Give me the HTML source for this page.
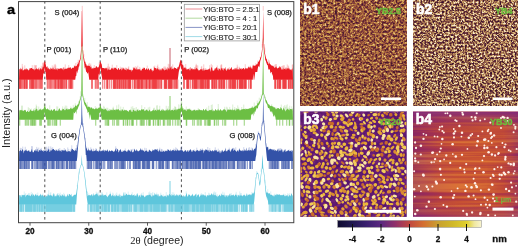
<!DOCTYPE html>
<html><head><meta charset="utf-8"><style>
html,body{margin:0;padding:0;background:#fff;overflow:hidden;}
svg{display:block;}
text{font-family:"Liberation Sans",sans-serif;}
.tk{font-size:8.2px;font-weight:bold;fill:#111;stroke:#111;stroke-width:0.3px;}
.nm{font-size:9.7px;}
.lg{font-size:7.6px;fill:#222;stroke:#222;stroke-width:0.15px;}
.pk{font-size:7.6px;fill:#222;stroke:#222;stroke-width:0.25px;}
.pl{font-size:12.6px;font-weight:bold;fill:#000;stroke:#000;stroke-width:0.4px;}
.xl{font-size:10.6px;fill:#222;}
.yl{font-size:11px;fill:#222;}
.bl{font-size:13.8px;font-weight:bold;fill:#fff;stroke:#fff;stroke-width:0.6px;}
.gl{font-size:9px;font-weight:bold;fill:#6cbc3c;stroke:#6cbc3c;stroke-width:0.35px;}
.gl2{font-size:7px;font-weight:bold;fill:#70c040;}
</style></head><body>
<svg width="520" height="248" viewBox="0 0 520 248">
<defs><filter id="t1" x="0" y="0" width="1" height="1" color-interpolation-filters="sRGB">
<feTurbulence type="fractalNoise" baseFrequency="0.45" numOctaves="3" seed="11"/>
<feColorMatrix type="matrix" values="1 0 0 0 0 1 0 0 0 0 1 0 0 0 0 0 0 0 0 1"/>
<feComponentTransfer><feFuncR type="table" tableValues="0.267 0.267 0.267 0.267 0.267 0.267 0.267 0.267 0.267 0.311 0.355 0.399 0.442 0.485 0.526 0.566 0.607 0.647 0.683 0.717 0.751 0.785 0.818 0.845 0.872 0.899 0.926 0.941 0.941 0.941 0.941 0.941 0.941"/><feFuncG type="table" tableValues="0.094 0.094 0.094 0.094 0.094 0.094 0.094 0.094 0.094 0.118 0.141 0.165 0.189 0.219 0.259 0.300 0.340 0.381 0.429 0.479 0.530 0.581 0.631 0.675 0.719 0.763 0.807 0.831 0.831 0.831 0.831 0.831 0.831"/><feFuncB type="table" tableValues="0.180 0.180 0.180 0.180 0.180 0.180 0.180 0.180 0.180 0.191 0.201 0.211 0.221 0.228 0.230 0.231 0.233 0.235 0.247 0.264 0.281 0.298 0.319 0.379 0.440 0.501 0.562 0.596 0.596 0.596 0.596 0.596 0.596"/></feComponentTransfer>
<feGaussianBlur stdDeviation="0.5"/>
</filter><filter id="t2" x="0" y="0" width="1" height="1" color-interpolation-filters="sRGB">
<feTurbulence type="fractalNoise" baseFrequency="0.52" numOctaves="3" seed="23"/>
<feColorMatrix type="matrix" values="1 0 0 0 0 1 0 0 0 0 1 0 0 0 0 0 0 0 0 1"/>
<feComponentTransfer><feFuncR type="table" tableValues="0.204 0.204 0.204 0.204 0.204 0.204 0.204 0.204 0.236 0.269 0.302 0.335 0.368 0.430 0.494 0.557 0.622 0.686 0.750 0.814 0.849 0.882 0.916 0.950 0.973 0.973 0.973 0.973 0.973 0.973 0.973 0.973 0.973"/><feFuncG type="table" tableValues="0.063 0.063 0.063 0.063 0.063 0.063 0.063 0.063 0.082 0.103 0.123 0.144 0.164 0.226 0.290 0.354 0.426 0.503 0.580 0.657 0.715 0.772 0.829 0.887 0.925 0.925 0.925 0.925 0.925 0.925 0.925 0.925 0.925"/><feFuncB type="table" tableValues="0.165 0.165 0.165 0.165 0.165 0.165 0.165 0.165 0.177 0.189 0.202 0.214 0.227 0.243 0.260 0.276 0.304 0.339 0.373 0.407 0.494 0.581 0.669 0.756 0.816 0.816 0.816 0.816 0.816 0.816 0.816 0.816 0.816"/></feComponentTransfer>
<feGaussianBlur stdDeviation="0.45"/>
</filter><filter id="t3" x="0" y="0" width="1" height="1" color-interpolation-filters="sRGB">
<feTurbulence type="fractalNoise" baseFrequency="0.28" numOctaves="2" seed="5"/>
<feColorMatrix type="matrix" values="1 0 0 0 0 1 0 0 0 0 1 0 0 0 0 0 0 0 0 1"/>
<feComponentTransfer><feFuncR type="table" tableValues="0.251 0.251 0.251 0.251 0.251 0.251 0.251 0.251 0.251 0.251 0.257 0.272 0.287 0.303 0.318 0.333 0.348 0.366 0.384 0.403 0.422 0.440 0.459 0.478 0.478 0.478 0.478 0.478 0.478 0.478 0.478 0.478 0.478"/><feFuncG type="table" tableValues="0.063 0.063 0.063 0.063 0.063 0.063 0.063 0.063 0.063 0.063 0.065 0.071 0.077 0.083 0.088 0.094 0.100 0.108 0.118 0.127 0.136 0.146 0.155 0.164 0.165 0.165 0.165 0.165 0.165 0.165 0.165 0.165 0.165"/><feFuncB type="table" tableValues="0.416 0.416 0.416 0.416 0.416 0.416 0.416 0.416 0.416 0.416 0.419 0.427 0.435 0.443 0.452 0.460 0.468 0.477 0.486 0.496 0.505 0.514 0.524 0.533 0.533 0.533 0.533 0.533 0.533 0.533 0.533 0.533 0.533"/></feComponentTransfer>
<feGaussianBlur stdDeviation="0.45"/>
</filter><filter id="t4" x="0" y="0" width="1" height="1" color-interpolation-filters="sRGB">
<feTurbulence type="fractalNoise" baseFrequency="0.006 0.3" numOctaves="2" seed="9"/>
<feColorMatrix type="matrix" values="1 0 0 0 0 1 0 0 0 0 1 0 0 0 0 0 0 0 0 1"/>
<feComponentTransfer><feFuncR type="table" tableValues="0.627 0.627 0.627 0.627 0.627 0.627 0.627 0.627 0.627 0.627 0.637 0.662 0.686 0.711 0.735 0.760 0.784 0.804 0.824 0.843 0.863 0.882 0.902 0.910 0.910 0.910 0.910 0.910 0.910 0.910 0.910 0.910 0.910"/><feFuncG type="table" tableValues="0.173 0.173 0.173 0.173 0.173 0.173 0.173 0.173 0.173 0.173 0.181 0.203 0.225 0.248 0.270 0.292 0.314 0.348 0.382 0.417 0.451 0.485 0.520 0.533 0.533 0.533 0.533 0.533 0.533 0.533 0.533 0.533 0.533"/><feFuncB type="table" tableValues="0.314 0.314 0.314 0.314 0.314 0.314 0.314 0.314 0.314 0.314 0.307 0.290 0.273 0.255 0.238 0.221 0.204 0.208 0.211 0.215 0.219 0.222 0.226 0.227 0.227 0.227 0.227 0.227 0.227 0.227 0.227 0.227 0.227"/></feComponentTransfer>
<feGaussianBlur stdDeviation="0.4"/>
</filter><filter id="sb" x="-5%" y="-5%" width="110%" height="110%"><feGaussianBlur stdDeviation="0.45"/></filter><linearGradient id="g4h" x1="0" x2="1" y1="0" y2="0"><stop offset="0" stop-color="#6a1e7a"/><stop offset="0.1" stop-color="#8a2a6c"/><stop offset="0.25" stop-color="#b03e48"/><stop offset="0.42" stop-color="#c65234"/><stop offset="0.7" stop-color="#cc5c30"/><stop offset="0.86" stop-color="#b8443c"/><stop offset="0.95" stop-color="#963060"/><stop offset="1" stop-color="#762478"/></linearGradient><linearGradient id="g4v" x1="0" x2="0" y1="0" y2="1"><stop offset="0" stop-color="#7a2480" stop-opacity="0.85"/><stop offset="0.07" stop-color="#7a2480" stop-opacity="0.4"/><stop offset="0.16" stop-color="#7a2480" stop-opacity="0"/><stop offset="0.88" stop-color="#7a2480" stop-opacity="0"/><stop offset="1" stop-color="#7a2480" stop-opacity="0.35"/></linearGradient><linearGradient id="cb"><stop offset="0" stop-color="#0e0a30"/><stop offset="0.1" stop-color="#201850"/><stop offset="0.2" stop-color="#3a2070"/><stop offset="0.3" stop-color="#5a2880"/><stop offset="0.4" stop-color="#90306a"/><stop offset="0.5" stop-color="#c04840"/><stop offset="0.6" stop-color="#d47030"/><stop offset="0.7" stop-color="#c8a030"/><stop offset="0.8" stop-color="#d0b828"/><stop offset="0.9" stop-color="#e0d030"/><stop offset="0.95" stop-color="#f0e8a0"/><stop offset="1" stop-color="#f8f4d0"/></linearGradient></defs>
<rect width="520" height="248" fill="#fff"/>

<line x1="44.8" y1="1.6" x2="44.8" y2="222.5" stroke="#3a3a3a" stroke-width="0.9" stroke-dasharray="2.6 2.8" stroke-dashoffset="0.6"/><line x1="100.2" y1="1.6" x2="100.2" y2="222.5" stroke="#3a3a3a" stroke-width="0.9" stroke-dasharray="2.6 2.8" stroke-dashoffset="0.6"/><line x1="181.4" y1="1.6" x2="181.4" y2="222.5" stroke="#3a3a3a" stroke-width="0.9" stroke-dasharray="2.6 2.8" stroke-dashoffset="0.6"/>
<path d="M170.0 48.0V71.8" stroke="#b83848" stroke-width="0.8" fill="none"/><path d="M19.00 79.80L19.25 69.68L19.75 68.81L20.25 69.68L20.75 67.39L21.25 69.68L21.75 68.81L22.25 67.39L22.75 70.71L23.25 69.68L23.75 70.71L24.25 68.81L24.75 69.68L25.25 69.68L25.75 68.81L26.25 68.06L26.75 69.68L27.25 68.81L27.75 69.68L28.25 69.68L28.75 70.71L29.25 69.68L29.75 68.06L30.25 68.81L30.75 68.06L31.25 68.06L31.75 68.06L32.25 68.81L32.75 68.81L33.25 69.68L33.75 68.81L34.25 68.81L34.75 70.71L35.25 68.81L35.75 69.68L36.25 68.06L36.75 68.81L37.25 68.81L37.75 69.68L38.25 67.39L38.75 69.68L39.25 68.81L39.75 70.71L40.25 68.81L40.75 68.06L41.25 68.81L41.75 69.68L42.25 68.81L42.75 66.26L43.25 67.39L43.75 64.90L44.25 62.61L44.75 61.19L45.25 62.35L45.75 64.51L46.25 66.80L46.75 67.39L47.25 65.77L47.75 68.81L48.25 68.81L48.75 67.39L49.25 69.68L49.75 68.81L50.25 69.68L50.75 67.39L51.25 68.81L51.75 68.81L52.25 67.39L52.75 69.68L53.25 67.39L53.75 69.68L54.25 68.81L54.75 69.68L55.25 67.39L55.75 69.68L56.25 69.68L56.75 68.06L57.25 70.71L57.75 68.06L58.25 68.81L58.75 68.81L59.25 68.81L59.75 68.81L60.25 68.81L60.75 68.06L61.25 68.06L61.75 68.81L62.25 69.68L62.75 68.06L63.25 70.71L63.75 66.80L64.25 69.68L64.75 68.81L65.25 68.81L65.75 68.81L66.25 68.81L66.75 68.81L67.25 67.39L67.75 68.81L68.25 68.06L68.75 67.39L69.25 67.39L69.75 68.06L70.25 66.80L70.75 68.06L71.25 68.81L71.75 68.81L72.25 67.39L72.75 68.06L73.25 67.39L73.75 68.06L74.25 66.26L74.75 65.77L75.25 66.80L75.75 65.77L76.25 66.26L76.75 65.77L77.25 64.15L77.75 64.15L78.25 63.48L78.75 62.10L79.25 60.41L79.75 60.06L80.25 57.38L80.75 53.16L81.25 46.60L81.75 11.20L82.25 10.21L82.75 47.06L83.25 53.69L83.75 56.78L84.25 58.83L84.75 61.86L85.25 61.41L85.75 63.80L86.25 64.15L86.75 65.77L87.25 66.26L87.75 65.32L88.25 65.77L88.75 65.77L89.25 66.26L89.75 65.77L90.25 66.80L90.75 67.39L91.25 66.80L91.75 68.81L92.25 68.81L92.75 68.06L93.25 67.39L93.75 68.81L94.25 68.06L94.75 68.06L95.25 67.39L95.75 68.06L96.25 66.26L96.75 66.26L97.25 67.39L97.75 67.39L98.25 67.39L98.75 66.80L99.25 65.32L99.75 62.89L100.25 61.41L100.75 62.61L101.25 63.48L101.75 64.51L102.25 68.06L102.75 68.06L103.25 68.06L103.75 68.06L104.25 68.81L104.75 68.06L105.25 68.06L105.75 68.81L106.25 67.39L106.75 68.81L107.25 68.06L107.75 70.71L108.25 68.06L108.75 69.68L109.25 69.68L109.75 69.68L110.25 69.68L110.75 69.68L111.25 67.39L111.75 68.81L112.25 68.81L112.75 68.06L113.25 67.39L113.75 69.68L114.25 68.06L114.75 67.39L115.25 68.06L115.75 67.39L116.25 68.81L116.75 68.81L117.25 69.68L117.75 69.68L118.25 68.06L118.75 68.06L119.25 69.68L119.75 69.68L120.25 68.81L120.75 68.81L121.25 70.71L121.75 67.39L122.25 67.39L122.75 69.68L123.25 68.81L123.75 67.39L124.25 68.81L124.75 69.68L125.25 69.68L125.75 69.68L126.25 70.71L126.75 67.39L127.25 69.68L127.75 68.81L128.25 68.81L128.75 69.68L129.25 69.68L129.75 69.68L130.25 69.68L130.75 69.68L131.25 71.97L131.75 69.68L132.25 69.68L132.75 70.71L133.25 68.81L133.75 67.39L134.25 68.81L134.75 67.39L135.25 68.81L135.75 69.68L136.25 66.80L136.75 69.68L137.25 69.68L137.75 68.81L138.25 69.68L138.75 68.81L139.25 69.68L139.75 68.81L140.25 69.68L140.75 70.71L141.25 70.71L141.75 69.68L142.25 68.81L142.75 68.81L143.25 68.81L143.75 68.06L144.25 68.06L144.75 67.39L145.25 69.68L145.75 69.68L146.25 68.81L146.75 68.06L147.25 69.68L147.75 69.68L148.25 68.81L148.75 68.06L149.25 70.71L149.75 69.68L150.25 68.81L150.75 68.81L151.25 70.71L151.75 68.06L152.25 71.97L152.75 69.68L153.25 70.71L153.75 70.71L154.25 66.80L154.75 68.06L155.25 68.06L155.75 68.06L156.25 69.68L156.75 68.06L157.25 68.06L157.75 68.81L158.25 69.68L158.75 68.81L159.25 70.71L159.75 68.81L160.25 68.81L160.75 70.71L161.25 68.06L161.75 70.71L162.25 68.81L162.75 68.06L163.25 68.81L163.75 69.68L164.25 69.68L164.75 70.71L165.25 69.68L165.75 69.68L166.25 69.68L166.75 68.81L167.25 66.80L167.75 70.71L168.25 67.39L168.75 68.81L169.25 67.39L169.75 69.68L170.25 68.06L170.75 67.39L171.25 66.26L171.75 69.68L172.25 68.81L172.75 68.81L173.25 68.06L173.75 69.68L174.25 66.80L174.75 68.06L175.25 68.06L175.75 68.06L176.25 68.81L176.75 68.81L177.25 68.81L177.75 66.80L178.25 67.39L178.75 66.26L179.25 64.51L179.75 62.35L180.25 60.79L180.75 59.57L181.25 61.41L181.75 63.48L182.25 64.51L182.75 64.90L183.25 65.77L183.75 68.81L184.25 67.39L184.75 67.39L185.25 68.81L185.75 66.80L186.25 68.81L186.75 69.68L187.25 68.81L187.75 69.68L188.25 68.81L188.75 68.81L189.25 70.71L189.75 68.06L190.25 66.80L190.75 70.71L191.25 68.06L191.75 68.81L192.25 69.68L192.75 68.06L193.25 69.68L193.75 68.81L194.25 69.68L194.75 68.81L195.25 68.81L195.75 69.68L196.25 68.06L196.75 68.06L197.25 69.68L197.75 68.06L198.25 69.68L198.75 70.71L199.25 69.68L199.75 70.71L200.25 68.81L200.75 69.68L201.25 68.81L201.75 69.68L202.25 68.81L202.75 70.71L203.25 70.71L203.75 68.06L204.25 69.68L204.75 70.71L205.25 69.68L205.75 69.68L206.25 69.68L206.75 69.68L207.25 69.68L207.75 69.68L208.25 68.81L208.75 69.68L209.25 68.81L209.75 68.06L210.25 71.97L210.75 68.81L211.25 68.06L211.75 66.80L212.25 68.81L212.75 70.71L213.25 70.71L213.75 70.71L214.25 68.06L214.75 70.71L215.25 68.81L215.75 68.06L216.25 68.06L216.75 66.80L217.25 68.06L217.75 69.68L218.25 70.71L218.75 68.06L219.25 68.81L219.75 68.81L220.25 70.71L220.75 68.81L221.25 67.39L221.75 68.81L222.25 68.06L222.75 69.68L223.25 70.71L223.75 68.06L224.25 68.81L224.75 68.81L225.25 66.80L225.75 69.68L226.25 70.71L226.75 70.71L227.25 68.06L227.75 69.68L228.25 69.68L228.75 68.06L229.25 69.68L229.75 69.68L230.25 68.81L230.75 68.81L231.25 66.80L231.75 68.06L232.25 69.68L232.75 69.68L233.25 68.81L233.75 69.68L234.25 69.68L234.75 68.06L235.25 69.68L235.75 68.06L236.25 68.06L236.75 69.68L237.25 68.81L237.75 69.68L238.25 68.81L238.75 69.68L239.25 69.68L239.75 67.39L240.25 68.81L240.75 68.81L241.25 68.06L241.75 69.68L242.25 68.81L242.75 68.81L243.25 68.06L243.75 68.06L244.25 69.68L244.75 68.81L245.25 67.39L245.75 68.81L246.25 68.06L246.75 68.81L247.25 68.81L247.75 68.06L248.25 66.80L248.75 67.39L249.25 68.06L249.75 66.80L250.25 68.06L250.75 66.26L251.25 67.39L251.75 68.81L252.25 68.81L252.75 65.32L253.25 66.26L253.75 64.90L254.25 65.77L254.75 65.77L255.25 65.32L255.75 65.77L256.25 64.15L256.75 64.51L257.25 64.15L257.75 63.18L258.25 61.41L258.75 61.63L259.25 60.60L259.75 59.73L260.25 57.83L260.75 57.07L261.25 54.72L261.75 51.47L262.25 47.23L262.75 37.82L263.25 10.24L263.75 40.13L264.25 47.87L264.75 51.90L265.25 54.59L265.75 56.78L266.25 58.70L266.75 59.12L267.25 61.41L267.75 62.10L268.25 62.89L268.75 64.51L269.25 62.10L269.75 63.80L270.25 64.90L270.75 63.80L271.25 65.77L271.75 65.32L272.25 66.26L272.75 65.77L273.25 65.77L273.75 66.80L274.25 67.39L274.75 68.06L275.25 67.39L275.75 66.80L276.25 66.26L276.75 67.39L277.25 68.81L277.75 68.06L278.25 68.06L278.75 67.39L279.25 67.39L279.75 65.77L280.25 68.06L280.75 66.26L281.25 68.81L281.75 69.68L282.25 69.68L282.75 68.81L283.25 67.39L283.75 69.68L284.25 68.81L284.75 68.81L285.25 69.68L285.75 67.39L286.25 67.39L286.75 69.68L287.25 68.81L287.75 68.06L288.25 68.06L288.75 68.81L289.25 69.68L289.75 68.06L290.25 69.68L290.75 69.68L291.25 68.81L291.75 70.71L292.25 68.81L292.75 67.39L293.00 79.80L292.75 79.80L292.25 79.80L291.75 79.80L291.25 79.80L290.75 79.80L290.25 79.80L289.75 79.80L289.25 79.80L288.75 79.80L288.25 79.80L287.75 79.80L287.25 79.80L286.75 79.80L286.25 79.80L285.75 79.80L285.25 79.80L284.75 79.80L284.25 79.80L283.75 79.80L283.25 79.80L282.75 79.80L282.25 79.80L281.75 79.80L281.25 79.80L280.75 79.80L280.25 79.80L279.75 79.80L279.25 79.80L278.75 79.80L278.25 79.80L277.75 79.80L277.25 79.80L276.75 79.80L276.25 79.80L275.75 79.80L275.25 79.80L274.75 79.80L274.25 79.80L273.75 79.80L273.25 79.80L272.75 73.60L272.25 75.89L271.75 71.97L271.25 71.97L270.75 73.60L270.25 71.97L269.75 68.81L269.25 69.68L268.75 69.68L268.25 68.81L267.75 64.90L267.25 65.32L266.75 63.80L266.25 62.61L265.75 60.41L265.25 60.23L264.75 55.50L264.25 53.21L263.75 48.19L263.25 39.52L262.75 46.40L262.25 51.47L261.75 55.13L261.25 57.94L260.75 59.73L260.25 60.99L259.75 65.32L259.25 67.39L258.75 66.26L258.25 66.26L257.75 68.81L257.25 71.97L256.75 71.97L256.25 71.97L255.75 71.97L255.25 71.97L254.75 75.89L254.25 79.80L253.75 79.80L253.25 73.60L252.75 79.80L252.25 79.80L251.75 79.80L251.25 79.80L250.75 79.80L250.25 79.80L249.75 79.80L249.25 79.80L248.75 79.80L248.25 79.80L247.75 79.80L247.25 79.80L246.75 79.80L246.25 79.80L245.75 79.80L245.25 79.80L244.75 79.80L244.25 79.80L243.75 79.80L243.25 79.80L242.75 79.80L242.25 79.80L241.75 79.80L241.25 79.80L240.75 79.80L240.25 79.80L239.75 79.80L239.25 79.80L238.75 79.80L238.25 79.80L237.75 79.80L237.25 79.80L236.75 79.80L236.25 79.80L235.75 79.80L235.25 79.80L234.75 79.80L234.25 79.80L233.75 79.80L233.25 79.80L232.75 79.80L232.25 79.80L231.75 79.80L231.25 79.80L230.75 79.80L230.25 79.80L229.75 79.80L229.25 79.80L228.75 79.80L228.25 79.80L227.75 79.80L227.25 79.80L226.75 79.80L226.25 79.80L225.75 79.80L225.25 79.80L224.75 79.80L224.25 79.80L223.75 79.80L223.25 79.80L222.75 79.80L222.25 79.80L221.75 79.80L221.25 79.80L220.75 79.80L220.25 79.80L219.75 79.80L219.25 79.80L218.75 79.80L218.25 79.80L217.75 79.80L217.25 79.80L216.75 79.80L216.25 79.80L215.75 79.80L215.25 79.80L214.75 79.80L214.25 79.80L213.75 79.80L213.25 79.80L212.75 79.80L212.25 79.80L211.75 79.80L211.25 79.80L210.75 79.80L210.25 79.80L209.75 79.80L209.25 79.80L208.75 79.80L208.25 79.80L207.75 79.80L207.25 79.80L206.75 79.80L206.25 79.80L205.75 79.80L205.25 79.80L204.75 79.80L204.25 79.80L203.75 79.80L203.25 79.80L202.75 79.80L202.25 79.80L201.75 79.80L201.25 79.80L200.75 79.80L200.25 79.80L199.75 79.80L199.25 79.80L198.75 79.80L198.25 79.80L197.75 79.80L197.25 79.80L196.75 79.80L196.25 79.80L195.75 79.80L195.25 79.80L194.75 79.80L194.25 79.80L193.75 79.80L193.25 79.80L192.75 79.80L192.25 79.80L191.75 79.80L191.25 79.80L190.75 79.80L190.25 79.80L189.75 79.80L189.25 79.80L188.75 79.80L188.25 79.80L187.75 79.80L187.25 79.80L186.75 79.80L186.25 79.80L185.75 79.80L185.25 79.80L184.75 79.80L184.25 79.80L183.75 79.80L183.25 79.80L182.75 75.89L182.25 75.89L181.75 69.68L181.25 68.81L180.75 66.80L180.25 64.90L179.75 68.81L179.25 69.68L178.75 71.97L178.25 75.89L177.75 79.80L177.25 79.80L176.75 79.80L176.25 79.80L175.75 79.80L175.25 79.80L174.75 79.80L174.25 79.80L173.75 79.80L173.25 79.80L172.75 79.80L172.25 79.80L171.75 79.80L171.25 79.80L170.75 79.80L170.25 79.80L169.75 79.80L169.25 79.80L168.75 79.80L168.25 79.80L167.75 79.80L167.25 79.80L166.75 79.80L166.25 79.80L165.75 79.80L165.25 79.80L164.75 79.80L164.25 79.80L163.75 79.80L163.25 79.80L162.75 79.80L162.25 79.80L161.75 79.80L161.25 79.80L160.75 79.80L160.25 79.80L159.75 79.80L159.25 79.80L158.75 79.80L158.25 79.80L157.75 79.80L157.25 79.80L156.75 79.80L156.25 79.80L155.75 79.80L155.25 79.80L154.75 79.80L154.25 79.80L153.75 79.80L153.25 79.80L152.75 79.80L152.25 79.80L151.75 79.80L151.25 79.80L150.75 79.80L150.25 79.80L149.75 79.80L149.25 79.80L148.75 79.80L148.25 79.80L147.75 79.80L147.25 79.80L146.75 79.80L146.25 79.80L145.75 79.80L145.25 79.80L144.75 79.80L144.25 79.80L143.75 79.80L143.25 79.80L142.75 79.80L142.25 79.80L141.75 79.80L141.25 79.80L140.75 79.80L140.25 79.80L139.75 79.80L139.25 79.80L138.75 79.80L138.25 79.80L137.75 79.80L137.25 79.80L136.75 79.80L136.25 79.80L135.75 79.80L135.25 79.80L134.75 79.80L134.25 79.80L133.75 79.80L133.25 79.80L132.75 79.80L132.25 79.80L131.75 79.80L131.25 79.80L130.75 79.80L130.25 79.80L129.75 79.80L129.25 79.80L128.75 79.80L128.25 79.80L127.75 79.80L127.25 79.80L126.75 79.80L126.25 79.80L125.75 79.80L125.25 79.80L124.75 79.80L124.25 79.80L123.75 79.80L123.25 79.80L122.75 79.80L122.25 79.80L121.75 79.80L121.25 79.80L120.75 79.80L120.25 79.80L119.75 79.80L119.25 79.80L118.75 79.80L118.25 79.80L117.75 79.80L117.25 79.80L116.75 79.80L116.25 79.80L115.75 79.80L115.25 79.80L114.75 79.80L114.25 79.80L113.75 79.80L113.25 79.80L112.75 79.80L112.25 79.80L111.75 79.80L111.25 79.80L110.75 79.80L110.25 79.80L109.75 79.80L109.25 79.80L108.75 79.80L108.25 79.80L107.75 79.80L107.25 79.80L106.75 79.80L106.25 79.80L105.75 79.80L105.25 79.80L104.75 79.80L104.25 79.80L103.75 79.80L103.25 79.80L102.75 79.80L102.25 79.80L101.75 75.89L101.25 73.60L100.75 69.68L100.25 66.26L99.75 73.60L99.25 75.89L98.75 73.60L98.25 79.80L97.75 79.80L97.25 79.80L96.75 79.80L96.25 79.80L95.75 79.80L95.25 79.80L94.75 79.80L94.25 79.80L93.75 79.80L93.25 79.80L92.75 79.80L92.25 79.80L91.75 79.80L91.25 79.80L90.75 79.80L90.25 79.80L89.75 79.80L89.25 79.80L88.75 75.89L88.25 71.97L87.75 73.60L87.25 73.60L86.75 71.97L86.25 71.97L85.75 69.68L85.25 66.80L84.75 68.81L84.25 63.80L83.75 60.99L83.25 57.71L82.75 52.72L82.25 46.37L81.75 46.86L81.25 53.69L80.75 58.70L80.25 60.41L79.75 62.35L79.25 66.26L78.75 66.80L78.25 69.68L77.75 70.71L77.25 73.60L76.75 70.71L76.25 75.89L75.75 75.89L75.25 79.80L74.75 79.80L74.25 79.80L73.75 79.80L73.25 79.80L72.75 79.80L72.25 79.80L71.75 79.80L71.25 79.80L70.75 79.80L70.25 79.80L69.75 79.80L69.25 79.80L68.75 79.80L68.25 79.80L67.75 79.80L67.25 79.80L66.75 79.80L66.25 79.80L65.75 79.80L65.25 79.80L64.75 79.80L64.25 79.80L63.75 79.80L63.25 79.80L62.75 79.80L62.25 79.80L61.75 79.80L61.25 79.80L60.75 79.80L60.25 79.80L59.75 79.80L59.25 79.80L58.75 79.80L58.25 79.80L57.75 79.80L57.25 79.80L56.75 79.80L56.25 79.80L55.75 79.80L55.25 79.80L54.75 79.80L54.25 79.80L53.75 79.80L53.25 79.80L52.75 79.80L52.25 79.80L51.75 79.80L51.25 79.80L50.75 79.80L50.25 79.80L49.75 79.80L49.25 79.80L48.75 79.80L48.25 79.80L47.75 79.80L47.25 79.80L46.75 79.80L46.25 79.80L45.75 71.97L45.25 71.97L44.75 66.26L44.25 73.60L43.75 73.60L43.25 73.60L42.75 79.80L42.25 79.80L41.75 79.80L41.25 79.80L40.75 79.80L40.25 79.80L39.75 79.80L39.25 79.80L38.75 79.80L38.25 79.80L37.75 79.80L37.25 79.80L36.75 79.80L36.25 79.80L35.75 79.80L35.25 79.80L34.75 79.80L34.25 79.80L33.75 79.80L33.25 79.80L32.75 79.80L32.25 79.80L31.75 79.80L31.25 79.80L30.75 79.80L30.25 79.80L29.75 79.80L29.25 79.80L28.75 79.80L28.25 79.80L27.75 79.80L27.25 79.80L26.75 79.80L26.25 79.80L25.75 79.80L25.25 79.80L24.75 79.80L24.25 79.80L23.75 79.80L23.25 79.80L22.75 79.80L22.25 79.80L21.75 79.80L21.25 79.80L20.75 79.80L20.25 79.80L19.75 79.80L19.25 79.80Z" fill="#ec1c24"/><path d="M22.25 67.9V63.9M22.75 71.2V66.5M24.75 70.2V65.3M32.25 69.3V65.2M34.25 69.3V64.9M34.75 71.2V69.4M35.25 69.3V65.4M35.75 70.2V65.4M36.25 68.6V65.0M39.25 69.3V67.4M39.75 71.2V69.2M41.25 69.3V65.8M42.25 69.3V67.6M42.75 66.8V62.6M43.25 67.9V63.0M43.75 65.4V62.2M45.25 62.8V60.7M47.75 69.3V67.2M50.25 70.2V67.6M52.25 67.9V65.4M52.75 70.2V67.7M53.75 70.2V66.5M54.25 69.3V64.6M55.25 67.9V63.9M55.75 70.2V65.3M57.25 71.2V68.6M63.25 71.2V67.4M64.25 70.2V67.3M65.25 69.3V64.4M68.75 67.9V65.0M74.25 66.8V64.9M75.75 66.3V63.0M77.25 64.6V62.1M78.25 64.0V59.8M82.25 10.7V5.9M83.25 54.2V50.3M83.75 57.3V54.0M88.75 66.3V63.8M89.25 66.8V62.9M90.25 67.3V65.2M90.75 67.9V63.6M91.25 67.3V65.8M94.25 68.6V65.0M95.75 68.6V66.1M99.25 65.8V62.4M105.75 69.3V67.5M107.75 71.2V66.4M108.25 68.6V63.7M109.25 70.2V66.6M109.75 70.2V67.3M112.25 69.3V64.7M116.75 69.3V65.1M120.25 69.3V66.7M125.25 70.2V67.5M125.75 70.2V67.9M128.25 69.3V67.4M128.75 70.2V66.3M131.25 72.5V69.7M133.25 69.3V67.0M134.25 69.3V66.8M135.75 70.2V66.2M137.75 69.3V65.7M139.75 69.3V66.9M140.75 71.2V68.5M143.25 69.3V67.0M147.25 70.2V65.6M153.75 71.2V66.4M154.75 68.6V65.6M157.25 68.6V66.0M157.75 69.3V64.6M158.75 69.3V67.2M163.75 70.2V66.7M164.75 71.2V66.4M165.25 70.2V68.0M165.75 70.2V66.7M168.25 67.9V63.8M169.25 67.9V64.4M170.25 68.6V66.9M171.75 70.2V66.3M172.75 69.3V64.4M182.25 65.0V60.6M183.75 69.3V64.8M185.75 67.3V64.0M186.25 69.3V67.6M194.75 69.3V67.0M195.25 69.3V67.6M195.75 70.2V65.4M196.25 68.6V63.8M196.75 68.6V65.2M197.75 68.6V65.4M201.25 69.3V66.8M201.75 70.2V65.9M203.25 71.2V68.1M203.75 68.6V64.3M204.75 71.2V68.3M205.75 70.2V68.0M209.75 68.6V65.2M211.25 68.6V63.9M212.25 69.3V65.2M217.25 68.6V65.5M220.75 69.3V65.3M221.25 67.9V64.3M221.75 69.3V64.6M226.25 71.2V69.1M229.25 70.2V67.1M235.25 70.2V67.8M236.75 70.2V67.4M237.25 69.3V64.7M237.75 70.2V66.7M239.25 70.2V66.7M245.25 67.9V64.2M248.75 67.9V65.9M250.25 68.6V65.6M253.25 66.8V64.6M255.75 66.3V63.1M257.75 63.7V60.6M260.25 58.3V56.8M262.25 47.7V44.0M263.25 10.7V6.0M264.25 48.4V44.1M264.75 52.4V47.7M268.25 63.4V59.6M269.25 62.6V60.4M272.25 66.8V65.2M274.75 68.6V64.7M275.75 67.3V64.2M276.25 66.8V64.1M281.75 70.2V66.0M282.75 69.3V65.8M283.25 67.9V65.3M284.25 69.3V65.2M287.25 69.3V64.4M288.25 68.6V65.5M288.75 69.3V66.6M292.25 69.3V64.8M292.75 67.9V64.2" stroke="#ec1c24" stroke-width="0.4" fill="none" opacity="0.6"/><path d="M19.25 79.5V88.8M19.75 79.5V88.8M20.25 79.5V88.8M20.75 79.5V88.8M21.75 79.5V88.8M22.25 79.5V88.8M23.75 79.5V88.8M24.25 79.5V88.8M24.75 79.5V88.8M25.25 79.5V88.8M26.25 79.5V88.8M26.75 79.5V88.8M27.25 79.5V88.8M29.75 79.5V88.8M30.25 79.5V88.8M31.25 79.5V88.8M31.75 79.5V88.8M32.25 79.5V88.8M32.75 79.5V88.8M33.25 79.5V88.8M33.75 79.5V88.8M34.75 79.5V88.8M35.75 79.5V88.8M36.25 79.5V88.8M37.25 79.5V88.8M38.75 79.5V88.8M39.75 79.5V88.8M40.75 79.5V88.8M41.25 79.5V88.8M42.25 79.5V88.8M47.25 79.5V88.8M48.25 79.5V88.8M49.75 79.5V88.8M50.25 79.5V88.8M51.25 79.5V88.8M52.25 79.5V88.8M53.75 79.5V88.8M54.75 79.5V88.8M55.25 79.5V88.8M55.75 79.5V88.8M56.75 79.5V88.8M57.75 79.5V88.8M58.25 79.5V88.8M58.75 79.5V88.8M59.25 79.5V88.8M60.25 79.5V88.8M60.75 79.5V88.8M61.25 79.5V88.8M61.75 79.5V88.8M62.25 79.5V88.8M62.75 79.5V88.8M63.75 79.5V88.8M64.25 79.5V88.8M65.25 79.5V88.8M66.25 79.5V88.8M66.75 79.5V88.8M68.75 79.5V88.8M69.75 79.5V88.8M70.25 79.5V88.8M70.75 79.5V88.8M71.25 79.5V88.8M71.75 79.5V88.8M72.75 79.5V88.8M91.75 79.5V88.8M92.25 79.5V88.8M95.25 79.5V88.8M96.25 79.5V88.8M97.75 79.5V88.8M98.25 79.5V88.8M102.75 79.5V88.8M104.75 79.5V88.8M106.75 79.5V88.8M107.25 79.5V88.8M107.75 79.5V88.8M109.25 79.5V88.8M111.25 79.5V88.8M113.25 79.5V88.8M113.75 79.5V88.8M114.25 79.5V88.8M114.75 79.5V88.8M115.25 79.5V88.8M115.75 79.5V88.8M116.75 79.5V88.8M117.25 79.5V88.8M117.75 79.5V88.8M118.75 79.5V88.8M119.25 79.5V88.8M119.75 79.5V88.8M120.25 79.5V88.8M121.25 79.5V88.8M121.75 79.5V88.8M122.75 79.5V88.8M123.25 79.5V88.8M123.75 79.5V88.8M124.75 79.5V88.8M125.25 79.5V88.8M125.75 79.5V88.8M126.75 79.5V88.8M127.25 79.5V88.8M128.25 79.5V88.8M128.75 79.5V88.8M129.25 79.5V88.8M129.75 79.5V88.8M130.25 79.5V88.8M130.75 79.5V88.8M132.75 79.5V88.8M134.25 79.5V88.8M134.75 79.5V88.8M135.25 79.5V88.8M136.25 79.5V88.8M137.25 79.5V88.8M137.75 79.5V88.8M138.25 79.5V88.8M138.75 79.5V88.8M139.25 79.5V88.8M139.75 79.5V88.8M140.75 79.5V88.8M141.25 79.5V88.8M141.75 79.5V88.8M142.25 79.5V88.8M142.75 79.5V88.8M143.75 79.5V88.8M144.75 79.5V88.8M145.75 79.5V88.8M146.25 79.5V88.8M146.75 79.5V88.8M147.25 79.5V88.8M148.75 79.5V88.8M149.25 79.5V88.8M149.75 79.5V88.8M150.25 79.5V88.8M151.25 79.5V88.8M152.25 79.5V88.8M152.75 79.5V88.8M153.25 79.5V88.8M153.75 79.5V88.8M154.25 79.5V88.8M154.75 79.5V88.8M155.25 79.5V88.8M155.75 79.5V88.8M156.25 79.5V88.8M156.75 79.5V88.8M157.75 79.5V88.8M158.25 79.5V88.8M159.25 79.5V88.8M160.25 79.5V88.8M161.25 79.5V88.8M161.75 79.5V88.8M164.25 79.5V88.8M164.75 79.5V88.8M165.25 79.5V88.8M165.75 79.5V88.8M166.25 79.5V88.8M166.75 79.5V88.8M168.25 79.5V88.8M168.75 79.5V88.8M169.25 79.5V88.8M169.75 79.5V88.8M170.25 79.5V88.8M170.75 79.5V88.8M171.25 79.5V88.8M171.75 79.5V88.8M172.25 79.5V88.8M173.75 79.5V88.8M174.75 79.5V88.8M175.25 79.5V88.8M176.25 79.5V88.8M176.75 79.5V88.8M177.75 79.5V88.8M183.75 79.5V88.8M184.25 79.5V88.8M186.75 79.5V88.8M187.25 79.5V88.8M187.75 79.5V88.8M188.25 79.5V88.8M188.75 79.5V88.8M190.25 79.5V88.8M192.25 79.5V88.8M192.75 79.5V88.8M193.75 79.5V88.8M194.25 79.5V88.8M194.75 79.5V88.8M195.25 79.5V88.8M195.75 79.5V88.8M196.25 79.5V88.8M196.75 79.5V88.8M197.25 79.5V88.8M198.25 79.5V88.8M199.25 79.5V88.8M200.25 79.5V88.8M200.75 79.5V88.8M201.25 79.5V88.8M201.75 79.5V88.8M202.25 79.5V88.8M202.75 79.5V88.8M203.25 79.5V88.8M203.75 79.5V88.8M204.75 79.5V88.8M205.25 79.5V88.8M205.75 79.5V88.8M206.75 79.5V88.8M207.25 79.5V88.8M207.75 79.5V88.8M208.25 79.5V88.8M208.75 79.5V88.8M209.25 79.5V88.8M211.75 79.5V88.8M212.25 79.5V88.8M212.75 79.5V88.8M213.25 79.5V88.8M214.25 79.5V88.8M214.75 79.5V88.8M215.25 79.5V88.8M216.25 79.5V88.8M216.75 79.5V88.8M218.25 79.5V88.8M219.25 79.5V88.8M219.75 79.5V88.8M220.75 79.5V88.8M221.25 79.5V88.8M221.75 79.5V88.8M222.25 79.5V88.8M223.25 79.5V88.8M223.75 79.5V88.8M224.25 79.5V88.8M224.75 79.5V88.8M226.75 79.5V88.8M228.75 79.5V88.8M229.75 79.5V88.8M230.25 79.5V88.8M230.75 79.5V88.8M231.75 79.5V88.8M232.25 79.5V88.8M232.75 79.5V88.8M233.25 79.5V88.8M233.75 79.5V88.8M234.25 79.5V88.8M234.75 79.5V88.8M235.25 79.5V88.8M235.75 79.5V88.8M237.25 79.5V88.8M237.75 79.5V88.8M239.25 79.5V88.8M239.75 79.5V88.8M240.25 79.5V88.8M240.75 79.5V88.8M241.25 79.5V88.8M241.75 79.5V88.8M242.25 79.5V88.8M242.75 79.5V88.8M243.25 79.5V88.8M244.25 79.5V88.8M244.75 79.5V88.8M245.25 79.5V88.8M245.75 79.5V88.8M246.25 79.5V88.8M248.75 79.5V88.8M250.25 79.5V88.8M250.75 79.5V88.8M251.25 79.5V88.8M274.75 79.5V88.8M275.25 79.5V88.8M275.75 79.5V88.8M277.25 79.5V88.8M277.75 79.5V88.8M278.75 79.5V88.8M279.25 79.5V88.8M279.75 79.5V88.8M280.25 79.5V88.8M280.75 79.5V88.8M282.75 79.5V88.8M283.25 79.5V88.8M283.75 79.5V88.8M284.25 79.5V88.8M284.75 79.5V88.8M285.25 79.5V88.8M285.75 79.5V88.8M286.25 79.5V88.8M288.25 79.5V88.8M288.75 79.5V88.8M289.25 79.5V88.8M290.25 79.5V88.8M290.75 79.5V88.8M291.75 79.5V88.8M292.25 79.5V88.8M292.75 79.5V88.8" stroke="#ec1c24" stroke-width="0.7" fill="none"/><path d="M170.0 96.0V111.8" stroke="#6cbf44" stroke-width="0.8" fill="none"/><path d="M19.00 119.80L19.25 111.24L19.75 109.87L20.25 110.50L20.75 109.87L21.25 110.50L21.75 109.87L22.25 110.50L22.75 110.50L23.25 111.24L23.75 110.50L24.25 109.87L24.75 110.50L25.25 109.87L25.75 110.50L26.25 112.11L26.75 112.11L27.25 110.50L27.75 111.24L28.25 112.11L28.75 112.11L29.25 110.50L29.75 112.11L30.25 109.87L30.75 109.30L31.25 111.24L31.75 110.50L32.25 111.24L32.75 110.50L33.25 111.24L33.75 108.80L34.25 112.11L34.75 109.87L35.25 110.50L35.75 109.30L36.25 109.30L36.75 108.80L37.25 109.30L37.75 111.24L38.25 110.50L38.75 110.50L39.25 109.30L39.75 109.87L40.25 108.80L40.75 109.87L41.25 109.30L41.75 110.50L42.25 109.30L42.75 109.30L43.25 109.30L43.75 108.34L44.25 106.55L44.75 105.49L45.25 106.27L45.75 108.34L46.25 109.30L46.75 109.30L47.25 109.30L47.75 107.93L48.25 109.30L48.75 109.87L49.25 110.50L49.75 109.87L50.25 111.24L50.75 109.87L51.25 109.87L51.75 109.30L52.25 110.50L52.75 111.24L53.25 109.30L53.75 109.87L54.25 108.80L54.75 109.30L55.25 110.50L55.75 111.24L56.25 110.50L56.75 110.50L57.25 110.50L57.75 111.24L58.25 110.50L58.75 109.30L59.25 108.34L59.75 108.80L60.25 110.50L60.75 110.50L61.25 109.87L61.75 111.24L62.25 109.87L62.75 108.80L63.25 109.30L63.75 108.80L64.25 110.50L64.75 109.87L65.25 109.30L65.75 110.50L66.25 108.34L66.75 109.30L67.25 109.30L67.75 109.87L68.25 109.30L68.75 109.30L69.25 109.30L69.75 109.30L70.25 108.34L70.75 107.93L71.25 109.30L71.75 107.55L72.25 107.93L72.75 109.30L73.25 107.93L73.75 107.55L74.25 107.55L74.75 106.86L75.25 105.73L75.75 105.26L76.25 106.55L76.75 105.49L77.25 105.26L77.75 104.24L78.25 104.24L78.75 102.82L79.25 101.41L79.75 99.50L80.25 98.81L80.75 96.23L81.25 94.91L81.75 51.79L82.25 42.84L82.75 95.10L83.25 96.33L83.75 98.69L84.25 99.93L84.75 101.94L85.25 102.42L85.75 103.10L86.25 104.05L86.75 105.49L87.25 105.49L87.75 107.55L88.25 106.86L88.75 106.55L89.25 106.86L89.75 107.19L90.25 107.55L90.75 108.80L91.25 107.55L91.75 107.19L92.25 108.80L92.75 108.80L93.25 108.34L93.75 108.80L94.25 109.30L94.75 109.30L95.25 108.34L95.75 108.80L96.25 108.34L96.75 108.80L97.25 108.80L97.75 108.80L98.25 108.34L98.75 107.55L99.25 107.93L99.75 106.55L100.25 105.49L100.75 105.49L101.25 107.93L101.75 108.80L102.25 108.80L102.75 108.80L103.25 109.30L103.75 109.87L104.25 108.80L104.75 109.87L105.25 109.30L105.75 108.34L106.25 109.87L106.75 110.50L107.25 110.50L107.75 111.24L108.25 111.24L108.75 109.87L109.25 111.24L109.75 110.50L110.25 110.50L110.75 109.30L111.25 110.50L111.75 109.30L112.25 110.50L112.75 109.87L113.25 107.93L113.75 110.50L114.25 109.87L114.75 109.87L115.25 110.50L115.75 109.30L116.25 109.30L116.75 109.87L117.25 109.87L117.75 109.30L118.25 109.30L118.75 109.30L119.25 110.50L119.75 110.50L120.25 109.87L120.75 111.24L121.25 111.24L121.75 109.30L122.25 109.87L122.75 109.30L123.25 110.50L123.75 111.24L124.25 109.30L124.75 110.50L125.25 109.87L125.75 110.50L126.25 110.50L126.75 109.87L127.25 111.24L127.75 110.50L128.25 112.11L128.75 111.24L129.25 109.87L129.75 110.50L130.25 109.30L130.75 110.50L131.25 110.50L131.75 112.11L132.25 112.11L132.75 110.50L133.25 109.87L133.75 109.87L134.25 110.50L134.75 111.24L135.25 111.24L135.75 110.50L136.25 109.87L136.75 112.11L137.25 109.87L137.75 109.30L138.25 111.24L138.75 110.50L139.25 109.87L139.75 110.50L140.25 110.50L140.75 110.50L141.25 108.80L141.75 109.87L142.25 109.87L142.75 109.30L143.25 109.30L143.75 109.30L144.25 110.50L144.75 111.24L145.25 110.50L145.75 110.50L146.25 109.87L146.75 109.30L147.25 111.24L147.75 109.30L148.25 111.24L148.75 111.24L149.25 109.87L149.75 109.87L150.25 112.11L150.75 110.50L151.25 111.24L151.75 111.24L152.25 110.50L152.75 110.50L153.25 109.30L153.75 110.50L154.25 109.87L154.75 111.24L155.25 109.87L155.75 109.87L156.25 111.24L156.75 109.87L157.25 109.30L157.75 110.50L158.25 109.30L158.75 110.50L159.25 109.30L159.75 109.87L160.25 111.24L160.75 110.50L161.25 110.50L161.75 109.30L162.25 111.24L162.75 109.30L163.25 109.30L163.75 110.50L164.25 110.50L164.75 110.50L165.25 111.24L165.75 109.87L166.25 110.50L166.75 109.87L167.25 108.34L167.75 110.50L168.25 110.50L168.75 109.87L169.25 109.30L169.75 109.87L170.25 111.24L170.75 109.87L171.25 109.87L171.75 110.50L172.25 109.87L172.75 109.87L173.25 111.24L173.75 109.87L174.25 109.87L174.75 109.87L175.25 110.50L175.75 109.30L176.25 108.80L176.75 110.50L177.25 109.87L177.75 108.80L178.25 109.30L178.75 108.34L179.25 109.30L179.75 108.34L180.25 108.80L180.75 107.55L181.25 104.82L181.75 104.82L182.25 106.55L182.75 108.80L183.25 107.93L183.75 110.50L184.25 109.30L184.75 109.87L185.25 109.30L185.75 110.50L186.25 110.50L186.75 111.24L187.25 109.87L187.75 108.80L188.25 109.87L188.75 108.80L189.25 108.80L189.75 109.87L190.25 109.87L190.75 109.87L191.25 109.87L191.75 111.24L192.25 110.50L192.75 110.50L193.25 110.50L193.75 109.87L194.25 109.87L194.75 109.87L195.25 109.87L195.75 111.24L196.25 109.87L196.75 110.50L197.25 109.87L197.75 110.50L198.25 110.50L198.75 109.30L199.25 109.87L199.75 109.30L200.25 110.50L200.75 109.87L201.25 110.50L201.75 109.87L202.25 110.50L202.75 110.50L203.25 109.30L203.75 108.80L204.25 110.50L204.75 110.50L205.25 109.87L205.75 108.80L206.25 109.87L206.75 110.50L207.25 111.24L207.75 110.50L208.25 111.24L208.75 110.50L209.25 109.87L209.75 110.50L210.25 109.87L210.75 110.50L211.25 109.30L211.75 110.50L212.25 108.34L212.75 111.24L213.25 111.24L213.75 109.87L214.25 111.24L214.75 110.50L215.25 109.30L215.75 109.30L216.25 110.50L216.75 110.50L217.25 109.30L217.75 111.24L218.25 108.34L218.75 110.50L219.25 110.50L219.75 110.50L220.25 108.80L220.75 109.87L221.25 110.50L221.75 110.50L222.25 110.50L222.75 110.50L223.25 109.30L223.75 109.87L224.25 108.80L224.75 109.87L225.25 110.50L225.75 109.30L226.25 112.11L226.75 111.24L227.25 108.80L227.75 110.50L228.25 109.87L228.75 109.30L229.25 109.87L229.75 109.87L230.25 109.87L230.75 109.30L231.25 110.50L231.75 109.30L232.25 110.50L232.75 108.34L233.25 109.87L233.75 110.50L234.25 109.30L234.75 109.87L235.25 111.24L235.75 109.30L236.25 110.50L236.75 108.34L237.25 109.87L237.75 108.80L238.25 109.30L238.75 109.30L239.25 109.30L239.75 110.50L240.25 110.50L240.75 109.87L241.25 109.30L241.75 109.87L242.25 109.30L242.75 109.30L243.25 108.80L243.75 109.30L244.25 109.30L244.75 108.80L245.25 109.87L245.75 108.34L246.25 109.30L246.75 108.80L247.25 108.80L247.75 109.30L248.25 108.80L248.75 108.80L249.25 108.80L249.75 107.93L250.25 108.34L250.75 108.34L251.25 107.93L251.75 107.55L252.25 107.93L252.75 105.99L253.25 107.55L253.75 107.93L254.25 106.55L254.75 106.86L255.25 106.27L255.75 105.49L256.25 105.49L256.75 105.49L257.25 104.24L257.75 102.68L258.25 103.40L258.75 101.94L259.25 101.61L259.75 100.92L260.25 99.86L260.75 98.52L261.25 96.89L261.75 95.47L262.25 93.66L262.75 68.94L263.25 42.93L263.75 93.50L264.25 94.35L264.75 96.58L265.25 97.48L265.75 99.64L266.25 100.08L266.75 100.74L267.25 101.94L267.75 103.55L268.25 104.05L268.75 104.42L269.25 104.42L269.75 105.49L270.25 105.73L270.75 106.27L271.25 105.49L271.75 106.27L272.25 105.99L272.75 106.86L273.25 106.55L273.75 107.55L274.25 107.19L274.75 107.55L275.25 107.55L275.75 109.30L276.25 109.30L276.75 108.80L277.25 108.34L277.75 108.34L278.25 107.93L278.75 108.34L279.25 108.80L279.75 109.30L280.25 108.80L280.75 106.86L281.25 108.34L281.75 108.34L282.25 110.50L282.75 109.87L283.25 107.55L283.75 108.80L284.25 110.50L284.75 107.93L285.25 111.24L285.75 111.24L286.25 108.80L286.75 110.50L287.25 108.34L287.75 109.30L288.25 109.30L288.75 109.87L289.25 110.50L289.75 107.93L290.25 109.30L290.75 108.80L291.25 109.30L291.75 109.30L292.25 108.80L292.75 111.24L293.00 119.80L292.75 119.80L292.25 119.80L291.75 119.80L291.25 119.80L290.75 119.80L290.25 119.80L289.75 119.80L289.25 119.80L288.75 119.80L288.25 119.80L287.75 119.80L287.25 119.80L286.75 119.80L286.25 119.80L285.75 119.80L285.25 119.80L284.75 119.80L284.25 119.80L283.75 119.80L283.25 119.80L282.75 119.80L282.25 119.80L281.75 119.80L281.25 119.80L280.75 119.80L280.25 119.80L279.75 119.80L279.25 119.80L278.75 119.80L278.25 119.80L277.75 119.80L277.25 119.80L276.75 119.80L276.25 119.80L275.75 119.80L275.25 116.49L274.75 116.49L274.25 114.55L273.75 116.49L273.25 116.49L272.75 111.24L272.25 114.55L271.75 112.11L271.25 111.24L270.75 112.11L270.25 111.24L269.75 109.87L269.25 108.34L268.75 107.93L268.25 108.34L267.75 107.19L267.25 104.82L266.75 103.88L266.25 103.24L265.75 102.42L265.25 100.57L264.75 98.58L264.25 96.44L263.75 94.97L263.25 93.84L262.75 94.68L262.25 95.74L261.75 97.75L261.25 99.71L260.75 100.66L260.25 102.30L259.75 103.40L259.25 104.62L258.75 105.03L258.25 105.99L257.75 108.80L257.25 108.34L256.75 107.55L256.25 109.30L255.75 110.50L255.25 112.11L254.75 111.24L254.25 114.55L253.75 112.11L253.25 116.49L252.75 113.18L252.25 114.55L251.75 114.55L251.25 114.55L250.75 119.80L250.25 119.80L249.75 119.80L249.25 119.80L248.75 119.80L248.25 119.80L247.75 119.80L247.25 119.80L246.75 119.80L246.25 119.80L245.75 119.80L245.25 119.80L244.75 119.80L244.25 119.80L243.75 119.80L243.25 119.80L242.75 119.80L242.25 119.80L241.75 119.80L241.25 119.80L240.75 119.80L240.25 119.80L239.75 119.80L239.25 119.80L238.75 119.80L238.25 119.80L237.75 119.80L237.25 119.80L236.75 119.80L236.25 119.80L235.75 119.80L235.25 119.80L234.75 119.80L234.25 119.80L233.75 119.80L233.25 119.80L232.75 119.80L232.25 119.80L231.75 119.80L231.25 119.80L230.75 119.80L230.25 119.80L229.75 119.80L229.25 119.80L228.75 119.80L228.25 119.80L227.75 119.80L227.25 119.80L226.75 119.80L226.25 119.80L225.75 119.80L225.25 119.80L224.75 119.80L224.25 119.80L223.75 119.80L223.25 119.80L222.75 119.80L222.25 119.80L221.75 119.80L221.25 119.80L220.75 119.80L220.25 119.80L219.75 119.80L219.25 119.80L218.75 119.80L218.25 119.80L217.75 119.80L217.25 119.80L216.75 119.80L216.25 119.80L215.75 119.80L215.25 119.80L214.75 119.80L214.25 119.80L213.75 119.80L213.25 119.80L212.75 119.80L212.25 119.80L211.75 119.80L211.25 119.80L210.75 119.80L210.25 119.80L209.75 119.80L209.25 119.80L208.75 119.80L208.25 119.80L207.75 119.80L207.25 119.80L206.75 119.80L206.25 119.80L205.75 119.80L205.25 119.80L204.75 119.80L204.25 119.80L203.75 119.80L203.25 119.80L202.75 119.80L202.25 119.80L201.75 119.80L201.25 119.80L200.75 119.80L200.25 119.80L199.75 119.80L199.25 119.80L198.75 119.80L198.25 119.80L197.75 119.80L197.25 119.80L196.75 119.80L196.25 119.80L195.75 119.80L195.25 119.80L194.75 119.80L194.25 119.80L193.75 119.80L193.25 119.80L192.75 119.80L192.25 119.80L191.75 119.80L191.25 119.80L190.75 119.80L190.25 119.80L189.75 119.80L189.25 119.80L188.75 119.80L188.25 119.80L187.75 119.80L187.25 119.80L186.75 119.80L186.25 119.80L185.75 119.80L185.25 119.80L184.75 119.80L184.25 119.80L183.75 119.80L183.25 119.80L182.75 114.55L182.25 116.49L181.75 110.50L181.25 111.24L180.75 113.18L180.25 119.80L179.75 119.80L179.25 119.80L178.75 119.80L178.25 119.80L177.75 119.80L177.25 119.80L176.75 119.80L176.25 119.80L175.75 119.80L175.25 119.80L174.75 119.80L174.25 119.80L173.75 119.80L173.25 119.80L172.75 119.80L172.25 119.80L171.75 119.80L171.25 119.80L170.75 119.80L170.25 119.80L169.75 119.80L169.25 119.80L168.75 119.80L168.25 119.80L167.75 119.80L167.25 119.80L166.75 119.80L166.25 119.80L165.75 119.80L165.25 119.80L164.75 119.80L164.25 119.80L163.75 119.80L163.25 119.80L162.75 119.80L162.25 119.80L161.75 119.80L161.25 119.80L160.75 119.80L160.25 119.80L159.75 119.80L159.25 119.80L158.75 119.80L158.25 119.80L157.75 119.80L157.25 119.80L156.75 119.80L156.25 119.80L155.75 119.80L155.25 119.80L154.75 119.80L154.25 119.80L153.75 119.80L153.25 119.80L152.75 119.80L152.25 119.80L151.75 119.80L151.25 119.80L150.75 119.80L150.25 119.80L149.75 119.80L149.25 119.80L148.75 119.80L148.25 119.80L147.75 119.80L147.25 119.80L146.75 119.80L146.25 119.80L145.75 119.80L145.25 119.80L144.75 119.80L144.25 119.80L143.75 119.80L143.25 119.80L142.75 119.80L142.25 119.80L141.75 119.80L141.25 119.80L140.75 119.80L140.25 119.80L139.75 119.80L139.25 119.80L138.75 119.80L138.25 119.80L137.75 119.80L137.25 119.80L136.75 119.80L136.25 119.80L135.75 119.80L135.25 119.80L134.75 119.80L134.25 119.80L133.75 119.80L133.25 119.80L132.75 119.80L132.25 119.80L131.75 119.80L131.25 119.80L130.75 119.80L130.25 119.80L129.75 119.80L129.25 119.80L128.75 119.80L128.25 119.80L127.75 119.80L127.25 119.80L126.75 119.80L126.25 119.80L125.75 119.80L125.25 119.80L124.75 119.80L124.25 119.80L123.75 119.80L123.25 119.80L122.75 119.80L122.25 119.80L121.75 119.80L121.25 119.80L120.75 119.80L120.25 119.80L119.75 119.80L119.25 119.80L118.75 119.80L118.25 119.80L117.75 119.80L117.25 119.80L116.75 119.80L116.25 119.80L115.75 119.80L115.25 119.80L114.75 119.80L114.25 119.80L113.75 119.80L113.25 119.80L112.75 119.80L112.25 119.80L111.75 119.80L111.25 119.80L110.75 119.80L110.25 119.80L109.75 119.80L109.25 119.80L108.75 119.80L108.25 119.80L107.75 119.80L107.25 119.80L106.75 119.80L106.25 119.80L105.75 119.80L105.25 119.80L104.75 119.80L104.25 119.80L103.75 119.80L103.25 119.80L102.75 119.80L102.25 119.80L101.75 119.80L101.25 116.49L100.75 114.55L100.25 110.50L99.75 113.18L99.25 113.18L98.75 119.80L98.25 119.80L97.75 119.80L97.25 119.80L96.75 119.80L96.25 119.80L95.75 119.80L95.25 119.80L94.75 119.80L94.25 119.80L93.75 119.80L93.25 119.80L92.75 119.80L92.25 119.80L91.75 119.80L91.25 119.80L90.75 116.49L90.25 114.55L89.75 114.55L89.25 119.80L88.75 112.11L88.25 112.11L87.75 113.18L87.25 110.50L86.75 109.30L86.25 108.34L85.75 106.86L85.25 105.99L84.75 105.03L84.25 103.88L83.75 101.72L83.25 99.24L82.75 97.22L82.25 95.27L81.75 95.38L81.25 97.05L80.75 99.30L80.25 100.83L79.75 103.10L79.25 105.26L78.75 105.99L78.25 107.19L77.75 108.80L77.25 109.87L76.75 109.87L76.25 114.55L75.75 111.24L75.25 112.11L74.75 113.18L74.25 113.18L73.75 112.11L73.25 119.80L72.75 119.80L72.25 119.80L71.75 119.80L71.25 119.80L70.75 119.80L70.25 119.80L69.75 119.80L69.25 119.80L68.75 119.80L68.25 119.80L67.75 119.80L67.25 119.80L66.75 119.80L66.25 119.80L65.75 119.80L65.25 119.80L64.75 119.80L64.25 119.80L63.75 119.80L63.25 119.80L62.75 119.80L62.25 119.80L61.75 119.80L61.25 119.80L60.75 119.80L60.25 119.80L59.75 119.80L59.25 119.80L58.75 119.80L58.25 119.80L57.75 119.80L57.25 119.80L56.75 119.80L56.25 119.80L55.75 119.80L55.25 119.80L54.75 119.80L54.25 119.80L53.75 119.80L53.25 119.80L52.75 119.80L52.25 119.80L51.75 119.80L51.25 119.80L50.75 119.80L50.25 119.80L49.75 119.80L49.25 119.80L48.75 119.80L48.25 119.80L47.75 119.80L47.25 119.80L46.75 119.80L46.25 119.80L45.75 116.49L45.25 116.49L44.75 112.11L44.25 114.55L43.75 119.80L43.25 119.80L42.75 119.80L42.25 119.80L41.75 119.80L41.25 119.80L40.75 119.80L40.25 119.80L39.75 119.80L39.25 119.80L38.75 119.80L38.25 119.80L37.75 119.80L37.25 119.80L36.75 119.80L36.25 119.80L35.75 119.80L35.25 119.80L34.75 119.80L34.25 119.80L33.75 119.80L33.25 119.80L32.75 119.80L32.25 119.80L31.75 119.80L31.25 119.80L30.75 119.80L30.25 119.80L29.75 119.80L29.25 119.80L28.75 119.80L28.25 119.80L27.75 119.80L27.25 119.80L26.75 119.80L26.25 119.80L25.75 119.80L25.25 119.80L24.75 119.80L24.25 119.80L23.75 119.80L23.25 119.80L22.75 119.80L22.25 119.80L21.75 119.80L21.25 119.80L20.75 119.80L20.25 119.80L19.75 119.80L19.25 119.80Z" fill="#6cbf44"/><path d="M21.75 110.4V105.7M22.25 111.0V105.6M28.25 112.6V107.2M29.25 111.0V108.1M31.25 111.7V108.5M34.25 112.6V108.1M35.75 109.8V107.7M36.25 109.8V104.6M36.75 109.3V106.0M38.75 111.0V106.6M40.75 110.4V108.2M44.25 107.1V103.0M49.75 110.4V105.3M56.75 111.0V106.3M57.75 111.7V106.5M62.25 110.4V108.6M62.75 109.3V106.3M64.75 110.4V107.5M65.25 109.8V105.5M66.75 109.8V105.7M67.75 110.4V108.0M70.75 108.4V106.4M73.25 108.4V104.9M75.25 106.2V103.3M78.75 103.3V101.0M80.25 99.3V96.3M80.75 96.7V91.3M81.75 52.3V50.1M83.25 96.8V94.5M84.75 102.4V97.9M87.25 106.0V102.0M90.75 109.3V107.0M92.25 109.3V107.8M95.25 108.8V106.1M96.75 109.3V107.3M103.75 110.4V105.8M104.25 109.3V106.9M106.75 111.0V107.7M107.75 111.7V107.8M109.25 111.7V108.8M109.75 111.0V109.3M112.75 110.4V107.9M113.25 108.4V106.7M116.75 110.4V105.4M118.75 109.8V104.5M120.75 111.7V106.6M123.25 111.0V106.9M131.25 111.0V106.7M132.75 111.0V106.2M133.25 110.4V108.0M134.75 111.7V107.9M136.25 110.4V107.0M138.25 111.7V108.8M141.75 110.4V105.2M144.75 111.7V107.0M148.25 111.7V107.4M149.75 110.4V106.8M153.75 111.0V107.9M154.25 110.4V107.7M156.75 110.4V105.6M157.25 109.8V105.2M159.75 110.4V105.8M162.25 111.7V108.7M166.25 111.0V105.8M168.25 111.0V106.2M173.25 111.7V108.2M174.75 110.4V106.3M175.25 111.0V106.7M175.75 109.8V107.0M178.75 108.8V104.3M180.25 109.3V105.1M181.25 105.3V100.8M181.75 105.3V101.5M186.25 111.0V106.5M186.75 111.7V109.1M189.75 110.4V108.4M198.25 111.0V108.0M206.75 111.0V107.6M208.75 111.0V105.8M211.25 109.8V105.0M212.25 108.8V104.4M217.75 111.7V108.9M218.25 108.8V104.0M224.75 110.4V106.8M226.75 111.7V106.7M227.25 109.3V107.6M229.75 110.4V106.9M232.75 108.8V104.5M234.75 110.4V107.0M236.25 111.0V108.0M237.75 109.3V105.4M238.75 109.8V107.5M241.75 110.4V107.0M243.75 109.8V104.6M251.25 108.4V106.7M254.25 107.1V102.5M257.25 104.7V100.6M259.25 102.1V97.7M261.25 97.4V94.3M263.25 43.4V39.2M265.25 98.0V96.4M271.75 106.8V104.1M276.75 109.3V107.6M281.25 108.8V104.5M283.75 109.3V106.2M284.25 111.0V109.4M284.75 108.4V105.1M285.75 111.7V107.0M286.25 109.3V105.3M287.25 108.8V104.3M288.25 109.8V107.6M289.75 108.4V105.8M291.75 109.8V106.3M292.75 111.7V108.3" stroke="#6cbf44" stroke-width="0.4" fill="none" opacity="0.6"/><path d="M19.75 119.5V125.7M25.25 119.5V125.7M26.25 119.5V125.7M27.75 119.5V125.7M28.75 119.5V125.7M30.75 119.5V125.7M31.25 119.5V125.7M32.25 119.5V125.7M32.75 119.5V125.7M33.25 119.5V125.7M34.25 119.5V125.7M34.75 119.5V125.7M35.75 119.5V125.7M39.75 119.5V125.7M40.75 119.5V125.7M41.25 119.5V125.7M47.75 119.5V125.7M48.75 119.5V125.7M49.25 119.5V125.7M50.75 119.5V125.7M52.75 119.5V125.7M54.25 119.5V125.7M55.25 119.5V125.7M56.25 119.5V125.7M56.75 119.5V125.7M60.25 119.5V125.7M95.75 119.5V125.7M105.25 119.5V125.7M106.75 119.5V125.7M107.75 119.5V125.7M108.25 119.5V125.7M108.75 119.5V125.7M112.75 119.5V125.7M114.25 119.5V125.7M116.75 119.5V125.7M117.75 119.5V125.7M118.75 119.5V125.7M123.25 119.5V125.7M123.75 119.5V125.7M125.75 119.5V125.7M127.25 119.5V125.7M127.75 119.5V125.7M129.75 119.5V125.7M131.75 119.5V125.7M132.25 119.5V125.7M132.75 119.5V125.7M133.25 119.5V125.7M136.75 119.5V125.7M140.25 119.5V125.7M141.25 119.5V125.7M141.75 119.5V125.7M142.75 119.5V125.7M143.25 119.5V125.7M144.25 119.5V125.7M146.75 119.5V125.7M148.75 119.5V125.7M149.25 119.5V125.7M149.75 119.5V125.7M150.25 119.5V125.7M153.25 119.5V125.7M153.75 119.5V125.7M155.75 119.5V125.7M157.75 119.5V125.7M158.25 119.5V125.7M158.75 119.5V125.7M160.25 119.5V125.7M163.25 119.5V125.7M163.75 119.5V125.7M164.75 119.5V125.7M167.25 119.5V125.7M168.25 119.5V125.7M169.75 119.5V125.7M170.25 119.5V125.7M172.75 119.5V125.7M175.25 119.5V125.7M177.25 119.5V125.7M178.75 119.5V125.7M180.25 119.5V125.7M186.25 119.5V125.7M186.75 119.5V125.7M192.75 119.5V125.7M194.25 119.5V125.7M197.25 119.5V125.7M198.75 119.5V125.7M200.25 119.5V125.7M201.25 119.5V125.7M204.75 119.5V125.7M205.75 119.5V125.7M207.25 119.5V125.7M208.25 119.5V125.7M208.75 119.5V125.7M209.25 119.5V125.7M209.75 119.5V125.7M210.25 119.5V125.7M214.25 119.5V125.7M214.75 119.5V125.7M216.75 119.5V125.7M218.25 119.5V125.7M222.75 119.5V125.7M224.75 119.5V125.7M225.75 119.5V125.7M233.75 119.5V125.7M236.75 119.5V125.7M244.25 119.5V125.7M276.75 119.5V125.7M279.75 119.5V125.7M282.75 119.5V125.7M286.75 119.5V125.7M289.25 119.5V125.7M289.75 119.5V125.7M292.25 119.5V125.7" stroke="#6cbf44" stroke-width="0.7" fill="none"/><path d="M19.00 161.00L19.25 150.44L19.75 151.27L20.25 150.44L20.75 149.71L21.25 151.27L21.75 151.27L22.25 149.07L22.75 149.71L23.25 150.44L23.75 153.47L24.25 150.44L24.75 151.27L25.25 149.71L25.75 150.44L26.25 151.27L26.75 149.07L27.25 151.27L27.75 151.27L28.25 150.44L28.75 150.44L29.25 150.44L29.75 152.26L30.25 151.27L30.75 152.26L31.25 150.44L31.75 149.07L32.25 149.71L32.75 152.26L33.25 152.26L33.75 152.26L34.25 150.44L34.75 150.44L35.25 149.07L35.75 151.27L36.25 151.27L36.75 149.71L37.25 148.50L37.75 151.27L38.25 152.26L38.75 150.44L39.25 150.44L39.75 149.71L40.25 151.27L40.75 149.07L41.25 149.71L41.75 150.44L42.25 150.44L42.75 151.27L43.25 149.71L43.75 152.26L44.25 150.44L44.75 150.44L45.25 151.27L45.75 149.71L46.25 152.26L46.75 149.71L47.25 151.27L47.75 150.44L48.25 149.71L48.75 148.50L49.25 150.44L49.75 152.26L50.25 151.27L50.75 149.71L51.25 150.44L51.75 150.44L52.25 149.71L52.75 149.07L53.25 149.07L53.75 149.07L54.25 150.44L54.75 149.71L55.25 150.44L55.75 151.27L56.25 149.71L56.75 150.44L57.25 151.27L57.75 150.44L58.25 148.50L58.75 151.27L59.25 149.71L59.75 151.27L60.25 151.27L60.75 150.44L61.25 149.71L61.75 152.26L62.25 150.44L62.75 149.71L63.25 150.44L63.75 150.44L64.25 150.44L64.75 150.44L65.25 150.44L65.75 149.07L66.25 152.26L66.75 150.44L67.25 152.26L67.75 150.44L68.25 151.27L68.75 151.27L69.25 151.27L69.75 151.27L70.25 151.27L70.75 152.26L71.25 150.44L71.75 148.50L72.25 149.07L72.75 149.07L73.25 150.44L73.75 149.71L74.25 150.44L74.75 151.27L75.25 150.44L75.75 149.71L76.25 151.27L76.75 147.98L77.25 147.51L77.75 142.54L78.25 138.51L78.75 135.01L79.25 131.60L79.75 128.42L80.25 126.47L80.75 124.95L81.25 124.08L81.75 92.56L82.25 114.69L82.75 124.95L83.25 126.51L83.75 129.12L84.25 132.13L84.75 135.58L85.25 139.15L85.75 143.75L86.25 147.51L86.75 148.50L87.25 150.44L87.75 150.44L88.25 150.44L88.75 148.50L89.25 150.44L89.75 150.44L90.25 150.44L90.75 150.44L91.25 150.44L91.75 148.50L92.25 151.27L92.75 151.27L93.25 151.27L93.75 151.27L94.25 150.44L94.75 151.27L95.25 150.44L95.75 150.44L96.25 148.50L96.75 151.27L97.25 151.27L97.75 150.44L98.25 152.26L98.75 150.44L99.25 151.27L99.75 149.07L100.25 151.27L100.75 151.27L101.25 151.27L101.75 150.44L102.25 151.27L102.75 149.71L103.25 151.27L103.75 149.07L104.25 152.26L104.75 149.71L105.25 151.27L105.75 149.71L106.25 150.44L106.75 151.27L107.25 150.44L107.75 149.07L108.25 152.26L108.75 151.27L109.25 150.44L109.75 150.44L110.25 151.27L110.75 151.27L111.25 150.44L111.75 150.44L112.25 151.27L112.75 150.44L113.25 151.27L113.75 152.26L114.25 151.27L114.75 151.27L115.25 148.50L115.75 149.71L116.25 151.27L116.75 151.27L117.25 149.07L117.75 149.07L118.25 152.26L118.75 152.26L119.25 151.27L119.75 150.44L120.25 149.07L120.75 149.71L121.25 151.27L121.75 152.26L122.25 151.27L122.75 152.26L123.25 151.27L123.75 150.44L124.25 151.27L124.75 149.71L125.25 151.27L125.75 150.44L126.25 151.27L126.75 152.26L127.25 149.71L127.75 152.26L128.25 149.07L128.75 150.44L129.25 150.44L129.75 150.44L130.25 151.27L130.75 152.26L131.25 149.07L131.75 151.27L132.25 152.26L132.75 152.26L133.25 152.26L133.75 151.27L134.25 149.71L134.75 149.07L135.25 150.44L135.75 151.27L136.25 150.44L136.75 149.07L137.25 150.44L137.75 151.27L138.25 151.27L138.75 151.27L139.25 150.44L139.75 150.44L140.25 149.71L140.75 147.98L141.25 149.71L141.75 150.44L142.25 149.71L142.75 150.44L143.25 150.44L143.75 150.44L144.25 152.26L144.75 151.27L145.25 151.27L145.75 150.44L146.25 151.27L146.75 149.71L147.25 152.26L147.75 151.27L148.25 151.27L148.75 152.26L149.25 149.71L149.75 149.71L150.25 151.27L150.75 150.44L151.25 151.27L151.75 152.26L152.25 149.07L152.75 151.27L153.25 150.44L153.75 149.71L154.25 150.44L154.75 149.07L155.25 149.71L155.75 149.07L156.25 149.71L156.75 149.71L157.25 148.50L157.75 151.27L158.25 150.44L158.75 152.26L159.25 149.07L159.75 150.44L160.25 152.26L160.75 150.44L161.25 152.26L161.75 151.27L162.25 151.27L162.75 152.26L163.25 150.44L163.75 151.27L164.25 152.26L164.75 151.27L165.25 151.27L165.75 150.44L166.25 150.44L166.75 151.27L167.25 151.27L167.75 149.07L168.25 149.71L168.75 149.71L169.25 150.44L169.75 151.27L170.25 149.07L170.75 151.27L171.25 151.27L171.75 150.44L172.25 149.71L172.75 150.44L173.25 150.44L173.75 149.71L174.25 150.44L174.75 151.27L175.25 150.44L175.75 149.71L176.25 151.27L176.75 150.44L177.25 149.07L177.75 150.44L178.25 150.44L178.75 150.44L179.25 150.44L179.75 150.44L180.25 150.44L180.75 149.71L181.25 150.44L181.75 149.07L182.25 150.44L182.75 150.44L183.25 152.26L183.75 151.27L184.25 151.27L184.75 151.27L185.25 150.44L185.75 149.71L186.25 152.26L186.75 151.27L187.25 149.71L187.75 151.27L188.25 152.26L188.75 150.44L189.25 149.71L189.75 151.27L190.25 149.71L190.75 149.07L191.25 150.44L191.75 152.26L192.25 149.71L192.75 152.26L193.25 150.44L193.75 149.71L194.25 151.27L194.75 151.27L195.25 150.44L195.75 152.26L196.25 150.44L196.75 150.44L197.25 149.71L197.75 150.44L198.25 150.44L198.75 151.27L199.25 151.27L199.75 150.44L200.25 148.50L200.75 151.27L201.25 150.44L201.75 149.71L202.25 149.71L202.75 150.44L203.25 149.71L203.75 153.47L204.25 150.44L204.75 150.44L205.25 150.44L205.75 149.07L206.25 149.71L206.75 149.71L207.25 150.44L207.75 150.44L208.25 149.71L208.75 151.27L209.25 152.26L209.75 149.71L210.25 150.44L210.75 150.44L211.25 151.27L211.75 151.27L212.25 151.27L212.75 149.71L213.25 151.27L213.75 151.27L214.25 151.27L214.75 149.71L215.25 150.44L215.75 150.44L216.25 149.71L216.75 151.27L217.25 151.27L217.75 152.26L218.25 150.44L218.75 152.26L219.25 149.71L219.75 153.47L220.25 150.44L220.75 153.47L221.25 152.26L221.75 150.44L222.25 149.71L222.75 151.27L223.25 152.26L223.75 151.27L224.25 150.44L224.75 151.27L225.25 147.51L225.75 151.27L226.25 151.27L226.75 151.27L227.25 151.27L227.75 149.71L228.25 149.71L228.75 149.71L229.25 149.07L229.75 150.44L230.25 152.26L230.75 150.44L231.25 150.44L231.75 149.07L232.25 148.50L232.75 148.50L233.25 151.27L233.75 150.44L234.25 149.71L234.75 149.71L235.25 151.27L235.75 149.71L236.25 152.26L236.75 151.27L237.25 150.44L237.75 150.44L238.25 150.44L238.75 152.26L239.25 147.98L239.75 149.71L240.25 150.44L240.75 150.44L241.25 151.27L241.75 150.44L242.25 149.71L242.75 151.27L243.25 151.27L243.75 150.44L244.25 149.07L244.75 151.27L245.25 150.44L245.75 150.44L246.25 147.51L246.75 151.27L247.25 150.44L247.75 150.44L248.25 150.44L248.75 149.71L249.25 150.44L249.75 150.44L250.25 149.71L250.75 150.44L251.25 150.44L251.75 150.44L252.25 150.44L252.75 147.51L253.25 150.44L253.75 150.44L254.25 148.50L254.75 149.07L255.25 148.50L255.75 147.51L256.25 145.31L256.75 141.11L257.25 135.95L257.75 134.41L258.25 132.78L258.75 132.78L259.25 133.35L259.75 134.53L260.25 137.35L260.75 134.41L261.25 130.00L261.75 125.45L262.25 122.54L262.75 121.15L263.25 92.53L263.75 121.58L264.25 123.95L264.75 127.74L265.25 134.06L265.75 140.10L266.25 145.31L266.75 147.51L267.25 147.08L267.75 146.67L268.25 149.07L268.75 150.44L269.25 148.50L269.75 149.71L270.25 148.50L270.75 149.07L271.25 149.71L271.75 149.07L272.25 149.07L272.75 150.44L273.25 149.07L273.75 150.44L274.25 149.07L274.75 151.27L275.25 150.44L275.75 149.71L276.25 151.27L276.75 150.44L277.25 150.44L277.75 148.50L278.25 152.26L278.75 147.98L279.25 151.27L279.75 150.44L280.25 151.27L280.75 149.71L281.25 150.44L281.75 148.50L282.25 149.71L282.75 152.26L283.25 152.26L283.75 150.44L284.25 150.44L284.75 150.44L285.25 149.07L285.75 152.26L286.25 151.27L286.75 151.27L287.25 150.44L287.75 151.27L288.25 150.44L288.75 149.71L289.25 151.27L289.75 151.27L290.25 150.44L290.75 151.27L291.25 149.71L291.75 152.26L292.25 150.44L292.75 150.44L293.00 161.00L292.75 161.00L292.25 161.00L291.75 161.00L291.25 161.00L290.75 161.00L290.25 161.00L289.75 161.00L289.25 161.00L288.75 161.00L288.25 161.00L287.75 161.00L287.25 161.00L286.75 161.00L286.25 161.00L285.75 161.00L285.25 161.00L284.75 161.00L284.25 161.00L283.75 161.00L283.25 161.00L282.75 161.00L282.25 161.00L281.75 161.00L281.25 161.00L280.75 161.00L280.25 161.00L279.75 161.00L279.25 161.00L278.75 161.00L278.25 161.00L277.75 161.00L277.25 161.00L276.75 161.00L276.25 161.00L275.75 161.00L275.25 161.00L274.75 161.00L274.25 161.00L273.75 161.00L273.25 161.00L272.75 161.00L272.25 161.00L271.75 161.00L271.25 161.00L270.75 161.00L270.25 161.00L269.75 161.00L269.25 161.00L268.75 161.00L268.25 161.00L267.75 161.00L267.25 161.00L266.75 157.24L266.25 152.26L265.75 146.30L265.25 140.71L264.75 133.95L264.25 127.88L263.75 124.05L263.25 122.00L262.75 122.45L262.25 125.36L261.75 129.88L261.25 135.63L260.75 139.87L260.25 141.11L259.75 138.26L259.25 135.01L258.75 133.84L258.25 135.10L257.75 137.56L257.25 141.86L256.75 148.50L256.25 155.04L255.75 157.24L255.25 161.00L254.75 161.00L254.25 161.00L253.75 161.00L253.25 161.00L252.75 161.00L252.25 161.00L251.75 161.00L251.25 161.00L250.75 161.00L250.25 161.00L249.75 161.00L249.25 161.00L248.75 161.00L248.25 161.00L247.75 161.00L247.25 161.00L246.75 161.00L246.25 161.00L245.75 161.00L245.25 161.00L244.75 161.00L244.25 161.00L243.75 161.00L243.25 161.00L242.75 161.00L242.25 161.00L241.75 161.00L241.25 161.00L240.75 161.00L240.25 161.00L239.75 161.00L239.25 161.00L238.75 161.00L238.25 161.00L237.75 161.00L237.25 161.00L236.75 161.00L236.25 161.00L235.75 161.00L235.25 161.00L234.75 161.00L234.25 161.00L233.75 161.00L233.25 161.00L232.75 161.00L232.25 161.00L231.75 161.00L231.25 161.00L230.75 161.00L230.25 161.00L229.75 161.00L229.25 161.00L228.75 161.00L228.25 161.00L227.75 161.00L227.25 161.00L226.75 161.00L226.25 161.00L225.75 161.00L225.25 161.00L224.75 161.00L224.25 161.00L223.75 161.00L223.25 161.00L222.75 161.00L222.25 161.00L221.75 161.00L221.25 161.00L220.75 161.00L220.25 161.00L219.75 161.00L219.25 161.00L218.75 161.00L218.25 161.00L217.75 161.00L217.25 161.00L216.75 161.00L216.25 161.00L215.75 161.00L215.25 161.00L214.75 161.00L214.25 161.00L213.75 161.00L213.25 161.00L212.75 161.00L212.25 161.00L211.75 161.00L211.25 161.00L210.75 161.00L210.25 161.00L209.75 161.00L209.25 161.00L208.75 161.00L208.25 161.00L207.75 161.00L207.25 161.00L206.75 161.00L206.25 161.00L205.75 161.00L205.25 161.00L204.75 161.00L204.25 161.00L203.75 161.00L203.25 161.00L202.75 161.00L202.25 161.00L201.75 161.00L201.25 161.00L200.75 161.00L200.25 161.00L199.75 161.00L199.25 161.00L198.75 161.00L198.25 161.00L197.75 161.00L197.25 161.00L196.75 161.00L196.25 161.00L195.75 161.00L195.25 161.00L194.75 161.00L194.25 161.00L193.75 161.00L193.25 161.00L192.75 161.00L192.25 161.00L191.75 161.00L191.25 161.00L190.75 161.00L190.25 161.00L189.75 161.00L189.25 161.00L188.75 161.00L188.25 161.00L187.75 161.00L187.25 161.00L186.75 161.00L186.25 161.00L185.75 161.00L185.25 161.00L184.75 161.00L184.25 161.00L183.75 161.00L183.25 161.00L182.75 161.00L182.25 161.00L181.75 161.00L181.25 161.00L180.75 161.00L180.25 161.00L179.75 161.00L179.25 161.00L178.75 161.00L178.25 161.00L177.75 161.00L177.25 161.00L176.75 161.00L176.25 161.00L175.75 161.00L175.25 161.00L174.75 161.00L174.25 161.00L173.75 161.00L173.25 161.00L172.75 161.00L172.25 161.00L171.75 161.00L171.25 161.00L170.75 161.00L170.25 161.00L169.75 161.00L169.25 161.00L168.75 161.00L168.25 161.00L167.75 161.00L167.25 161.00L166.75 161.00L166.25 161.00L165.75 161.00L165.25 161.00L164.75 161.00L164.25 161.00L163.75 161.00L163.25 161.00L162.75 161.00L162.25 161.00L161.75 161.00L161.25 161.00L160.75 161.00L160.25 161.00L159.75 161.00L159.25 161.00L158.75 161.00L158.25 161.00L157.75 161.00L157.25 161.00L156.75 161.00L156.25 161.00L155.75 161.00L155.25 161.00L154.75 161.00L154.25 161.00L153.75 161.00L153.25 161.00L152.75 161.00L152.25 161.00L151.75 161.00L151.25 161.00L150.75 161.00L150.25 161.00L149.75 161.00L149.25 161.00L148.75 161.00L148.25 161.00L147.75 161.00L147.25 161.00L146.75 161.00L146.25 161.00L145.75 161.00L145.25 161.00L144.75 161.00L144.25 161.00L143.75 161.00L143.25 161.00L142.75 161.00L142.25 161.00L141.75 161.00L141.25 161.00L140.75 161.00L140.25 161.00L139.75 161.00L139.25 161.00L138.75 161.00L138.25 161.00L137.75 161.00L137.25 161.00L136.75 161.00L136.25 161.00L135.75 161.00L135.25 161.00L134.75 161.00L134.25 161.00L133.75 161.00L133.25 161.00L132.75 161.00L132.25 161.00L131.75 161.00L131.25 161.00L130.75 161.00L130.25 161.00L129.75 161.00L129.25 161.00L128.75 161.00L128.25 161.00L127.75 161.00L127.25 161.00L126.75 161.00L126.25 161.00L125.75 161.00L125.25 161.00L124.75 161.00L124.25 161.00L123.75 161.00L123.25 161.00L122.75 161.00L122.25 161.00L121.75 161.00L121.25 161.00L120.75 161.00L120.25 161.00L119.75 161.00L119.25 161.00L118.75 161.00L118.25 161.00L117.75 161.00L117.25 161.00L116.75 161.00L116.25 161.00L115.75 161.00L115.25 161.00L114.75 161.00L114.25 161.00L113.75 161.00L113.25 161.00L112.75 161.00L112.25 161.00L111.75 161.00L111.25 161.00L110.75 161.00L110.25 161.00L109.75 161.00L109.25 161.00L108.75 161.00L108.25 161.00L107.75 161.00L107.25 161.00L106.75 161.00L106.25 161.00L105.75 161.00L105.25 161.00L104.75 161.00L104.25 161.00L103.75 161.00L103.25 161.00L102.75 161.00L102.25 161.00L101.75 161.00L101.25 161.00L100.75 161.00L100.25 161.00L99.75 161.00L99.25 161.00L98.75 161.00L98.25 161.00L97.75 161.00L97.25 161.00L96.75 161.00L96.25 161.00L95.75 161.00L95.25 161.00L94.75 161.00L94.25 161.00L93.75 161.00L93.25 161.00L92.75 161.00L92.25 161.00L91.75 161.00L91.25 161.00L90.75 161.00L90.25 161.00L89.75 161.00L89.25 161.00L88.75 161.00L88.25 161.00L87.75 161.00L87.25 161.00L86.75 161.00L86.25 155.04L85.75 155.04L85.25 145.02L84.75 139.76L84.25 135.89L83.75 132.40L83.25 128.97L82.75 126.84L82.25 125.37L81.75 124.34L81.25 124.89L80.75 126.44L80.25 128.45L79.75 132.29L79.25 135.53L78.75 139.45L78.25 144.47L77.75 150.44L77.25 157.24L76.75 161.00L76.25 161.00L75.75 161.00L75.25 161.00L74.75 161.00L74.25 161.00L73.75 161.00L73.25 161.00L72.75 161.00L72.25 161.00L71.75 161.00L71.25 161.00L70.75 161.00L70.25 161.00L69.75 161.00L69.25 161.00L68.75 161.00L68.25 161.00L67.75 161.00L67.25 161.00L66.75 161.00L66.25 161.00L65.75 161.00L65.25 161.00L64.75 161.00L64.25 161.00L63.75 161.00L63.25 161.00L62.75 161.00L62.25 161.00L61.75 161.00L61.25 161.00L60.75 161.00L60.25 161.00L59.75 161.00L59.25 161.00L58.75 161.00L58.25 161.00L57.75 161.00L57.25 161.00L56.75 161.00L56.25 161.00L55.75 161.00L55.25 161.00L54.75 161.00L54.25 161.00L53.75 161.00L53.25 161.00L52.75 161.00L52.25 161.00L51.75 161.00L51.25 161.00L50.75 161.00L50.25 161.00L49.75 161.00L49.25 161.00L48.75 161.00L48.25 161.00L47.75 161.00L47.25 161.00L46.75 161.00L46.25 161.00L45.75 161.00L45.25 161.00L44.75 161.00L44.25 161.00L43.75 161.00L43.25 161.00L42.75 161.00L42.25 161.00L41.75 161.00L41.25 161.00L40.75 161.00L40.25 161.00L39.75 161.00L39.25 161.00L38.75 161.00L38.25 161.00L37.75 161.00L37.25 161.00L36.75 161.00L36.25 161.00L35.75 161.00L35.25 161.00L34.75 161.00L34.25 161.00L33.75 161.00L33.25 161.00L32.75 161.00L32.25 161.00L31.75 161.00L31.25 161.00L30.75 161.00L30.25 161.00L29.75 161.00L29.25 161.00L28.75 161.00L28.25 161.00L27.75 161.00L27.25 161.00L26.75 161.00L26.25 161.00L25.75 161.00L25.25 161.00L24.75 161.00L24.25 161.00L23.75 161.00L23.25 161.00L22.75 161.00L22.25 161.00L21.75 161.00L21.25 161.00L20.75 161.00L20.25 161.00L19.75 161.00L19.25 161.00Z" fill="#3352a8"/><path d="M20.25 150.9V147.8M21.25 151.8V148.0M22.75 150.2V146.6M24.75 151.8V149.9M25.25 150.2V146.8M31.75 149.6V146.0M32.25 150.2V146.3M36.75 150.2V146.9M38.75 150.9V147.6M41.25 150.2V147.9M45.75 150.2V147.4M46.75 150.2V146.7M47.75 150.9V148.6M48.75 149.0V146.4M49.25 150.9V149.0M50.75 150.2V146.4M51.75 150.9V147.9M52.75 149.6V147.1M55.75 151.8V149.3M56.75 150.9V149.3M59.75 151.8V148.0M61.75 152.8V149.7M64.25 150.9V148.0M67.75 150.9V147.5M68.75 151.8V149.2M70.75 152.8V149.4M71.75 149.0V145.3M75.25 150.9V149.4M75.75 150.2V148.0M76.75 148.5V145.0M78.25 139.0V136.7M81.25 124.6V122.3M83.25 127.0V123.3M85.25 139.6V137.6M88.25 150.9V147.6M90.75 150.9V147.4M93.25 151.8V148.6M93.75 151.8V149.2M95.75 150.9V148.2M100.25 151.8V149.8M115.75 150.2V146.3M116.25 151.8V148.1M116.75 151.8V148.4M118.75 152.8V150.0M119.25 151.8V150.0M122.25 151.8V150.2M125.25 151.8V148.5M130.75 152.8V149.5M132.75 152.8V148.9M134.25 150.2V148.7M142.25 150.2V148.7M144.75 151.8V147.8M146.25 151.8V148.2M148.25 151.8V149.9M157.75 151.8V149.3M159.75 150.9V147.7M161.25 152.8V148.9M161.75 151.8V149.3M162.25 151.8V149.5M164.25 152.8V150.4M173.75 150.2V148.6M174.75 151.8V149.2M175.75 150.2V147.3M176.75 150.9V148.2M180.75 150.2V147.4M181.75 149.6V146.1M184.75 151.8V149.8M194.25 151.8V149.4M196.75 150.9V147.7M202.25 150.2V148.3M202.75 150.9V149.4M207.75 150.9V147.0M209.75 150.2V148.2M212.25 151.8V150.0M214.25 151.8V150.0M215.25 150.9V147.3M216.75 151.8V149.9M218.25 150.9V148.7M225.75 151.8V149.5M229.25 149.6V147.7M233.25 151.8V147.8M233.75 150.9V148.0M234.25 150.2V148.6M235.75 150.2V147.3M238.75 152.8V149.7M243.75 150.9V147.1M244.75 151.8V150.2M248.75 150.2V148.2M249.25 150.9V147.0M251.25 150.9V147.5M255.75 148.0V144.1M258.25 133.3V131.3M261.75 126.0V123.1M264.25 124.4V120.5M266.25 145.8V143.4M268.25 149.6V146.8M279.25 151.8V149.6M279.75 150.9V148.5M280.25 151.8V148.0M284.75 150.9V149.1M287.75 151.8V150.1M289.25 151.8V149.5" stroke="#3352a8" stroke-width="0.4" fill="none" opacity="0.6"/><path d="M19.75 160.7V169.0M20.25 160.7V169.0M20.75 160.7V169.0M21.75 160.7V169.0M22.25 160.7V169.0M23.75 160.7V169.0M24.25 160.7V169.0M24.75 160.7V169.0M25.25 160.7V169.0M26.25 160.7V169.0M26.75 160.7V169.0M27.75 160.7V169.0M28.75 160.7V169.0M29.25 160.7V169.0M31.75 160.7V169.0M32.25 160.7V169.0M32.75 160.7V169.0M34.25 160.7V169.0M35.75 160.7V169.0M36.75 160.7V169.0M37.25 160.7V169.0M37.75 160.7V169.0M38.75 160.7V169.0M39.75 160.7V169.0M40.75 160.7V169.0M41.25 160.7V169.0M42.25 160.7V169.0M42.75 160.7V169.0M43.25 160.7V169.0M43.75 160.7V169.0M44.25 160.7V169.0M44.75 160.7V169.0M45.25 160.7V169.0M45.75 160.7V169.0M46.25 160.7V169.0M46.75 160.7V169.0M48.75 160.7V169.0M49.25 160.7V169.0M50.75 160.7V169.0M51.75 160.7V169.0M52.25 160.7V169.0M52.75 160.7V169.0M53.25 160.7V169.0M53.75 160.7V169.0M54.75 160.7V169.0M56.25 160.7V169.0M56.75 160.7V169.0M57.25 160.7V169.0M58.25 160.7V169.0M58.75 160.7V169.0M59.25 160.7V169.0M60.75 160.7V169.0M61.75 160.7V169.0M62.25 160.7V169.0M62.75 160.7V169.0M63.25 160.7V169.0M64.75 160.7V169.0M66.25 160.7V169.0M66.75 160.7V169.0M67.25 160.7V169.0M67.75 160.7V169.0M69.25 160.7V169.0M69.75 160.7V169.0M70.75 160.7V169.0M71.25 160.7V169.0M71.75 160.7V169.0M72.75 160.7V169.0M73.25 160.7V169.0M74.25 160.7V169.0M74.75 160.7V169.0M75.75 160.7V169.0M87.25 160.7V169.0M88.25 160.7V169.0M88.75 160.7V169.0M89.75 160.7V169.0M90.25 160.7V169.0M91.25 160.7V169.0M91.75 160.7V169.0M93.75 160.7V169.0M95.25 160.7V169.0M96.25 160.7V169.0M96.75 160.7V169.0M97.25 160.7V169.0M97.75 160.7V169.0M98.75 160.7V169.0M99.25 160.7V169.0M99.75 160.7V169.0M100.75 160.7V169.0M101.25 160.7V169.0M101.75 160.7V169.0M103.25 160.7V169.0M104.75 160.7V169.0M107.75 160.7V169.0M108.25 160.7V169.0M109.25 160.7V169.0M110.25 160.7V169.0M110.75 160.7V169.0M111.75 160.7V169.0M112.25 160.7V169.0M114.75 160.7V169.0M115.75 160.7V169.0M116.75 160.7V169.0M117.75 160.7V169.0M119.25 160.7V169.0M120.25 160.7V169.0M121.25 160.7V169.0M121.75 160.7V169.0M122.25 160.7V169.0M122.75 160.7V169.0M123.25 160.7V169.0M123.75 160.7V169.0M124.25 160.7V169.0M125.25 160.7V169.0M127.75 160.7V169.0M129.75 160.7V169.0M130.25 160.7V169.0M133.25 160.7V169.0M133.75 160.7V169.0M134.75 160.7V169.0M135.25 160.7V169.0M135.75 160.7V169.0M136.25 160.7V169.0M136.75 160.7V169.0M137.75 160.7V169.0M138.25 160.7V169.0M138.75 160.7V169.0M139.25 160.7V169.0M139.75 160.7V169.0M140.25 160.7V169.0M142.25 160.7V169.0M142.75 160.7V169.0M143.25 160.7V169.0M143.75 160.7V169.0M144.25 160.7V169.0M144.75 160.7V169.0M145.75 160.7V169.0M146.75 160.7V169.0M147.25 160.7V169.0M147.75 160.7V169.0M148.25 160.7V169.0M148.75 160.7V169.0M149.25 160.7V169.0M149.75 160.7V169.0M152.25 160.7V169.0M152.75 160.7V169.0M153.25 160.7V169.0M153.75 160.7V169.0M156.25 160.7V169.0M158.25 160.7V169.0M159.25 160.7V169.0M159.75 160.7V169.0M160.25 160.7V169.0M160.75 160.7V169.0M161.75 160.7V169.0M162.25 160.7V169.0M162.75 160.7V169.0M163.25 160.7V169.0M163.75 160.7V169.0M165.75 160.7V169.0M166.75 160.7V169.0M167.25 160.7V169.0M167.75 160.7V169.0M168.25 160.7V169.0M169.25 160.7V169.0M172.25 160.7V169.0M172.75 160.7V169.0M173.25 160.7V169.0M174.75 160.7V169.0M175.75 160.7V169.0M176.75 160.7V169.0M177.25 160.7V169.0M177.75 160.7V169.0M178.75 160.7V169.0M179.75 160.7V169.0M180.25 160.7V169.0M180.75 160.7V169.0M182.25 160.7V169.0M182.75 160.7V169.0M183.75 160.7V169.0M184.75 160.7V169.0M185.75 160.7V169.0M186.25 160.7V169.0M186.75 160.7V169.0M187.25 160.7V169.0M187.75 160.7V169.0M188.25 160.7V169.0M189.25 160.7V169.0M190.25 160.7V169.0M190.75 160.7V169.0M191.25 160.7V169.0M191.75 160.7V169.0M192.75 160.7V169.0M193.25 160.7V169.0M193.75 160.7V169.0M194.75 160.7V169.0M195.25 160.7V169.0M195.75 160.7V169.0M196.25 160.7V169.0M196.75 160.7V169.0M197.75 160.7V169.0M198.25 160.7V169.0M198.75 160.7V169.0M199.25 160.7V169.0M199.75 160.7V169.0M200.25 160.7V169.0M200.75 160.7V169.0M202.75 160.7V169.0M203.25 160.7V169.0M203.75 160.7V169.0M204.25 160.7V169.0M205.25 160.7V169.0M205.75 160.7V169.0M206.25 160.7V169.0M206.75 160.7V169.0M207.25 160.7V169.0M208.25 160.7V169.0M209.25 160.7V169.0M209.75 160.7V169.0M210.25 160.7V169.0M211.75 160.7V169.0M212.25 160.7V169.0M212.75 160.7V169.0M213.25 160.7V169.0M213.75 160.7V169.0M214.75 160.7V169.0M215.25 160.7V169.0M215.75 160.7V169.0M216.25 160.7V169.0M216.75 160.7V169.0M217.75 160.7V169.0M218.25 160.7V169.0M219.25 160.7V169.0M219.75 160.7V169.0M220.25 160.7V169.0M220.75 160.7V169.0M221.75 160.7V169.0M222.25 160.7V169.0M223.25 160.7V169.0M223.75 160.7V169.0M224.75 160.7V169.0M225.25 160.7V169.0M226.25 160.7V169.0M226.75 160.7V169.0M228.25 160.7V169.0M228.75 160.7V169.0M229.75 160.7V169.0M230.25 160.7V169.0M231.75 160.7V169.0M232.25 160.7V169.0M233.25 160.7V169.0M233.75 160.7V169.0M234.25 160.7V169.0M234.75 160.7V169.0M237.25 160.7V169.0M237.75 160.7V169.0M238.25 160.7V169.0M239.25 160.7V169.0M240.25 160.7V169.0M241.75 160.7V169.0M242.25 160.7V169.0M243.25 160.7V169.0M244.25 160.7V169.0M244.75 160.7V169.0M245.25 160.7V169.0M247.25 160.7V169.0M249.75 160.7V169.0M250.25 160.7V169.0M250.75 160.7V169.0M252.25 160.7V169.0M269.25 160.7V169.0M270.75 160.7V169.0M271.25 160.7V169.0M272.25 160.7V169.0M272.75 160.7V169.0M273.25 160.7V169.0M274.25 160.7V169.0M274.75 160.7V169.0M275.25 160.7V169.0M275.75 160.7V169.0M276.75 160.7V169.0M277.25 160.7V169.0M277.75 160.7V169.0M278.75 160.7V169.0M281.75 160.7V169.0M282.25 160.7V169.0M283.25 160.7V169.0M283.75 160.7V169.0M284.75 160.7V169.0M285.25 160.7V169.0M285.75 160.7V169.0M286.75 160.7V169.0M287.25 160.7V169.0M288.25 160.7V169.0M288.75 160.7V169.0M289.25 160.7V169.0M291.75 160.7V169.0M292.25 160.7V169.0" stroke="#3352a8" stroke-width="0.7" fill="none"/><path d="M170.0 181.0V196.5" stroke="#5ec6dc" stroke-width="0.8" fill="none"/><path d="M19.00 204.50L19.25 194.78L19.75 195.55L20.25 194.78L20.75 196.46L21.25 197.58L21.75 194.78L22.25 194.78L22.75 195.55L23.25 194.78L23.75 195.55L24.25 194.78L24.75 194.78L25.25 197.58L25.75 194.11L26.25 195.55L26.75 195.55L27.25 194.78L27.75 194.78L28.25 195.55L28.75 195.55L29.25 195.55L29.75 195.55L30.25 195.55L30.75 196.46L31.25 194.78L31.75 194.11L32.25 196.46L32.75 192.52L33.25 195.55L33.75 194.11L34.25 196.46L34.75 195.55L35.25 194.11L35.75 194.78L36.25 195.55L36.75 195.55L37.25 195.55L37.75 194.78L38.25 195.55L38.75 196.46L39.25 195.55L39.75 195.55L40.25 194.78L40.75 193.53L41.25 196.46L41.75 194.78L42.25 194.78L42.75 195.55L43.25 195.55L43.75 196.46L44.25 196.46L44.75 196.46L45.25 197.58L45.75 196.46L46.25 196.46L46.75 195.55L47.25 196.46L47.75 194.11L48.25 195.55L48.75 193.53L49.25 195.55L49.75 195.55L50.25 195.55L50.75 194.78L51.25 195.55L51.75 195.55L52.25 196.46L52.75 196.46L53.25 194.78L53.75 193.00L54.25 194.11L54.75 196.46L55.25 196.46L55.75 195.55L56.25 196.46L56.75 194.78L57.25 193.00L57.75 195.55L58.25 195.55L58.75 194.78L59.25 197.58L59.75 194.11L60.25 195.55L60.75 195.55L61.25 196.46L61.75 195.55L62.25 195.55L62.75 194.11L63.25 196.46L63.75 195.55L64.25 194.11L64.75 196.46L65.25 195.55L65.75 197.58L66.25 195.55L66.75 197.58L67.25 193.53L67.75 195.55L68.25 195.55L68.75 196.46L69.25 194.11L69.75 194.11L70.25 194.78L70.75 195.55L71.25 193.53L71.75 196.46L72.25 196.46L72.75 196.46L73.25 195.55L73.75 195.55L74.25 194.78L74.75 194.78L75.25 194.78L75.75 194.78L76.25 193.00L76.75 189.54L77.25 186.20L77.75 181.97L78.25 177.54L78.75 174.03L79.25 170.50L79.75 168.22L80.25 166.30L80.75 165.00L81.25 164.41L81.75 154.40L82.25 163.91L82.75 165.34L83.25 166.62L83.75 168.57L84.25 171.26L84.75 174.16L85.25 177.91L85.75 181.50L86.25 186.89L86.75 190.65L87.25 192.52L87.75 196.46L88.25 194.78L88.75 195.55L89.25 195.55L89.75 194.78L90.25 195.55L90.75 195.55L91.25 194.11L91.75 194.78L92.25 196.46L92.75 194.78L93.25 193.00L93.75 195.55L94.25 195.55L94.75 194.78L95.25 194.11L95.75 194.78L96.25 194.11L96.75 193.53L97.25 193.53L97.75 194.78L98.25 196.46L98.75 194.78L99.25 194.78L99.75 196.46L100.25 196.46L100.75 195.55L101.25 195.55L101.75 194.78L102.25 193.53L102.75 195.55L103.25 195.55L103.75 195.55L104.25 194.78L104.75 195.55L105.25 194.78L105.75 194.78L106.25 196.46L106.75 195.55L107.25 196.46L107.75 197.58L108.25 195.55L108.75 195.55L109.25 194.78L109.75 194.11L110.25 193.53L110.75 194.11L111.25 195.55L111.75 196.46L112.25 195.55L112.75 194.78L113.25 195.55L113.75 196.46L114.25 194.78L114.75 196.46L115.25 196.46L115.75 195.55L116.25 195.55L116.75 194.78L117.25 196.46L117.75 195.55L118.25 195.55L118.75 196.46L119.25 194.11L119.75 196.46L120.25 197.58L120.75 194.78L121.25 196.46L121.75 195.55L122.25 195.55L122.75 196.46L123.25 195.55L123.75 191.69L124.25 195.55L124.75 195.55L125.25 195.55L125.75 194.78L126.25 194.11L126.75 193.53L127.25 195.55L127.75 194.78L128.25 194.78L128.75 194.78L129.25 194.78L129.75 194.78L130.25 195.55L130.75 194.78L131.25 195.55L131.75 193.53L132.25 195.55L132.75 195.55L133.25 194.78L133.75 195.55L134.25 194.11L134.75 196.46L135.25 195.55L135.75 195.55L136.25 196.46L136.75 194.11L137.25 193.00L137.75 194.78L138.25 195.55L138.75 197.58L139.25 194.78L139.75 195.55L140.25 197.58L140.75 196.46L141.25 194.78L141.75 195.55L142.25 195.55L142.75 195.55L143.25 195.55L143.75 195.55L144.25 197.58L144.75 196.46L145.25 196.46L145.75 196.46L146.25 195.55L146.75 195.55L147.25 195.55L147.75 194.78L148.25 195.55L148.75 194.78L149.25 194.78L149.75 194.78L150.25 194.78L150.75 195.55L151.25 196.46L151.75 196.46L152.25 196.46L152.75 194.78L153.25 195.55L153.75 195.55L154.25 195.55L154.75 192.52L155.25 194.78L155.75 194.78L156.25 194.11L156.75 195.55L157.25 194.11L157.75 196.46L158.25 193.53L158.75 196.46L159.25 196.46L159.75 195.55L160.25 196.46L160.75 194.78L161.25 194.78L161.75 195.55L162.25 195.55L162.75 196.46L163.25 196.46L163.75 196.46L164.25 196.46L164.75 195.55L165.25 196.46L165.75 195.55L166.25 195.55L166.75 197.58L167.25 195.55L167.75 194.78L168.25 194.78L168.75 196.46L169.25 194.11L169.75 194.11L170.25 195.55L170.75 194.78L171.25 196.46L171.75 194.11L172.25 194.78L172.75 195.55L173.25 195.55L173.75 194.78L174.25 194.11L174.75 196.46L175.25 195.55L175.75 195.55L176.25 195.55L176.75 194.11L177.25 194.78L177.75 195.55L178.25 196.46L178.75 194.78L179.25 194.78L179.75 194.78L180.25 196.46L180.75 193.53L181.25 194.78L181.75 197.58L182.25 195.55L182.75 196.46L183.25 196.46L183.75 194.78L184.25 196.46L184.75 196.46L185.25 196.46L185.75 196.46L186.25 194.11L186.75 193.00L187.25 196.46L187.75 196.46L188.25 195.55L188.75 194.11L189.25 194.78L189.75 194.78L190.25 195.55L190.75 196.46L191.25 195.55L191.75 195.55L192.25 193.53L192.75 194.78L193.25 195.55L193.75 196.46L194.25 195.55L194.75 195.55L195.25 194.78L195.75 194.11L196.25 193.53L196.75 197.58L197.25 195.55L197.75 194.78L198.25 194.78L198.75 194.11L199.25 197.58L199.75 196.46L200.25 195.55L200.75 195.55L201.25 194.78L201.75 195.55L202.25 195.55L202.75 194.11L203.25 195.55L203.75 194.11L204.25 195.55L204.75 195.55L205.25 195.55L205.75 195.55L206.25 195.55L206.75 197.58L207.25 195.55L207.75 194.78L208.25 195.55L208.75 195.55L209.25 195.55L209.75 194.78L210.25 194.78L210.75 195.55L211.25 193.00L211.75 194.11L212.25 195.55L212.75 194.11L213.25 193.53L213.75 195.55L214.25 194.78L214.75 195.55L215.25 195.55L215.75 194.78L216.25 195.55L216.75 196.46L217.25 195.55L217.75 197.58L218.25 195.55L218.75 196.46L219.25 194.78L219.75 194.78L220.25 196.46L220.75 195.55L221.25 195.55L221.75 193.53L222.25 195.55L222.75 194.78L223.25 195.55L223.75 194.78L224.25 194.78L224.75 196.46L225.25 197.58L225.75 195.55L226.25 194.78L226.75 196.46L227.25 194.78L227.75 197.58L228.25 194.78L228.75 196.46L229.25 195.55L229.75 193.53L230.25 195.55L230.75 196.46L231.25 194.78L231.75 195.55L232.25 195.55L232.75 194.78L233.25 195.55L233.75 194.11L234.25 196.46L234.75 195.55L235.25 194.78L235.75 194.78L236.25 194.78L236.75 195.55L237.25 197.58L237.75 194.78L238.25 194.78L238.75 195.55L239.25 196.46L239.75 194.78L240.25 195.55L240.75 195.55L241.25 195.55L241.75 195.55L242.25 195.55L242.75 196.46L243.25 195.55L243.75 194.78L244.25 195.55L244.75 194.78L245.25 195.55L245.75 196.46L246.25 195.55L246.75 193.00L247.25 196.46L247.75 194.78L248.25 194.78L248.75 194.78L249.25 194.78L249.75 194.11L250.25 195.55L250.75 194.11L251.25 195.55L251.75 194.11L252.25 194.11L252.75 192.52L253.25 194.11L253.75 192.52L254.25 192.52L254.75 187.51L255.25 182.37L255.75 178.54L256.25 175.46L256.75 173.00L257.25 172.45L257.75 172.99L258.25 173.61L258.75 176.11L259.25 179.61L259.75 182.94L260.25 179.51L260.75 174.81L261.25 171.49L261.75 168.75L262.25 154.80L262.75 159.37L263.25 168.07L263.75 170.12L264.25 173.33L264.75 177.41L265.25 182.94L265.75 188.42L266.25 191.69L266.75 193.00L267.25 193.00L267.75 192.09L268.25 193.53L268.75 193.53L269.25 193.00L269.75 193.53L270.25 194.78L270.75 194.78L271.25 194.78L271.75 194.78L272.25 195.55L272.75 195.55L273.25 195.55L273.75 196.46L274.25 196.46L274.75 194.78L275.25 194.78L275.75 195.55L276.25 193.53L276.75 195.55L277.25 194.78L277.75 194.11L278.25 194.78L278.75 194.78L279.25 194.11L279.75 194.78L280.25 195.55L280.75 194.78L281.25 195.55L281.75 194.78L282.25 195.55L282.75 194.78L283.25 194.78L283.75 194.78L284.25 195.55L284.75 196.46L285.25 195.55L285.75 196.46L286.25 195.55L286.75 195.55L287.25 194.78L287.75 196.46L288.25 196.46L288.75 196.46L289.25 195.55L289.75 194.78L290.25 195.55L290.75 196.46L291.25 193.00L291.75 194.11L292.25 195.55L292.75 195.55L293.00 204.50L292.75 204.50L292.25 204.50L291.75 204.50L291.25 204.50L290.75 204.50L290.25 204.50L289.75 204.50L289.25 204.50L288.75 204.50L288.25 204.50L287.75 204.50L287.25 204.50L286.75 204.50L286.25 204.50L285.75 204.50L285.25 204.50L284.75 204.50L284.25 204.50L283.75 204.50L283.25 204.50L282.75 204.50L282.25 204.50L281.75 204.50L281.25 204.50L280.75 204.50L280.25 204.50L279.75 204.50L279.25 204.50L278.75 204.50L278.25 204.50L277.75 204.50L277.25 204.50L276.75 204.50L276.25 204.50L275.75 204.50L275.25 204.50L274.75 204.50L274.25 204.50L273.75 204.50L273.25 204.50L272.75 204.50L272.25 204.50L271.75 204.50L271.25 204.50L270.75 204.50L270.25 204.50L269.75 204.50L269.25 204.50L268.75 204.50L268.25 204.50L267.75 197.58L267.25 201.04L266.75 197.58L266.25 196.46L265.75 194.11L265.25 189.29L264.75 183.50L264.25 177.43L263.75 173.67L263.25 170.00L262.75 168.34L262.25 168.94L261.75 171.31L261.25 174.83L260.75 179.89L260.25 184.40L259.75 186.08L259.25 184.05L258.75 179.41L258.25 176.13L257.75 174.01L257.25 173.64L256.75 175.45L256.25 178.04L255.75 182.68L255.25 188.84L254.75 195.55L254.25 201.04L253.75 204.50L253.25 204.50L252.75 204.50L252.25 204.50L251.75 204.50L251.25 204.50L250.75 204.50L250.25 204.50L249.75 204.50L249.25 204.50L248.75 204.50L248.25 204.50L247.75 204.50L247.25 204.50L246.75 204.50L246.25 204.50L245.75 204.50L245.25 204.50L244.75 204.50L244.25 204.50L243.75 204.50L243.25 204.50L242.75 204.50L242.25 204.50L241.75 204.50L241.25 204.50L240.75 204.50L240.25 204.50L239.75 204.50L239.25 204.50L238.75 204.50L238.25 204.50L237.75 204.50L237.25 204.50L236.75 204.50L236.25 204.50L235.75 204.50L235.25 204.50L234.75 204.50L234.25 204.50L233.75 204.50L233.25 204.50L232.75 204.50L232.25 204.50L231.75 204.50L231.25 204.50L230.75 204.50L230.25 204.50L229.75 204.50L229.25 204.50L228.75 204.50L228.25 204.50L227.75 204.50L227.25 204.50L226.75 204.50L226.25 204.50L225.75 204.50L225.25 204.50L224.75 204.50L224.25 204.50L223.75 204.50L223.25 204.50L222.75 204.50L222.25 204.50L221.75 204.50L221.25 204.50L220.75 204.50L220.25 204.50L219.75 204.50L219.25 204.50L218.75 204.50L218.25 204.50L217.75 204.50L217.25 204.50L216.75 204.50L216.25 204.50L215.75 204.50L215.25 204.50L214.75 204.50L214.25 204.50L213.75 204.50L213.25 204.50L212.75 204.50L212.25 204.50L211.75 204.50L211.25 204.50L210.75 204.50L210.25 204.50L209.75 204.50L209.25 204.50L208.75 204.50L208.25 204.50L207.75 204.50L207.25 204.50L206.75 204.50L206.25 204.50L205.75 204.50L205.25 204.50L204.75 204.50L204.25 204.50L203.75 204.50L203.25 204.50L202.75 204.50L202.25 204.50L201.75 204.50L201.25 204.50L200.75 204.50L200.25 204.50L199.75 204.50L199.25 204.50L198.75 204.50L198.25 204.50L197.75 204.50L197.25 204.50L196.75 204.50L196.25 204.50L195.75 204.50L195.25 204.50L194.75 204.50L194.25 204.50L193.75 204.50L193.25 204.50L192.75 204.50L192.25 204.50L191.75 204.50L191.25 204.50L190.75 204.50L190.25 204.50L189.75 204.50L189.25 204.50L188.75 204.50L188.25 204.50L187.75 204.50L187.25 204.50L186.75 204.50L186.25 204.50L185.75 204.50L185.25 204.50L184.75 204.50L184.25 204.50L183.75 204.50L183.25 204.50L182.75 204.50L182.25 204.50L181.75 204.50L181.25 204.50L180.75 204.50L180.25 204.50L179.75 204.50L179.25 204.50L178.75 204.50L178.25 204.50L177.75 204.50L177.25 204.50L176.75 204.50L176.25 204.50L175.75 204.50L175.25 204.50L174.75 204.50L174.25 204.50L173.75 204.50L173.25 204.50L172.75 204.50L172.25 204.50L171.75 204.50L171.25 204.50L170.75 204.50L170.25 204.50L169.75 204.50L169.25 204.50L168.75 204.50L168.25 204.50L167.75 204.50L167.25 204.50L166.75 204.50L166.25 204.50L165.75 204.50L165.25 204.50L164.75 204.50L164.25 204.50L163.75 204.50L163.25 204.50L162.75 204.50L162.25 204.50L161.75 204.50L161.25 204.50L160.75 204.50L160.25 204.50L159.75 204.50L159.25 204.50L158.75 204.50L158.25 204.50L157.75 204.50L157.25 204.50L156.75 204.50L156.25 204.50L155.75 204.50L155.25 204.50L154.75 204.50L154.25 204.50L153.75 204.50L153.25 204.50L152.75 204.50L152.25 204.50L151.75 204.50L151.25 204.50L150.75 204.50L150.25 204.50L149.75 204.50L149.25 204.50L148.75 204.50L148.25 204.50L147.75 204.50L147.25 204.50L146.75 204.50L146.25 204.50L145.75 204.50L145.25 204.50L144.75 204.50L144.25 204.50L143.75 204.50L143.25 204.50L142.75 204.50L142.25 204.50L141.75 204.50L141.25 204.50L140.75 204.50L140.25 204.50L139.75 204.50L139.25 204.50L138.75 204.50L138.25 204.50L137.75 204.50L137.25 204.50L136.75 204.50L136.25 204.50L135.75 204.50L135.25 204.50L134.75 204.50L134.25 204.50L133.75 204.50L133.25 204.50L132.75 204.50L132.25 204.50L131.75 204.50L131.25 204.50L130.75 204.50L130.25 204.50L129.75 204.50L129.25 204.50L128.75 204.50L128.25 204.50L127.75 204.50L127.25 204.50L126.75 204.50L126.25 204.50L125.75 204.50L125.25 204.50L124.75 204.50L124.25 204.50L123.75 204.50L123.25 204.50L122.75 204.50L122.25 204.50L121.75 204.50L121.25 204.50L120.75 204.50L120.25 204.50L119.75 204.50L119.25 204.50L118.75 204.50L118.25 204.50L117.75 204.50L117.25 204.50L116.75 204.50L116.25 204.50L115.75 204.50L115.25 204.50L114.75 204.50L114.25 204.50L113.75 204.50L113.25 204.50L112.75 204.50L112.25 204.50L111.75 204.50L111.25 204.50L110.75 204.50L110.25 204.50L109.75 204.50L109.25 204.50L108.75 204.50L108.25 204.50L107.75 204.50L107.25 204.50L106.75 204.50L106.25 204.50L105.75 204.50L105.25 204.50L104.75 204.50L104.25 204.50L103.75 204.50L103.25 204.50L102.75 204.50L102.25 204.50L101.75 204.50L101.25 204.50L100.75 204.50L100.25 204.50L99.75 204.50L99.25 204.50L98.75 204.50L98.25 204.50L97.75 204.50L97.25 204.50L96.75 204.50L96.25 204.50L95.75 204.50L95.25 204.50L94.75 204.50L94.25 204.50L93.75 204.50L93.25 204.50L92.75 204.50L92.25 204.50L91.75 204.50L91.25 204.50L90.75 204.50L90.25 204.50L89.75 204.50L89.25 204.50L88.75 204.50L88.25 204.50L87.75 204.50L87.25 201.04L86.75 197.58L86.25 191.69L85.75 188.23L85.25 182.81L84.75 178.45L84.25 174.25L83.75 171.08L83.25 168.53L82.75 166.53L82.25 165.29L81.75 164.55L81.25 165.34L80.75 166.24L80.25 168.00L79.75 170.53L79.25 173.59L78.75 177.72L78.25 181.02L77.75 187.04L77.25 191.32L76.75 197.58L76.25 204.50L75.75 204.50L75.25 204.50L74.75 204.50L74.25 204.50L73.75 204.50L73.25 204.50L72.75 204.50L72.25 204.50L71.75 204.50L71.25 204.50L70.75 204.50L70.25 204.50L69.75 204.50L69.25 204.50L68.75 204.50L68.25 204.50L67.75 204.50L67.25 204.50L66.75 204.50L66.25 204.50L65.75 204.50L65.25 204.50L64.75 204.50L64.25 204.50L63.75 204.50L63.25 204.50L62.75 204.50L62.25 204.50L61.75 204.50L61.25 204.50L60.75 204.50L60.25 204.50L59.75 204.50L59.25 204.50L58.75 204.50L58.25 204.50L57.75 204.50L57.25 204.50L56.75 204.50L56.25 204.50L55.75 204.50L55.25 204.50L54.75 204.50L54.25 204.50L53.75 204.50L53.25 204.50L52.75 204.50L52.25 204.50L51.75 204.50L51.25 204.50L50.75 204.50L50.25 204.50L49.75 204.50L49.25 204.50L48.75 204.50L48.25 204.50L47.75 204.50L47.25 204.50L46.75 204.50L46.25 204.50L45.75 204.50L45.25 204.50L44.75 204.50L44.25 204.50L43.75 204.50L43.25 204.50L42.75 204.50L42.25 204.50L41.75 204.50L41.25 204.50L40.75 204.50L40.25 204.50L39.75 204.50L39.25 204.50L38.75 204.50L38.25 204.50L37.75 204.50L37.25 204.50L36.75 204.50L36.25 204.50L35.75 204.50L35.25 204.50L34.75 204.50L34.25 204.50L33.75 204.50L33.25 204.50L32.75 204.50L32.25 204.50L31.75 204.50L31.25 204.50L30.75 204.50L30.25 204.50L29.75 204.50L29.25 204.50L28.75 204.50L28.25 204.50L27.75 204.50L27.25 204.50L26.75 204.50L26.25 204.50L25.75 204.50L25.25 204.50L24.75 204.50L24.25 204.50L23.75 204.50L23.25 204.50L22.75 204.50L22.25 204.50L21.75 204.50L21.25 204.50L20.75 204.50L20.25 204.50L19.75 204.50L19.25 204.50Z" fill="#5ec6dc"/><path d="M24.25 195.3V191.5M25.75 194.6V193.0M28.25 196.1V193.7M28.75 196.1V192.9M29.75 196.1V193.2M31.25 195.3V191.9M36.25 196.1V193.5M37.75 195.3V192.5M42.75 196.1V193.5M45.75 197.0V195.1M48.75 194.0V190.1M50.25 196.1V193.2M50.75 195.3V192.1M52.25 197.0V195.4M52.75 197.0V194.4M58.75 195.3V193.1M60.25 196.1V192.6M61.75 196.1V194.1M63.75 196.1V192.8M68.75 197.0V193.9M77.25 186.7V185.0M78.75 174.5V171.5M87.25 193.0V191.1M88.75 196.1V193.3M96.25 194.6V191.6M97.25 194.0V192.4M98.75 195.3V191.6M100.75 196.1V193.8M101.75 195.3V192.2M102.25 194.0V192.4M103.25 196.1V194.0M106.75 196.1V192.3M110.25 194.0V191.5M112.75 195.3V192.6M113.25 196.1V193.6M115.75 196.1V193.7M116.75 195.3V192.5M118.25 196.1V194.4M119.75 197.0V193.6M124.75 196.1V192.3M125.25 196.1V192.5M128.25 195.3V191.6M132.25 196.1V192.2M136.25 197.0V195.1M140.25 198.1V195.0M140.75 197.0V194.6M141.25 195.3V193.8M141.75 196.1V192.9M143.25 196.1V192.2M145.75 197.0V195.0M148.75 195.3V192.3M149.75 195.3V191.5M150.25 195.3V193.1M151.25 197.0V193.0M152.25 197.0V193.4M152.75 195.3V192.0M155.75 195.3V193.7M156.75 196.1V192.6M157.75 197.0V194.5M160.75 195.3V192.7M163.25 197.0V194.2M166.25 196.1V192.1M172.25 195.3V192.2M173.75 195.3V192.4M174.75 197.0V194.7M185.25 197.0V195.1M185.75 197.0V195.0M186.25 194.6V191.4M200.75 196.1V193.9M201.25 195.3V193.6M201.75 196.1V193.3M205.25 196.1V192.1M208.75 196.1V192.7M209.25 196.1V193.4M213.75 196.1V192.2M214.25 195.3V191.3M215.25 196.1V192.9M215.75 195.3V191.9M217.25 196.1V194.1M221.25 196.1V193.4M222.75 195.3V191.7M224.25 195.3V192.5M225.25 198.1V194.9M228.75 197.0V195.0M230.25 196.1V193.5M230.75 197.0V194.3M231.25 195.3V193.0M235.75 195.3V193.6M236.25 195.3V191.8M239.75 195.3V191.4M240.25 196.1V194.3M240.75 196.1V193.0M241.25 196.1V193.2M244.25 196.1V193.8M247.25 197.0V193.8M251.75 194.6V191.9M253.25 194.6V193.0M255.75 179.0V177.0M256.75 173.5V171.0M261.25 172.0V168.4M265.25 183.4V179.7M265.75 188.9V185.9M266.75 193.5V191.9M267.75 192.6V189.2M270.75 195.3V191.4M273.75 197.0V194.7M274.75 195.3V193.7M283.75 195.3V193.6M284.75 197.0V195.3M285.25 196.1V194.1M287.75 197.0V193.2M288.25 197.0V194.2M289.75 195.3V193.2" stroke="#5ec6dc" stroke-width="0.4" fill="none" opacity="0.6"/><path d="M19.25 204.2V211.8M20.25 204.2V211.8M20.75 204.2V211.8M21.25 204.2V211.8M21.75 204.2V211.8M22.25 204.2V211.8M23.25 204.2V211.8M23.75 204.2V211.8M25.25 204.2V211.8M25.75 204.2V211.8M26.25 204.2V211.8M26.75 204.2V211.8M27.25 204.2V211.8M27.75 204.2V211.8M28.25 204.2V211.8M28.75 204.2V211.8M29.25 204.2V211.8M29.75 204.2V211.8M30.25 204.2V211.8M30.75 204.2V211.8M31.25 204.2V211.8M31.75 204.2V211.8M32.25 204.2V211.8M33.25 204.2V211.8M33.75 204.2V211.8M34.25 204.2V211.8M34.75 204.2V211.8M35.25 204.2V211.8M35.75 204.2V211.8M36.75 204.2V211.8M37.25 204.2V211.8M37.75 204.2V211.8M38.75 204.2V211.8M39.25 204.2V211.8M39.75 204.2V211.8M40.25 204.2V211.8M41.25 204.2V211.8M41.75 204.2V211.8M42.25 204.2V211.8M42.75 204.2V211.8M43.75 204.2V211.8M44.25 204.2V211.8M44.75 204.2V211.8M45.75 204.2V211.8M46.25 204.2V211.8M46.75 204.2V211.8M47.25 204.2V211.8M47.75 204.2V211.8M48.25 204.2V211.8M48.75 204.2V211.8M49.25 204.2V211.8M49.75 204.2V211.8M50.25 204.2V211.8M50.75 204.2V211.8M51.25 204.2V211.8M51.75 204.2V211.8M52.25 204.2V211.8M52.75 204.2V211.8M53.25 204.2V211.8M53.75 204.2V211.8M54.25 204.2V211.8M54.75 204.2V211.8M55.25 204.2V211.8M55.75 204.2V211.8M56.25 204.2V211.8M56.75 204.2V211.8M57.25 204.2V211.8M57.75 204.2V211.8M58.25 204.2V211.8M58.75 204.2V211.8M59.25 204.2V211.8M59.75 204.2V211.8M60.25 204.2V211.8M60.75 204.2V211.8M61.25 204.2V211.8M61.75 204.2V211.8M62.25 204.2V211.8M62.75 204.2V211.8M63.25 204.2V211.8M63.75 204.2V211.8M64.25 204.2V211.8M64.75 204.2V211.8M65.25 204.2V211.8M65.75 204.2V211.8M66.25 204.2V211.8M66.75 204.2V211.8M67.25 204.2V211.8M67.75 204.2V211.8M68.25 204.2V211.8M68.75 204.2V211.8M69.25 204.2V211.8M69.75 204.2V211.8M70.25 204.2V211.8M70.75 204.2V211.8M71.25 204.2V211.8M71.75 204.2V211.8M72.25 204.2V211.8M73.25 204.2V211.8M73.75 204.2V211.8M74.25 204.2V211.8M74.75 204.2V211.8M87.75 204.2V211.8M88.75 204.2V211.8M90.25 204.2V211.8M90.75 204.2V211.8M91.25 204.2V211.8M91.75 204.2V211.8M92.75 204.2V211.8M93.25 204.2V211.8M94.25 204.2V211.8M94.75 204.2V211.8M95.75 204.2V211.8M96.25 204.2V211.8M96.75 204.2V211.8M97.25 204.2V211.8M97.75 204.2V211.8M98.25 204.2V211.8M98.75 204.2V211.8M99.75 204.2V211.8M100.75 204.2V211.8M101.75 204.2V211.8M102.25 204.2V211.8M102.75 204.2V211.8M103.75 204.2V211.8M104.25 204.2V211.8M104.75 204.2V211.8M105.25 204.2V211.8M105.75 204.2V211.8M106.25 204.2V211.8M106.75 204.2V211.8M107.75 204.2V211.8M108.25 204.2V211.8M108.75 204.2V211.8M109.25 204.2V211.8M109.75 204.2V211.8M111.25 204.2V211.8M111.75 204.2V211.8M112.25 204.2V211.8M112.75 204.2V211.8M113.25 204.2V211.8M114.25 204.2V211.8M114.75 204.2V211.8M115.25 204.2V211.8M115.75 204.2V211.8M116.25 204.2V211.8M117.25 204.2V211.8M117.75 204.2V211.8M118.25 204.2V211.8M118.75 204.2V211.8M119.75 204.2V211.8M120.75 204.2V211.8M121.75 204.2V211.8M122.25 204.2V211.8M122.75 204.2V211.8M123.25 204.2V211.8M123.75 204.2V211.8M124.25 204.2V211.8M124.75 204.2V211.8M125.25 204.2V211.8M125.75 204.2V211.8M126.25 204.2V211.8M126.75 204.2V211.8M127.25 204.2V211.8M127.75 204.2V211.8M128.25 204.2V211.8M129.25 204.2V211.8M129.75 204.2V211.8M130.25 204.2V211.8M131.25 204.2V211.8M131.75 204.2V211.8M133.25 204.2V211.8M134.25 204.2V211.8M134.75 204.2V211.8M135.25 204.2V211.8M135.75 204.2V211.8M136.25 204.2V211.8M136.75 204.2V211.8M137.75 204.2V211.8M138.75 204.2V211.8M139.75 204.2V211.8M140.25 204.2V211.8M140.75 204.2V211.8M141.25 204.2V211.8M141.75 204.2V211.8M142.25 204.2V211.8M142.75 204.2V211.8M143.25 204.2V211.8M144.25 204.2V211.8M144.75 204.2V211.8M145.25 204.2V211.8M145.75 204.2V211.8M146.25 204.2V211.8M146.75 204.2V211.8M147.25 204.2V211.8M147.75 204.2V211.8M148.75 204.2V211.8M149.25 204.2V211.8M150.25 204.2V211.8M150.75 204.2V211.8M151.25 204.2V211.8M151.75 204.2V211.8M152.25 204.2V211.8M153.25 204.2V211.8M153.75 204.2V211.8M154.25 204.2V211.8M154.75 204.2V211.8M155.25 204.2V211.8M155.75 204.2V211.8M156.25 204.2V211.8M156.75 204.2V211.8M157.25 204.2V211.8M157.75 204.2V211.8M158.25 204.2V211.8M158.75 204.2V211.8M159.25 204.2V211.8M159.75 204.2V211.8M160.75 204.2V211.8M161.25 204.2V211.8M161.75 204.2V211.8M162.25 204.2V211.8M162.75 204.2V211.8M163.25 204.2V211.8M163.75 204.2V211.8M164.25 204.2V211.8M164.75 204.2V211.8M165.25 204.2V211.8M165.75 204.2V211.8M166.75 204.2V211.8M168.25 204.2V211.8M169.25 204.2V211.8M169.75 204.2V211.8M170.25 204.2V211.8M171.25 204.2V211.8M171.75 204.2V211.8M172.25 204.2V211.8M172.75 204.2V211.8M173.75 204.2V211.8M174.75 204.2V211.8M175.25 204.2V211.8M175.75 204.2V211.8M176.25 204.2V211.8M176.75 204.2V211.8M177.25 204.2V211.8M177.75 204.2V211.8M178.25 204.2V211.8M178.75 204.2V211.8M179.25 204.2V211.8M179.75 204.2V211.8M180.25 204.2V211.8M180.75 204.2V211.8M181.25 204.2V211.8M181.75 204.2V211.8M182.25 204.2V211.8M182.75 204.2V211.8M183.25 204.2V211.8M184.25 204.2V211.8M184.75 204.2V211.8M185.25 204.2V211.8M185.75 204.2V211.8M186.25 204.2V211.8M186.75 204.2V211.8M187.25 204.2V211.8M187.75 204.2V211.8M188.25 204.2V211.8M188.75 204.2V211.8M189.75 204.2V211.8M190.25 204.2V211.8M191.75 204.2V211.8M192.25 204.2V211.8M192.75 204.2V211.8M193.25 204.2V211.8M193.75 204.2V211.8M194.25 204.2V211.8M194.75 204.2V211.8M195.25 204.2V211.8M196.25 204.2V211.8M196.75 204.2V211.8M197.25 204.2V211.8M197.75 204.2V211.8M198.25 204.2V211.8M198.75 204.2V211.8M199.75 204.2V211.8M200.25 204.2V211.8M200.75 204.2V211.8M201.25 204.2V211.8M201.75 204.2V211.8M202.25 204.2V211.8M202.75 204.2V211.8M203.25 204.2V211.8M203.75 204.2V211.8M204.75 204.2V211.8M205.25 204.2V211.8M205.75 204.2V211.8M206.25 204.2V211.8M206.75 204.2V211.8M207.25 204.2V211.8M207.75 204.2V211.8M208.25 204.2V211.8M208.75 204.2V211.8M209.25 204.2V211.8M209.75 204.2V211.8M210.25 204.2V211.8M210.75 204.2V211.8M211.25 204.2V211.8M212.25 204.2V211.8M212.75 204.2V211.8M213.25 204.2V211.8M214.25 204.2V211.8M214.75 204.2V211.8M215.75 204.2V211.8M216.25 204.2V211.8M216.75 204.2V211.8M217.25 204.2V211.8M217.75 204.2V211.8M218.25 204.2V211.8M219.25 204.2V211.8M220.25 204.2V211.8M221.25 204.2V211.8M221.75 204.2V211.8M222.25 204.2V211.8M223.25 204.2V211.8M223.75 204.2V211.8M224.25 204.2V211.8M224.75 204.2V211.8M225.75 204.2V211.8M226.25 204.2V211.8M226.75 204.2V211.8M227.25 204.2V211.8M227.75 204.2V211.8M228.25 204.2V211.8M229.25 204.2V211.8M229.75 204.2V211.8M230.25 204.2V211.8M230.75 204.2V211.8M231.25 204.2V211.8M231.75 204.2V211.8M232.25 204.2V211.8M232.75 204.2V211.8M233.75 204.2V211.8M234.25 204.2V211.8M234.75 204.2V211.8M235.25 204.2V211.8M235.75 204.2V211.8M236.25 204.2V211.8M236.75 204.2V211.8M237.25 204.2V211.8M237.75 204.2V211.8M239.25 204.2V211.8M241.25 204.2V211.8M241.75 204.2V211.8M242.75 204.2V211.8M243.25 204.2V211.8M243.75 204.2V211.8M244.25 204.2V211.8M245.25 204.2V211.8M245.75 204.2V211.8M246.25 204.2V211.8M246.75 204.2V211.8M247.25 204.2V211.8M249.75 204.2V211.8M250.25 204.2V211.8M251.25 204.2V211.8M251.75 204.2V211.8M252.75 204.2V211.8M253.75 204.2V211.8M269.25 204.2V211.8M270.75 204.2V211.8M271.75 204.2V211.8M272.25 204.2V211.8M272.75 204.2V211.8M273.75 204.2V211.8M274.25 204.2V211.8M275.25 204.2V211.8M275.75 204.2V211.8M276.25 204.2V211.8M277.75 204.2V211.8M278.75 204.2V211.8M279.25 204.2V211.8M279.75 204.2V211.8M280.25 204.2V211.8M280.75 204.2V211.8M282.25 204.2V211.8M283.75 204.2V211.8M284.25 204.2V211.8M284.75 204.2V211.8M285.25 204.2V211.8M285.75 204.2V211.8M286.25 204.2V211.8M286.75 204.2V211.8M287.25 204.2V211.8M287.75 204.2V211.8M288.25 204.2V211.8M288.75 204.2V211.8M289.25 204.2V211.8M289.75 204.2V211.8M290.25 204.2V211.8M290.75 204.2V211.8M291.25 204.2V211.8M291.75 204.2V211.8M292.25 204.2V211.8M292.75 204.2V211.8" stroke="#5ec6dc" stroke-width="0.7" fill="none"/>
<rect x="184.3" y="4.3" width="75.2" height="36.6" fill="#fff" stroke="#999" stroke-width="0.8"/><line x1="185.5" y1="9.0" x2="202.3" y2="9.0" stroke="#e87078" stroke-width="0.8"/><text x="203.2" y="11.9" class="lg">YIG:BTO = 2.5:1</text><line x1="185.5" y1="18.2" x2="202.3" y2="18.2" stroke="#a0d088" stroke-width="0.8"/><text x="203.2" y="21.1" class="lg">YIG:BTO = 4 : 1</text><line x1="185.5" y1="27.4" x2="202.3" y2="27.4" stroke="#6878b8" stroke-width="0.8"/><text x="203.2" y="30.3" class="lg">YIG:BTO = 20:1</text><line x1="185.5" y1="36.6" x2="202.3" y2="36.6" stroke="#88d0e0" stroke-width="0.8"/><text x="203.2" y="39.5" class="lg">YIG:BTO = 30:1</text>

<text x="54.5" y="14.5" class="pk">S (004)</text>
<text x="267" y="15.3" class="pk">S (008)</text>
<text x="46.5" y="51.7" class="pk">P (001)</text>
<text x="103" y="51.7" class="pk">P (110)</text>
<text x="184.3" y="51.7" class="pk">P (002)</text>
<text x="51" y="137.6" class="pk">G (004)</text>
<text x="229.4" y="138.2" class="pk">G (008)</text>

<rect x="18.5" y="1.6" width="275.3" height="221.1" fill="none" stroke="#444" stroke-width="1.0"/>
<line x1="30.00" y1="222.7" x2="30.00" y2="225.7" stroke="#333" stroke-width="0.8"/><text x="30.00" y="233.6" class="tk" text-anchor="middle">20</text><line x1="88.75" y1="222.7" x2="88.75" y2="225.7" stroke="#333" stroke-width="0.8"/><text x="88.75" y="233.6" class="tk" text-anchor="middle">30</text><line x1="147.50" y1="222.7" x2="147.50" y2="225.7" stroke="#333" stroke-width="0.8"/><text x="147.50" y="233.6" class="tk" text-anchor="middle">40</text><line x1="206.25" y1="222.7" x2="206.25" y2="225.7" stroke="#333" stroke-width="0.8"/><text x="206.25" y="233.6" class="tk" text-anchor="middle">50</text><line x1="265.00" y1="222.7" x2="265.00" y2="225.7" stroke="#333" stroke-width="0.8"/><text x="265.00" y="233.6" class="tk" text-anchor="middle">60</text>
<text x="7.0" y="13.6" class="pl" textLength="8.1" lengthAdjust="spacingAndGlyphs">a</text>
<text x="130.2" y="244.2" class="xl"><tspan font-family="Liberation Serif, serif">2θ</tspan> (degree)</text>
<text transform="translate(9.8,113.1) rotate(-90)" text-anchor="middle" class="yl">Intensity (a.u.)</text>

<rect x="300.5" y="0.8" width="106.0" height="105.0" filter="url(#t1)"/><rect x="413.3" y="0.8" width="104.7" height="105.0" filter="url(#t2)"/><clipPath id="c3"><rect x="300.5" y="111.8" width="105.9" height="105.0"/></clipPath><rect x="300.5" y="111.8" width="105.9" height="105.0" fill="#6e1c6e"/><rect x="300.5" y="111.8" width="105.9" height="105.0" filter="url(#t3)" opacity="0.55"/><g clip-path="url(#c3)" filter="url(#sb)"><ellipse cx="298.7" cy="109.0" rx="2.3" ry="1.6" transform="rotate(53 298.7 109.0)" fill="#fae6a0"/><ellipse cx="305.7" cy="111.8" rx="2.5" ry="1.3" transform="rotate(145 305.7 111.8)" fill="#f2cc58"/><ellipse cx="306.9" cy="110.5" rx="2.4" ry="1.6" transform="rotate(70 306.9 110.5)" fill="#e4a434"/><ellipse cx="312.7" cy="109.7" rx="2.0" ry="1.4" transform="rotate(10 312.7 109.7)" fill="#d88a30"/><ellipse cx="316.1" cy="111.3" rx="2.1" ry="1.5" transform="rotate(175 316.1 111.3)" fill="#fae6a0"/><ellipse cx="320.4" cy="109.5" rx="2.5" ry="1.7" transform="rotate(66 320.4 109.5)" fill="#e4a434"/><ellipse cx="326.7" cy="111.1" rx="2.2" ry="1.4" transform="rotate(83 326.7 111.1)" fill="#c86a2a"/><ellipse cx="332.5" cy="112.2" rx="1.5" ry="1.2" transform="rotate(39 332.5 112.2)" fill="#f2cc58"/><ellipse cx="336.4" cy="111.6" rx="2.1" ry="1.9" transform="rotate(82 336.4 111.6)" fill="#f2cc58"/><ellipse cx="339.6" cy="110.5" rx="2.5" ry="1.1" transform="rotate(163 339.6 110.5)" fill="#c86a2a"/><ellipse cx="343.7" cy="111.2" rx="1.5" ry="1.2" transform="rotate(162 343.7 111.2)" fill="#f2cc58"/><ellipse cx="348.8" cy="110.5" rx="1.7" ry="1.5" transform="rotate(87 348.8 110.5)" fill="#fae6a0"/><ellipse cx="352.6" cy="112.1" rx="1.8" ry="1.8" transform="rotate(153 352.6 112.1)" fill="#fae6a0"/><ellipse cx="358.7" cy="109.8" rx="1.9" ry="1.5" transform="rotate(98 358.7 109.8)" fill="#c86a2a"/><ellipse cx="362.4" cy="107.9" rx="1.5" ry="1.7" transform="rotate(20 362.4 107.9)" fill="#e4a434"/><ellipse cx="366.3" cy="109.5" rx="1.5" ry="1.6" transform="rotate(66 366.3 109.5)" fill="#e4a434"/><ellipse cx="371.6" cy="110.6" rx="2.5" ry="1.6" transform="rotate(106 371.6 110.6)" fill="#f2cc58"/><ellipse cx="376.1" cy="110.5" rx="2.1" ry="1.4" transform="rotate(73 376.1 110.5)" fill="#c86a2a"/><ellipse cx="380.8" cy="110.4" rx="2.4" ry="1.4" transform="rotate(129 380.8 110.4)" fill="#ecb83c"/><ellipse cx="384.7" cy="112.3" rx="1.4" ry="1.6" transform="rotate(18 384.7 112.3)" fill="#d88a30"/><ellipse cx="387.8" cy="110.8" rx="1.8" ry="1.7" transform="rotate(49 387.8 110.8)" fill="#e4a434"/><ellipse cx="394.8" cy="111.2" rx="1.5" ry="1.4" transform="rotate(180 394.8 111.2)" fill="#ecb83c"/><ellipse cx="397.3" cy="110.4" rx="1.4" ry="1.8" transform="rotate(166 397.3 110.4)" fill="#fae6a0"/><ellipse cx="402.3" cy="111.7" rx="1.7" ry="1.8" transform="rotate(105 402.3 111.7)" fill="#d88a30"/><ellipse cx="323.6" cy="116.9" rx="1.5" ry="1.2" transform="rotate(67 323.6 116.9)" fill="#fae6a0"/><ellipse cx="327.9" cy="114.5" rx="1.5" ry="1.8" transform="rotate(129 327.9 114.5)" fill="#c86a2a"/><ellipse cx="333.8" cy="114.9" rx="1.6" ry="1.6" transform="rotate(85 333.8 114.9)" fill="#ecb83c"/><ellipse cx="337.0" cy="115.9" rx="1.5" ry="1.6" transform="rotate(96 337.0 115.9)" fill="#fae6a0"/><ellipse cx="341.5" cy="116.0" rx="1.9" ry="1.4" transform="rotate(31 341.5 116.0)" fill="#f2cc58"/><ellipse cx="346.7" cy="115.5" rx="2.4" ry="1.3" transform="rotate(48 346.7 115.5)" fill="#fae6a0"/><ellipse cx="350.8" cy="114.9" rx="2.0" ry="1.4" transform="rotate(5 350.8 114.9)" fill="#e4a434"/><ellipse cx="356.8" cy="115.0" rx="2.3" ry="1.2" transform="rotate(132 356.8 115.0)" fill="#ecb83c"/><ellipse cx="359.0" cy="115.5" rx="1.9" ry="1.3" transform="rotate(133 359.0 115.5)" fill="#c86a2a"/><ellipse cx="363.8" cy="115.1" rx="1.7" ry="1.4" transform="rotate(62 363.8 115.1)" fill="#fae6a0"/><ellipse cx="368.6" cy="115.2" rx="1.5" ry="1.1" transform="rotate(146 368.6 115.2)" fill="#c86a2a"/><ellipse cx="374.8" cy="114.7" rx="2.4" ry="1.6" transform="rotate(177 374.8 114.7)" fill="#f2cc58"/><ellipse cx="378.7" cy="114.6" rx="1.5" ry="1.6" transform="rotate(19 378.7 114.6)" fill="#d88a30"/><ellipse cx="382.6" cy="115.6" rx="1.8" ry="1.5" transform="rotate(50 382.6 115.6)" fill="#e4a434"/><ellipse cx="386.6" cy="113.8" rx="1.7" ry="1.3" transform="rotate(45 386.6 113.8)" fill="#c86a2a"/><ellipse cx="390.8" cy="114.8" rx="1.8" ry="1.8" transform="rotate(4 390.8 114.8)" fill="#c86a2a"/><ellipse cx="395.9" cy="114.6" rx="1.4" ry="1.6" transform="rotate(129 395.9 114.6)" fill="#e4a434"/><ellipse cx="401.3" cy="114.9" rx="2.5" ry="1.7" transform="rotate(94 401.3 114.9)" fill="#c86a2a"/><ellipse cx="403.5" cy="115.7" rx="1.5" ry="1.6" transform="rotate(13 403.5 115.7)" fill="#ecb83c"/><ellipse cx="297.2" cy="119.0" rx="1.5" ry="1.7" transform="rotate(138 297.2 119.0)" fill="#d88a30"/><ellipse cx="321.7" cy="119.7" rx="1.9" ry="1.4" transform="rotate(82 321.7 119.7)" fill="#fae6a0"/><ellipse cx="326.1" cy="118.0" rx="1.9" ry="1.5" transform="rotate(128 326.1 118.0)" fill="#e4a434"/><ellipse cx="330.4" cy="119.6" rx="1.5" ry="1.8" transform="rotate(56 330.4 119.6)" fill="#fae6a0"/><ellipse cx="335.3" cy="118.6" rx="2.0" ry="1.3" transform="rotate(179 335.3 118.6)" fill="#ecb83c"/><ellipse cx="341.9" cy="119.6" rx="2.0" ry="1.4" transform="rotate(36 341.9 119.6)" fill="#e4a434"/><ellipse cx="343.0" cy="118.1" rx="1.9" ry="1.6" transform="rotate(80 343.0 118.1)" fill="#e4a434"/><ellipse cx="349.5" cy="120.0" rx="1.5" ry="1.4" transform="rotate(15 349.5 120.0)" fill="#d88a30"/><ellipse cx="353.1" cy="119.3" rx="1.4" ry="1.3" transform="rotate(124 353.1 119.3)" fill="#e4a434"/><ellipse cx="360.4" cy="119.1" rx="1.6" ry="1.7" transform="rotate(125 360.4 119.1)" fill="#fae6a0"/><ellipse cx="361.5" cy="118.8" rx="1.5" ry="1.8" transform="rotate(78 361.5 118.8)" fill="#e4a434"/><ellipse cx="367.2" cy="120.1" rx="1.5" ry="1.7" transform="rotate(8 367.2 120.1)" fill="#f2cc58"/><ellipse cx="371.5" cy="118.2" rx="1.7" ry="1.1" transform="rotate(152 371.5 118.2)" fill="#ecb83c"/><ellipse cx="376.6" cy="118.1" rx="1.5" ry="1.7" transform="rotate(160 376.6 118.1)" fill="#d88a30"/><ellipse cx="380.6" cy="120.1" rx="2.1" ry="1.2" transform="rotate(31 380.6 120.1)" fill="#d88a30"/><ellipse cx="384.5" cy="119.6" rx="1.4" ry="1.5" transform="rotate(36 384.5 119.6)" fill="#d88a30"/><ellipse cx="389.7" cy="119.8" rx="2.2" ry="1.1" transform="rotate(6 389.7 119.8)" fill="#d88a30"/><ellipse cx="392.3" cy="119.5" rx="2.2" ry="1.5" transform="rotate(132 392.3 119.5)" fill="#c86a2a"/><ellipse cx="400.4" cy="118.7" rx="2.3" ry="1.6" transform="rotate(60 400.4 118.7)" fill="#d88a30"/><ellipse cx="404.0" cy="118.5" rx="2.3" ry="1.2" transform="rotate(63 404.0 118.5)" fill="#e4a434"/><ellipse cx="323.6" cy="123.9" rx="1.5" ry="1.8" transform="rotate(134 323.6 123.9)" fill="#fae6a0"/><ellipse cx="329.8" cy="123.2" rx="2.1" ry="1.7" transform="rotate(153 329.8 123.2)" fill="#c86a2a"/><ellipse cx="332.3" cy="123.6" rx="1.9" ry="1.8" transform="rotate(60 332.3 123.6)" fill="#c86a2a"/><ellipse cx="338.0" cy="123.7" rx="1.9" ry="1.2" transform="rotate(112 338.0 123.7)" fill="#e4a434"/><ellipse cx="344.9" cy="122.7" rx="2.5" ry="1.6" transform="rotate(19 344.9 122.7)" fill="#ecb83c"/><ellipse cx="348.5" cy="121.7" rx="1.6" ry="1.4" transform="rotate(161 348.5 121.7)" fill="#c86a2a"/><ellipse cx="350.9" cy="123.8" rx="2.3" ry="1.6" transform="rotate(162 350.9 123.8)" fill="#ecb83c"/><ellipse cx="355.2" cy="123.8" rx="2.3" ry="1.1" transform="rotate(70 355.2 123.8)" fill="#e4a434"/><ellipse cx="361.6" cy="124.2" rx="2.2" ry="1.2" transform="rotate(179 361.6 124.2)" fill="#d88a30"/><ellipse cx="364.4" cy="122.8" rx="2.0" ry="1.1" transform="rotate(53 364.4 122.8)" fill="#f2cc58"/><ellipse cx="370.5" cy="122.7" rx="1.9" ry="1.2" transform="rotate(14 370.5 122.7)" fill="#ecb83c"/><ellipse cx="374.1" cy="121.4" rx="2.2" ry="1.2" transform="rotate(31 374.1 121.4)" fill="#ecb83c"/><ellipse cx="379.7" cy="122.3" rx="1.9" ry="1.3" transform="rotate(22 379.7 122.3)" fill="#f2cc58"/><ellipse cx="383.5" cy="123.8" rx="1.6" ry="1.6" transform="rotate(162 383.5 123.8)" fill="#e4a434"/><ellipse cx="387.6" cy="123.2" rx="2.1" ry="1.2" transform="rotate(63 387.6 123.2)" fill="#fae6a0"/><ellipse cx="391.8" cy="124.0" rx="2.1" ry="1.3" transform="rotate(146 391.8 124.0)" fill="#d88a30"/><ellipse cx="397.5" cy="123.3" rx="2.5" ry="1.5" transform="rotate(43 397.5 123.3)" fill="#c86a2a"/><ellipse cx="401.0" cy="122.7" rx="2.3" ry="1.3" transform="rotate(169 401.0 122.7)" fill="#fae6a0"/><ellipse cx="406.0" cy="123.5" rx="1.8" ry="1.7" transform="rotate(67 406.0 123.5)" fill="#ecb83c"/><ellipse cx="299.9" cy="126.4" rx="1.7" ry="1.6" transform="rotate(92 299.9 126.4)" fill="#ecb83c"/><ellipse cx="305.2" cy="127.4" rx="1.4" ry="1.7" transform="rotate(53 305.2 127.4)" fill="#f2cc58"/><ellipse cx="309.3" cy="127.4" rx="2.1" ry="1.9" transform="rotate(129 309.3 127.4)" fill="#fae6a0"/><ellipse cx="313.3" cy="126.2" rx="2.2" ry="1.3" transform="rotate(138 313.3 126.2)" fill="#ecb83c"/><ellipse cx="316.6" cy="126.9" rx="2.4" ry="1.3" transform="rotate(63 316.6 126.9)" fill="#ecb83c"/><ellipse cx="323.7" cy="127.6" rx="2.4" ry="1.6" transform="rotate(168 323.7 127.6)" fill="#fae6a0"/><ellipse cx="325.8" cy="127.1" rx="2.2" ry="1.5" transform="rotate(143 325.8 127.1)" fill="#e4a434"/><ellipse cx="331.5" cy="126.8" rx="2.0" ry="1.8" transform="rotate(4 331.5 126.8)" fill="#ecb83c"/><ellipse cx="335.9" cy="127.3" rx="1.5" ry="1.4" transform="rotate(128 335.9 127.3)" fill="#d88a30"/><ellipse cx="340.4" cy="127.0" rx="2.0" ry="1.5" transform="rotate(19 340.4 127.0)" fill="#ecb83c"/><ellipse cx="343.3" cy="127.5" rx="1.4" ry="1.7" transform="rotate(82 343.3 127.5)" fill="#e4a434"/><ellipse cx="347.9" cy="125.1" rx="2.0" ry="1.5" transform="rotate(64 347.9 125.1)" fill="#ecb83c"/><ellipse cx="354.9" cy="128.2" rx="1.8" ry="1.1" transform="rotate(12 354.9 128.2)" fill="#fae6a0"/><ellipse cx="355.4" cy="127.2" rx="2.1" ry="1.8" transform="rotate(63 355.4 127.2)" fill="#e4a434"/><ellipse cx="362.0" cy="127.7" rx="2.3" ry="1.5" transform="rotate(63 362.0 127.7)" fill="#c86a2a"/><ellipse cx="369.0" cy="126.2" rx="2.2" ry="1.8" transform="rotate(89 369.0 126.2)" fill="#ecb83c"/><ellipse cx="371.5" cy="127.2" rx="1.7" ry="1.3" transform="rotate(116 371.5 127.2)" fill="#fae6a0"/><ellipse cx="374.5" cy="126.2" rx="1.5" ry="1.4" transform="rotate(81 374.5 126.2)" fill="#f2cc58"/><ellipse cx="380.0" cy="129.2" rx="2.3" ry="1.5" transform="rotate(44 380.0 129.2)" fill="#c86a2a"/><ellipse cx="385.9" cy="127.9" rx="2.2" ry="1.8" transform="rotate(75 385.9 127.9)" fill="#d88a30"/><ellipse cx="390.0" cy="126.4" rx="2.2" ry="1.6" transform="rotate(57 390.0 126.4)" fill="#f2cc58"/><ellipse cx="392.3" cy="126.1" rx="2.1" ry="1.2" transform="rotate(83 392.3 126.1)" fill="#d88a30"/><ellipse cx="397.2" cy="127.5" rx="1.5" ry="1.5" transform="rotate(128 397.2 127.5)" fill="#c86a2a"/><ellipse cx="401.9" cy="125.8" rx="2.3" ry="1.5" transform="rotate(178 401.9 125.8)" fill="#fae6a0"/><ellipse cx="300.9" cy="130.1" rx="1.6" ry="1.3" transform="rotate(165 300.9 130.1)" fill="#c86a2a"/><ellipse cx="305.3" cy="132.2" rx="1.6" ry="1.2" transform="rotate(44 305.3 132.2)" fill="#f2cc58"/><ellipse cx="311.2" cy="130.1" rx="2.0" ry="1.7" transform="rotate(41 311.2 130.1)" fill="#ecb83c"/><ellipse cx="314.0" cy="129.8" rx="2.2" ry="1.8" transform="rotate(37 314.0 129.8)" fill="#e4a434"/><ellipse cx="321.3" cy="130.1" rx="1.6" ry="1.4" transform="rotate(34 321.3 130.1)" fill="#f2cc58"/><ellipse cx="324.1" cy="130.8" rx="1.9" ry="1.5" transform="rotate(151 324.1 130.8)" fill="#c86a2a"/><ellipse cx="328.6" cy="131.9" rx="1.9" ry="1.8" transform="rotate(131 328.6 131.9)" fill="#e4a434"/><ellipse cx="334.6" cy="130.4" rx="2.1" ry="1.7" transform="rotate(161 334.6 130.4)" fill="#c86a2a"/><ellipse cx="338.2" cy="133.6" rx="1.9" ry="1.2" transform="rotate(17 338.2 133.6)" fill="#fae6a0"/><ellipse cx="341.4" cy="130.7" rx="2.2" ry="1.4" transform="rotate(41 341.4 130.7)" fill="#c86a2a"/><ellipse cx="346.1" cy="131.0" rx="2.3" ry="1.5" transform="rotate(21 346.1 131.0)" fill="#f2cc58"/><ellipse cx="351.3" cy="129.7" rx="2.2" ry="1.1" transform="rotate(33 351.3 129.7)" fill="#c86a2a"/><ellipse cx="355.8" cy="130.7" rx="1.6" ry="1.1" transform="rotate(14 355.8 130.7)" fill="#e4a434"/><ellipse cx="361.9" cy="130.5" rx="1.9" ry="1.6" transform="rotate(62 361.9 130.5)" fill="#ecb83c"/><ellipse cx="363.8" cy="128.9" rx="1.8" ry="1.6" transform="rotate(140 363.8 128.9)" fill="#d88a30"/><ellipse cx="370.0" cy="131.1" rx="2.4" ry="1.2" transform="rotate(108 370.0 131.1)" fill="#d88a30"/><ellipse cx="373.2" cy="131.1" rx="1.6" ry="1.5" transform="rotate(161 373.2 131.1)" fill="#fae6a0"/><ellipse cx="379.2" cy="132.1" rx="1.8" ry="1.9" transform="rotate(131 379.2 132.1)" fill="#e4a434"/><ellipse cx="383.8" cy="131.1" rx="1.8" ry="1.9" transform="rotate(147 383.8 131.1)" fill="#f2cc58"/><ellipse cx="387.5" cy="130.0" rx="2.2" ry="1.6" transform="rotate(83 387.5 130.0)" fill="#fae6a0"/><ellipse cx="392.1" cy="131.6" rx="1.7" ry="1.3" transform="rotate(161 392.1 131.6)" fill="#f2cc58"/><ellipse cx="396.3" cy="130.9" rx="2.2" ry="1.2" transform="rotate(165 396.3 130.9)" fill="#c86a2a"/><ellipse cx="401.4" cy="130.7" rx="2.1" ry="1.8" transform="rotate(150 401.4 130.7)" fill="#ecb83c"/><ellipse cx="403.7" cy="130.5" rx="2.2" ry="1.7" transform="rotate(118 403.7 130.5)" fill="#e4a434"/><ellipse cx="298.0" cy="134.3" rx="1.7" ry="1.1" transform="rotate(35 298.0 134.3)" fill="#fae6a0"/><ellipse cx="303.9" cy="135.1" rx="2.5" ry="1.2" transform="rotate(58 303.9 135.1)" fill="#e4a434"/><ellipse cx="306.0" cy="136.2" rx="1.7" ry="1.5" transform="rotate(175 306.0 136.2)" fill="#e4a434"/><ellipse cx="314.8" cy="133.0" rx="2.3" ry="1.4" transform="rotate(14 314.8 133.0)" fill="#e4a434"/><ellipse cx="317.2" cy="134.8" rx="1.7" ry="1.3" transform="rotate(163 317.2 134.8)" fill="#fae6a0"/><ellipse cx="321.8" cy="135.1" rx="1.7" ry="1.7" transform="rotate(16 321.8 135.1)" fill="#ecb83c"/><ellipse cx="327.7" cy="134.4" rx="2.5" ry="1.4" transform="rotate(154 327.7 134.4)" fill="#fae6a0"/><ellipse cx="332.6" cy="134.0" rx="2.1" ry="1.2" transform="rotate(99 332.6 134.0)" fill="#c86a2a"/><ellipse cx="336.2" cy="134.4" rx="1.9" ry="1.2" transform="rotate(145 336.2 134.4)" fill="#e4a434"/><ellipse cx="339.8" cy="135.6" rx="2.2" ry="1.1" transform="rotate(54 339.8 135.6)" fill="#f2cc58"/><ellipse cx="343.3" cy="135.2" rx="2.3" ry="1.3" transform="rotate(177 343.3 135.2)" fill="#d88a30"/><ellipse cx="347.2" cy="134.6" rx="1.4" ry="1.8" transform="rotate(101 347.2 134.6)" fill="#f2cc58"/><ellipse cx="353.7" cy="135.1" rx="1.9" ry="1.3" transform="rotate(7 353.7 135.1)" fill="#e4a434"/><ellipse cx="358.1" cy="133.3" rx="1.5" ry="1.7" transform="rotate(3 358.1 133.3)" fill="#fae6a0"/><ellipse cx="362.6" cy="136.5" rx="1.9" ry="1.3" transform="rotate(94 362.6 136.5)" fill="#f2cc58"/><ellipse cx="368.3" cy="133.8" rx="2.1" ry="1.4" transform="rotate(74 368.3 133.8)" fill="#e4a434"/><ellipse cx="371.7" cy="134.7" rx="2.5" ry="1.6" transform="rotate(17 371.7 134.7)" fill="#d88a30"/><ellipse cx="373.5" cy="136.4" rx="2.1" ry="1.7" transform="rotate(112 373.5 136.4)" fill="#ecb83c"/><ellipse cx="380.7" cy="133.5" rx="1.7" ry="1.5" transform="rotate(157 380.7 133.5)" fill="#e4a434"/><ellipse cx="383.9" cy="135.8" rx="1.9" ry="1.8" transform="rotate(49 383.9 135.8)" fill="#fae6a0"/><ellipse cx="388.9" cy="136.5" rx="1.8" ry="1.8" transform="rotate(17 388.9 136.5)" fill="#f2cc58"/><ellipse cx="394.7" cy="135.8" rx="2.2" ry="1.3" transform="rotate(125 394.7 135.8)" fill="#d88a30"/><ellipse cx="401.3" cy="134.7" rx="2.0" ry="1.2" transform="rotate(67 401.3 134.7)" fill="#ecb83c"/><ellipse cx="401.5" cy="135.4" rx="1.7" ry="1.7" transform="rotate(177 401.5 135.4)" fill="#fae6a0"/><ellipse cx="301.4" cy="139.9" rx="1.6" ry="1.2" transform="rotate(110 301.4 139.9)" fill="#e4a434"/><ellipse cx="306.0" cy="137.7" rx="1.4" ry="1.3" transform="rotate(6 306.0 137.7)" fill="#f2cc58"/><ellipse cx="311.8" cy="139.4" rx="1.5" ry="1.8" transform="rotate(109 311.8 139.4)" fill="#d88a30"/><ellipse cx="314.4" cy="140.5" rx="1.6" ry="1.4" transform="rotate(167 314.4 140.5)" fill="#fae6a0"/><ellipse cx="319.1" cy="140.6" rx="2.2" ry="1.4" transform="rotate(96 319.1 140.6)" fill="#d88a30"/><ellipse cx="325.6" cy="137.7" rx="2.4" ry="1.3" transform="rotate(67 325.6 137.7)" fill="#f2cc58"/><ellipse cx="331.8" cy="138.6" rx="1.5" ry="1.7" transform="rotate(173 331.8 138.6)" fill="#e4a434"/><ellipse cx="333.6" cy="138.9" rx="1.5" ry="1.3" transform="rotate(92 333.6 138.9)" fill="#d88a30"/><ellipse cx="336.2" cy="138.1" rx="2.4" ry="1.2" transform="rotate(23 336.2 138.1)" fill="#d88a30"/><ellipse cx="341.5" cy="138.8" rx="2.3" ry="1.5" transform="rotate(30 341.5 138.8)" fill="#ecb83c"/><ellipse cx="346.2" cy="138.0" rx="1.6" ry="1.3" transform="rotate(152 346.2 138.0)" fill="#f2cc58"/><ellipse cx="352.7" cy="137.6" rx="2.2" ry="1.3" transform="rotate(6 352.7 137.6)" fill="#e4a434"/><ellipse cx="356.5" cy="140.3" rx="2.4" ry="1.4" transform="rotate(61 356.5 140.3)" fill="#c86a2a"/><ellipse cx="359.7" cy="139.1" rx="2.5" ry="1.5" transform="rotate(103 359.7 139.1)" fill="#d88a30"/><ellipse cx="365.0" cy="138.1" rx="1.7" ry="1.6" transform="rotate(178 365.0 138.1)" fill="#e4a434"/><ellipse cx="368.5" cy="139.5" rx="1.5" ry="1.9" transform="rotate(171 368.5 139.5)" fill="#e4a434"/><ellipse cx="371.8" cy="140.1" rx="1.4" ry="1.8" transform="rotate(20 371.8 140.1)" fill="#fae6a0"/><ellipse cx="376.9" cy="137.4" rx="1.4" ry="1.4" transform="rotate(12 376.9 137.4)" fill="#fae6a0"/><ellipse cx="383.0" cy="138.1" rx="1.9" ry="1.6" transform="rotate(92 383.0 138.1)" fill="#fae6a0"/><ellipse cx="387.9" cy="138.2" rx="1.7" ry="1.7" transform="rotate(133 387.9 138.2)" fill="#e4a434"/><ellipse cx="391.3" cy="139.4" rx="2.3" ry="1.9" transform="rotate(36 391.3 139.4)" fill="#ecb83c"/><ellipse cx="396.3" cy="138.6" rx="2.4" ry="1.3" transform="rotate(119 396.3 138.6)" fill="#ecb83c"/><ellipse cx="402.2" cy="140.3" rx="1.6" ry="1.1" transform="rotate(122 402.2 140.3)" fill="#fae6a0"/><ellipse cx="403.8" cy="138.9" rx="2.5" ry="1.5" transform="rotate(58 403.8 138.9)" fill="#d88a30"/><ellipse cx="300.8" cy="142.7" rx="1.4" ry="1.5" transform="rotate(178 300.8 142.7)" fill="#f2cc58"/><ellipse cx="305.7" cy="143.5" rx="1.4" ry="1.7" transform="rotate(149 305.7 143.5)" fill="#c86a2a"/><ellipse cx="306.6" cy="142.3" rx="2.0" ry="1.5" transform="rotate(69 306.6 142.3)" fill="#fae6a0"/><ellipse cx="314.5" cy="142.9" rx="1.6" ry="1.2" transform="rotate(87 314.5 142.9)" fill="#fae6a0"/><ellipse cx="318.2" cy="144.0" rx="1.7" ry="1.4" transform="rotate(86 318.2 144.0)" fill="#d88a30"/><ellipse cx="322.0" cy="143.6" rx="2.0" ry="1.5" transform="rotate(57 322.0 143.6)" fill="#c86a2a"/><ellipse cx="327.2" cy="143.4" rx="1.7" ry="1.4" transform="rotate(61 327.2 143.4)" fill="#e4a434"/><ellipse cx="332.3" cy="143.6" rx="1.5" ry="1.4" transform="rotate(128 332.3 143.6)" fill="#e4a434"/><ellipse cx="334.7" cy="143.2" rx="1.7" ry="1.4" transform="rotate(150 334.7 143.2)" fill="#e4a434"/><ellipse cx="338.8" cy="143.7" rx="2.0" ry="1.9" transform="rotate(102 338.8 143.7)" fill="#f2cc58"/><ellipse cx="344.3" cy="144.3" rx="1.9" ry="1.8" transform="rotate(177 344.3 144.3)" fill="#ecb83c"/><ellipse cx="350.4" cy="143.4" rx="2.3" ry="1.2" transform="rotate(7 350.4 143.4)" fill="#d88a30"/><ellipse cx="351.8" cy="143.3" rx="1.6" ry="1.6" transform="rotate(6 351.8 143.3)" fill="#fae6a0"/><ellipse cx="358.6" cy="143.5" rx="1.8" ry="1.5" transform="rotate(172 358.6 143.5)" fill="#f2cc58"/><ellipse cx="363.2" cy="142.9" rx="2.5" ry="1.2" transform="rotate(160 363.2 142.9)" fill="#d88a30"/><ellipse cx="365.6" cy="143.4" rx="1.5" ry="1.7" transform="rotate(119 365.6 143.4)" fill="#e4a434"/><ellipse cx="372.2" cy="143.5" rx="2.0" ry="1.5" transform="rotate(85 372.2 143.5)" fill="#d88a30"/><ellipse cx="374.9" cy="143.6" rx="1.5" ry="1.3" transform="rotate(70 374.9 143.6)" fill="#f2cc58"/><ellipse cx="381.3" cy="143.6" rx="2.0" ry="1.3" transform="rotate(160 381.3 143.6)" fill="#c86a2a"/><ellipse cx="386.2" cy="142.9" rx="1.7" ry="1.9" transform="rotate(15 386.2 142.9)" fill="#c86a2a"/><ellipse cx="389.6" cy="144.1" rx="1.7" ry="1.4" transform="rotate(134 389.6 144.1)" fill="#ecb83c"/><ellipse cx="395.1" cy="142.8" rx="2.0" ry="1.2" transform="rotate(22 395.1 142.8)" fill="#e4a434"/><ellipse cx="398.3" cy="144.5" rx="1.9" ry="1.9" transform="rotate(105 398.3 144.5)" fill="#c86a2a"/><ellipse cx="401.9" cy="144.2" rx="2.2" ry="1.7" transform="rotate(58 401.9 144.2)" fill="#f2cc58"/><ellipse cx="302.8" cy="148.2" rx="1.6" ry="1.6" transform="rotate(128 302.8 148.2)" fill="#ecb83c"/><ellipse cx="307.3" cy="145.6" rx="1.5" ry="1.4" transform="rotate(98 307.3 145.6)" fill="#c86a2a"/><ellipse cx="309.6" cy="147.4" rx="1.5" ry="1.3" transform="rotate(32 309.6 147.4)" fill="#d88a30"/><ellipse cx="313.6" cy="145.6" rx="1.5" ry="1.8" transform="rotate(125 313.6 145.6)" fill="#ecb83c"/><ellipse cx="319.0" cy="146.8" rx="2.0" ry="1.3" transform="rotate(102 319.0 146.8)" fill="#e4a434"/><ellipse cx="323.4" cy="148.1" rx="2.1" ry="1.5" transform="rotate(15 323.4 148.1)" fill="#fae6a0"/><ellipse cx="328.7" cy="146.2" rx="1.5" ry="1.1" transform="rotate(110 328.7 146.2)" fill="#c86a2a"/><ellipse cx="332.7" cy="147.3" rx="2.3" ry="1.7" transform="rotate(113 332.7 147.3)" fill="#ecb83c"/><ellipse cx="337.2" cy="147.1" rx="2.4" ry="1.4" transform="rotate(12 337.2 147.1)" fill="#f2cc58"/><ellipse cx="341.6" cy="146.5" rx="1.7" ry="1.2" transform="rotate(28 341.6 146.5)" fill="#ecb83c"/><ellipse cx="346.4" cy="148.4" rx="2.2" ry="1.8" transform="rotate(124 346.4 148.4)" fill="#ecb83c"/><ellipse cx="351.3" cy="146.6" rx="2.2" ry="1.6" transform="rotate(107 351.3 146.6)" fill="#e4a434"/><ellipse cx="356.0" cy="145.5" rx="1.9" ry="1.7" transform="rotate(105 356.0 145.5)" fill="#fae6a0"/><ellipse cx="361.5" cy="148.8" rx="1.5" ry="1.8" transform="rotate(49 361.5 148.8)" fill="#e4a434"/><ellipse cx="364.9" cy="147.9" rx="2.5" ry="1.5" transform="rotate(42 364.9 147.9)" fill="#fae6a0"/><ellipse cx="370.9" cy="147.0" rx="1.6" ry="1.8" transform="rotate(151 370.9 147.0)" fill="#fae6a0"/><ellipse cx="374.6" cy="147.8" rx="2.2" ry="1.3" transform="rotate(133 374.6 147.8)" fill="#fae6a0"/><ellipse cx="377.8" cy="148.9" rx="1.7" ry="1.3" transform="rotate(43 377.8 148.9)" fill="#d88a30"/><ellipse cx="383.3" cy="147.1" rx="1.7" ry="1.4" transform="rotate(174 383.3 147.1)" fill="#e4a434"/><ellipse cx="387.7" cy="148.7" rx="2.3" ry="1.5" transform="rotate(147 387.7 148.7)" fill="#e4a434"/><ellipse cx="392.4" cy="147.7" rx="2.4" ry="1.2" transform="rotate(143 392.4 147.7)" fill="#e4a434"/><ellipse cx="397.6" cy="147.7" rx="2.4" ry="1.8" transform="rotate(111 397.6 147.7)" fill="#f2cc58"/><ellipse cx="403.2" cy="147.2" rx="1.8" ry="1.3" transform="rotate(6 403.2 147.2)" fill="#ecb83c"/><ellipse cx="404.6" cy="147.5" rx="2.0" ry="1.8" transform="rotate(57 404.6 147.5)" fill="#f2cc58"/><ellipse cx="299.5" cy="150.2" rx="2.1" ry="1.6" transform="rotate(179 299.5 150.2)" fill="#f2cc58"/><ellipse cx="305.6" cy="152.1" rx="2.4" ry="1.1" transform="rotate(76 305.6 152.1)" fill="#fae6a0"/><ellipse cx="309.1" cy="152.9" rx="2.2" ry="1.1" transform="rotate(61 309.1 152.9)" fill="#ecb83c"/><ellipse cx="312.2" cy="149.5" rx="1.8" ry="1.6" transform="rotate(91 312.2 149.5)" fill="#c86a2a"/><ellipse cx="316.7" cy="151.8" rx="1.8" ry="1.8" transform="rotate(109 316.7 151.8)" fill="#f2cc58"/><ellipse cx="322.0" cy="151.7" rx="2.2" ry="1.2" transform="rotate(57 322.0 151.7)" fill="#e4a434"/><ellipse cx="326.0" cy="153.1" rx="1.7" ry="1.4" transform="rotate(20 326.0 153.1)" fill="#f2cc58"/><ellipse cx="330.9" cy="151.7" rx="1.7" ry="1.5" transform="rotate(146 330.9 151.7)" fill="#ecb83c"/><ellipse cx="334.0" cy="151.4" rx="2.1" ry="1.9" transform="rotate(118 334.0 151.4)" fill="#c86a2a"/><ellipse cx="340.9" cy="152.0" rx="2.3" ry="1.8" transform="rotate(96 340.9 152.0)" fill="#f2cc58"/><ellipse cx="344.2" cy="152.6" rx="2.4" ry="1.1" transform="rotate(11 344.2 152.6)" fill="#ecb83c"/><ellipse cx="350.4" cy="150.4" rx="2.4" ry="1.7" transform="rotate(164 350.4 150.4)" fill="#fae6a0"/><ellipse cx="353.7" cy="151.9" rx="2.0" ry="1.6" transform="rotate(142 353.7 151.9)" fill="#e4a434"/><ellipse cx="355.4" cy="153.5" rx="1.9" ry="1.8" transform="rotate(163 355.4 153.5)" fill="#ecb83c"/><ellipse cx="361.7" cy="153.3" rx="2.0" ry="1.6" transform="rotate(15 361.7 153.3)" fill="#ecb83c"/><ellipse cx="369.1" cy="151.5" rx="1.7" ry="1.2" transform="rotate(153 369.1 151.5)" fill="#d88a30"/><ellipse cx="372.4" cy="149.6" rx="1.8" ry="1.8" transform="rotate(117 372.4 149.6)" fill="#c86a2a"/><ellipse cx="376.5" cy="150.2" rx="2.3" ry="1.6" transform="rotate(26 376.5 150.2)" fill="#c86a2a"/><ellipse cx="382.4" cy="150.2" rx="2.3" ry="1.6" transform="rotate(53 382.4 150.2)" fill="#c86a2a"/><ellipse cx="385.8" cy="152.1" rx="1.5" ry="1.7" transform="rotate(93 385.8 152.1)" fill="#f2cc58"/><ellipse cx="389.3" cy="151.4" rx="1.8" ry="1.5" transform="rotate(103 389.3 151.4)" fill="#ecb83c"/><ellipse cx="394.8" cy="151.8" rx="1.6" ry="1.9" transform="rotate(164 394.8 151.8)" fill="#d88a30"/><ellipse cx="398.2" cy="151.2" rx="2.4" ry="1.5" transform="rotate(97 398.2 151.2)" fill="#f2cc58"/><ellipse cx="402.2" cy="150.3" rx="1.6" ry="1.2" transform="rotate(29 402.2 150.3)" fill="#fae6a0"/><ellipse cx="301.7" cy="154.8" rx="2.1" ry="1.1" transform="rotate(136 301.7 154.8)" fill="#fae6a0"/><ellipse cx="306.4" cy="155.3" rx="1.7" ry="1.4" transform="rotate(57 306.4 155.3)" fill="#e4a434"/><ellipse cx="310.1" cy="154.4" rx="2.1" ry="1.4" transform="rotate(173 310.1 154.4)" fill="#d88a30"/><ellipse cx="315.2" cy="157.3" rx="2.2" ry="1.9" transform="rotate(6 315.2 157.3)" fill="#fae6a0"/><ellipse cx="320.3" cy="153.7" rx="1.6" ry="1.8" transform="rotate(156 320.3 153.7)" fill="#d88a30"/><ellipse cx="324.8" cy="155.2" rx="2.2" ry="1.1" transform="rotate(118 324.8 155.2)" fill="#e4a434"/><ellipse cx="329.8" cy="156.3" rx="2.3" ry="1.2" transform="rotate(97 329.8 156.3)" fill="#e4a434"/><ellipse cx="332.3" cy="155.5" rx="1.4" ry="1.2" transform="rotate(172 332.3 155.5)" fill="#f2cc58"/><ellipse cx="337.6" cy="155.1" rx="2.0" ry="1.8" transform="rotate(87 337.6 155.1)" fill="#c86a2a"/><ellipse cx="342.0" cy="155.4" rx="2.3" ry="1.9" transform="rotate(138 342.0 155.4)" fill="#f2cc58"/><ellipse cx="347.1" cy="154.5" rx="2.0" ry="1.1" transform="rotate(14 347.1 154.5)" fill="#ecb83c"/><ellipse cx="350.7" cy="154.2" rx="2.5" ry="1.9" transform="rotate(168 350.7 154.2)" fill="#ecb83c"/><ellipse cx="355.1" cy="155.8" rx="2.1" ry="1.4" transform="rotate(24 355.1 155.8)" fill="#c86a2a"/><ellipse cx="358.9" cy="154.7" rx="2.2" ry="1.1" transform="rotate(88 358.9 154.7)" fill="#d88a30"/><ellipse cx="365.1" cy="156.7" rx="2.4" ry="1.3" transform="rotate(30 365.1 156.7)" fill="#f2cc58"/><ellipse cx="368.2" cy="153.5" rx="2.2" ry="1.7" transform="rotate(120 368.2 153.5)" fill="#fae6a0"/><ellipse cx="373.7" cy="155.3" rx="1.5" ry="1.2" transform="rotate(33 373.7 155.3)" fill="#c86a2a"/><ellipse cx="378.2" cy="155.2" rx="2.3" ry="1.5" transform="rotate(157 378.2 155.2)" fill="#f2cc58"/><ellipse cx="381.7" cy="154.8" rx="2.0" ry="1.7" transform="rotate(46 381.7 154.8)" fill="#c86a2a"/><ellipse cx="388.9" cy="155.8" rx="1.8" ry="1.1" transform="rotate(116 388.9 155.8)" fill="#d88a30"/><ellipse cx="389.8" cy="155.3" rx="1.6" ry="1.2" transform="rotate(0 389.8 155.3)" fill="#d88a30"/><ellipse cx="397.0" cy="153.8" rx="2.0" ry="1.3" transform="rotate(48 397.0 153.8)" fill="#e4a434"/><ellipse cx="401.1" cy="155.0" rx="1.6" ry="1.9" transform="rotate(161 401.1 155.0)" fill="#e4a434"/><ellipse cx="403.7" cy="155.1" rx="1.9" ry="1.2" transform="rotate(105 403.7 155.1)" fill="#d88a30"/><ellipse cx="298.5" cy="159.8" rx="2.2" ry="1.7" transform="rotate(24 298.5 159.8)" fill="#c86a2a"/><ellipse cx="303.5" cy="158.9" rx="2.3" ry="1.6" transform="rotate(6 303.5 158.9)" fill="#ecb83c"/><ellipse cx="308.8" cy="159.8" rx="2.5" ry="1.8" transform="rotate(136 308.8 159.8)" fill="#ecb83c"/><ellipse cx="313.2" cy="159.9" rx="1.6" ry="1.3" transform="rotate(118 313.2 159.9)" fill="#c86a2a"/><ellipse cx="317.2" cy="158.0" rx="1.4" ry="1.7" transform="rotate(139 317.2 158.0)" fill="#fae6a0"/><ellipse cx="322.1" cy="157.8" rx="2.0" ry="1.7" transform="rotate(76 322.1 157.8)" fill="#f2cc58"/><ellipse cx="326.3" cy="160.3" rx="1.6" ry="1.3" transform="rotate(26 326.3 160.3)" fill="#c86a2a"/><ellipse cx="331.7" cy="160.5" rx="2.1" ry="1.5" transform="rotate(110 331.7 160.5)" fill="#fae6a0"/><ellipse cx="334.4" cy="160.2" rx="2.1" ry="1.5" transform="rotate(30 334.4 160.2)" fill="#fae6a0"/><ellipse cx="338.8" cy="158.2" rx="2.0" ry="1.9" transform="rotate(30 338.8 158.2)" fill="#fae6a0"/><ellipse cx="345.3" cy="158.9" rx="1.7" ry="1.7" transform="rotate(177 345.3 158.9)" fill="#fae6a0"/><ellipse cx="350.0" cy="159.2" rx="1.5" ry="1.1" transform="rotate(33 350.0 159.2)" fill="#d88a30"/><ellipse cx="354.0" cy="161.3" rx="1.9" ry="1.2" transform="rotate(99 354.0 161.3)" fill="#f2cc58"/><ellipse cx="356.6" cy="160.2" rx="2.1" ry="1.6" transform="rotate(130 356.6 160.2)" fill="#d88a30"/><ellipse cx="362.6" cy="160.1" rx="1.7" ry="1.2" transform="rotate(122 362.6 160.1)" fill="#f2cc58"/><ellipse cx="367.1" cy="159.6" rx="1.5" ry="1.3" transform="rotate(102 367.1 159.6)" fill="#c86a2a"/><ellipse cx="371.0" cy="159.6" rx="1.6" ry="1.6" transform="rotate(127 371.0 159.6)" fill="#d88a30"/><ellipse cx="375.4" cy="159.5" rx="2.2" ry="1.2" transform="rotate(152 375.4 159.5)" fill="#ecb83c"/><ellipse cx="379.8" cy="159.1" rx="1.4" ry="1.8" transform="rotate(167 379.8 159.1)" fill="#f2cc58"/><ellipse cx="385.0" cy="160.1" rx="1.6" ry="1.6" transform="rotate(16 385.0 160.1)" fill="#d88a30"/><ellipse cx="390.5" cy="160.2" rx="2.4" ry="1.2" transform="rotate(147 390.5 160.2)" fill="#ecb83c"/><ellipse cx="393.0" cy="160.6" rx="1.5" ry="1.6" transform="rotate(62 393.0 160.6)" fill="#e4a434"/><ellipse cx="399.5" cy="160.0" rx="2.1" ry="1.4" transform="rotate(85 399.5 160.0)" fill="#e4a434"/><ellipse cx="403.2" cy="159.7" rx="1.9" ry="1.5" transform="rotate(109 403.2 159.7)" fill="#e4a434"/><ellipse cx="303.3" cy="163.9" rx="1.8" ry="1.1" transform="rotate(157 303.3 163.9)" fill="#c86a2a"/><ellipse cx="305.3" cy="163.8" rx="1.7" ry="1.8" transform="rotate(61 305.3 163.8)" fill="#d88a30"/><ellipse cx="311.4" cy="162.5" rx="2.1" ry="1.4" transform="rotate(53 311.4 162.5)" fill="#ecb83c"/><ellipse cx="319.2" cy="164.0" rx="1.8" ry="1.3" transform="rotate(134 319.2 164.0)" fill="#ecb83c"/><ellipse cx="318.8" cy="164.6" rx="1.9" ry="1.6" transform="rotate(121 318.8 164.6)" fill="#c86a2a"/><ellipse cx="323.3" cy="163.9" rx="2.0" ry="1.5" transform="rotate(99 323.3 163.9)" fill="#ecb83c"/><ellipse cx="327.7" cy="163.8" rx="1.6" ry="1.3" transform="rotate(75 327.7 163.8)" fill="#e4a434"/><ellipse cx="332.1" cy="162.5" rx="2.4" ry="1.7" transform="rotate(99 332.1 162.5)" fill="#fae6a0"/><ellipse cx="337.1" cy="162.9" rx="1.7" ry="1.1" transform="rotate(48 337.1 162.9)" fill="#ecb83c"/><ellipse cx="342.7" cy="163.0" rx="2.2" ry="1.1" transform="rotate(43 342.7 163.0)" fill="#c86a2a"/><ellipse cx="346.9" cy="163.0" rx="1.6" ry="1.4" transform="rotate(26 346.9 163.0)" fill="#fae6a0"/><ellipse cx="350.8" cy="163.3" rx="2.3" ry="1.8" transform="rotate(29 350.8 163.3)" fill="#fae6a0"/><ellipse cx="355.2" cy="164.0" rx="2.4" ry="1.7" transform="rotate(81 355.2 164.0)" fill="#f2cc58"/><ellipse cx="360.4" cy="165.1" rx="1.6" ry="1.4" transform="rotate(109 360.4 165.1)" fill="#f2cc58"/><ellipse cx="364.9" cy="162.8" rx="1.9" ry="1.7" transform="rotate(33 364.9 162.8)" fill="#fae6a0"/><ellipse cx="369.4" cy="162.0" rx="1.5" ry="1.8" transform="rotate(66 369.4 162.0)" fill="#e4a434"/><ellipse cx="373.4" cy="162.9" rx="1.8" ry="1.1" transform="rotate(132 373.4 162.9)" fill="#e4a434"/><ellipse cx="379.0" cy="163.8" rx="1.5" ry="1.2" transform="rotate(122 379.0 163.8)" fill="#fae6a0"/><ellipse cx="382.5" cy="163.9" rx="1.4" ry="1.4" transform="rotate(19 382.5 163.9)" fill="#d88a30"/><ellipse cx="387.5" cy="163.7" rx="2.1" ry="1.7" transform="rotate(76 387.5 163.7)" fill="#fae6a0"/><ellipse cx="393.0" cy="162.8" rx="1.6" ry="1.5" transform="rotate(132 393.0 162.8)" fill="#e4a434"/><ellipse cx="396.8" cy="164.0" rx="1.8" ry="1.7" transform="rotate(114 396.8 164.0)" fill="#f2cc58"/><ellipse cx="401.2" cy="162.7" rx="1.8" ry="1.4" transform="rotate(159 401.2 162.7)" fill="#d88a30"/><ellipse cx="406.1" cy="163.0" rx="1.9" ry="1.8" transform="rotate(70 406.1 163.0)" fill="#c86a2a"/><ellipse cx="300.3" cy="168.8" rx="2.3" ry="1.8" transform="rotate(124 300.3 168.8)" fill="#d88a30"/><ellipse cx="304.3" cy="168.3" rx="2.1" ry="1.3" transform="rotate(61 304.3 168.3)" fill="#e4a434"/><ellipse cx="308.8" cy="167.5" rx="2.2" ry="1.5" transform="rotate(54 308.8 167.5)" fill="#d88a30"/><ellipse cx="312.0" cy="168.1" rx="2.5" ry="1.5" transform="rotate(175 312.0 168.1)" fill="#ecb83c"/><ellipse cx="316.8" cy="166.5" rx="1.7" ry="1.8" transform="rotate(121 316.8 166.5)" fill="#e4a434"/><ellipse cx="322.2" cy="166.7" rx="1.5" ry="1.9" transform="rotate(20 322.2 166.7)" fill="#e4a434"/><ellipse cx="326.4" cy="167.8" rx="1.8" ry="1.7" transform="rotate(46 326.4 167.8)" fill="#ecb83c"/><ellipse cx="330.2" cy="168.5" rx="1.7" ry="1.7" transform="rotate(113 330.2 168.5)" fill="#e4a434"/><ellipse cx="334.0" cy="166.7" rx="2.4" ry="1.6" transform="rotate(159 334.0 166.7)" fill="#c86a2a"/><ellipse cx="341.7" cy="166.4" rx="1.5" ry="1.6" transform="rotate(40 341.7 166.4)" fill="#f2cc58"/><ellipse cx="345.0" cy="166.9" rx="2.3" ry="1.3" transform="rotate(163 345.0 166.9)" fill="#e4a434"/><ellipse cx="348.8" cy="167.5" rx="2.1" ry="1.8" transform="rotate(156 348.8 167.5)" fill="#e4a434"/><ellipse cx="351.9" cy="168.7" rx="2.4" ry="1.5" transform="rotate(84 351.9 168.7)" fill="#fae6a0"/><ellipse cx="359.4" cy="168.1" rx="2.4" ry="1.8" transform="rotate(18 359.4 168.1)" fill="#fae6a0"/><ellipse cx="362.8" cy="165.6" rx="2.2" ry="1.2" transform="rotate(45 362.8 165.6)" fill="#fae6a0"/><ellipse cx="368.2" cy="168.3" rx="2.2" ry="1.5" transform="rotate(176 368.2 168.3)" fill="#f2cc58"/><ellipse cx="371.7" cy="167.4" rx="1.6" ry="1.7" transform="rotate(27 371.7 167.4)" fill="#f2cc58"/><ellipse cx="377.0" cy="166.6" rx="1.8" ry="1.4" transform="rotate(58 377.0 166.6)" fill="#ecb83c"/><ellipse cx="381.6" cy="166.9" rx="2.3" ry="1.1" transform="rotate(176 381.6 166.9)" fill="#ecb83c"/><ellipse cx="386.1" cy="165.5" rx="1.7" ry="1.9" transform="rotate(57 386.1 165.5)" fill="#c86a2a"/><ellipse cx="389.6" cy="166.5" rx="2.1" ry="1.2" transform="rotate(82 389.6 166.5)" fill="#fae6a0"/><ellipse cx="392.0" cy="167.6" rx="2.0" ry="1.2" transform="rotate(108 392.0 167.6)" fill="#e4a434"/><ellipse cx="398.6" cy="168.4" rx="2.2" ry="1.5" transform="rotate(43 398.6 168.4)" fill="#e4a434"/><ellipse cx="402.4" cy="168.2" rx="2.4" ry="1.4" transform="rotate(6 402.4 168.2)" fill="#ecb83c"/><ellipse cx="300.6" cy="171.5" rx="1.7" ry="1.6" transform="rotate(177 300.6 171.5)" fill="#e4a434"/><ellipse cx="306.3" cy="172.0" rx="1.6" ry="1.1" transform="rotate(35 306.3 172.0)" fill="#d88a30"/><ellipse cx="310.9" cy="172.2" rx="1.8" ry="1.6" transform="rotate(140 310.9 172.2)" fill="#ecb83c"/><ellipse cx="314.9" cy="172.8" rx="1.7" ry="1.3" transform="rotate(107 314.9 172.8)" fill="#ecb83c"/><ellipse cx="318.7" cy="171.8" rx="1.4" ry="1.9" transform="rotate(54 318.7 171.8)" fill="#f2cc58"/><ellipse cx="323.7" cy="171.6" rx="2.3" ry="1.3" transform="rotate(16 323.7 171.6)" fill="#ecb83c"/><ellipse cx="328.4" cy="173.3" rx="2.0" ry="1.3" transform="rotate(155 328.4 173.3)" fill="#c86a2a"/><ellipse cx="332.6" cy="172.4" rx="2.0" ry="1.6" transform="rotate(122 332.6 172.4)" fill="#c86a2a"/><ellipse cx="336.7" cy="171.0" rx="1.9" ry="1.2" transform="rotate(121 336.7 171.0)" fill="#e4a434"/><ellipse cx="341.9" cy="171.6" rx="2.4" ry="1.6" transform="rotate(163 341.9 171.6)" fill="#d88a30"/><ellipse cx="346.9" cy="172.5" rx="2.0" ry="1.6" transform="rotate(39 346.9 172.5)" fill="#f2cc58"/><ellipse cx="350.9" cy="171.5" rx="1.9" ry="1.8" transform="rotate(120 350.9 171.5)" fill="#fae6a0"/><ellipse cx="356.7" cy="171.6" rx="1.7" ry="1.3" transform="rotate(170 356.7 171.6)" fill="#c86a2a"/><ellipse cx="359.6" cy="170.8" rx="2.1" ry="1.3" transform="rotate(166 359.6 170.8)" fill="#f2cc58"/><ellipse cx="364.4" cy="172.0" rx="1.8" ry="1.8" transform="rotate(138 364.4 172.0)" fill="#d88a30"/><ellipse cx="369.6" cy="171.8" rx="2.4" ry="1.6" transform="rotate(75 369.6 171.8)" fill="#f2cc58"/><ellipse cx="372.5" cy="172.9" rx="1.6" ry="1.3" transform="rotate(39 372.5 172.9)" fill="#f2cc58"/><ellipse cx="377.8" cy="170.1" rx="1.8" ry="1.8" transform="rotate(143 377.8 170.1)" fill="#d88a30"/><ellipse cx="383.6" cy="171.1" rx="2.4" ry="1.8" transform="rotate(33 383.6 171.1)" fill="#f2cc58"/><ellipse cx="386.9" cy="169.7" rx="2.2" ry="1.2" transform="rotate(44 386.9 169.7)" fill="#d88a30"/><ellipse cx="392.9" cy="169.9" rx="2.4" ry="1.2" transform="rotate(149 392.9 169.9)" fill="#f2cc58"/><ellipse cx="395.8" cy="170.9" rx="2.0" ry="1.2" transform="rotate(85 395.8 170.9)" fill="#fae6a0"/><ellipse cx="399.0" cy="171.4" rx="2.0" ry="1.7" transform="rotate(10 399.0 171.4)" fill="#d88a30"/><ellipse cx="406.0" cy="171.7" rx="2.1" ry="1.7" transform="rotate(50 406.0 171.7)" fill="#fae6a0"/><ellipse cx="300.1" cy="175.6" rx="2.3" ry="1.2" transform="rotate(151 300.1 175.6)" fill="#d88a30"/><ellipse cx="304.4" cy="176.2" rx="2.1" ry="1.2" transform="rotate(142 304.4 176.2)" fill="#ecb83c"/><ellipse cx="307.2" cy="175.5" rx="2.1" ry="1.8" transform="rotate(33 307.2 175.5)" fill="#e4a434"/><ellipse cx="314.5" cy="175.8" rx="2.1" ry="1.9" transform="rotate(176 314.5 175.8)" fill="#f2cc58"/><ellipse cx="317.8" cy="176.1" rx="2.3" ry="1.9" transform="rotate(3 317.8 176.1)" fill="#e4a434"/><ellipse cx="320.7" cy="175.0" rx="2.4" ry="1.9" transform="rotate(4 320.7 175.0)" fill="#d88a30"/><ellipse cx="324.6" cy="175.6" rx="1.5" ry="1.4" transform="rotate(5 324.6 175.6)" fill="#c86a2a"/><ellipse cx="331.5" cy="175.5" rx="1.8" ry="1.4" transform="rotate(133 331.5 175.5)" fill="#fae6a0"/><ellipse cx="334.8" cy="176.0" rx="1.7" ry="1.6" transform="rotate(163 334.8 176.0)" fill="#c86a2a"/><ellipse cx="339.2" cy="175.1" rx="2.0" ry="1.2" transform="rotate(41 339.2 175.1)" fill="#c86a2a"/><ellipse cx="344.4" cy="175.1" rx="2.4" ry="1.5" transform="rotate(31 344.4 175.1)" fill="#fae6a0"/><ellipse cx="347.9" cy="174.8" rx="2.2" ry="1.2" transform="rotate(31 347.9 174.8)" fill="#c86a2a"/><ellipse cx="352.6" cy="175.6" rx="2.3" ry="1.7" transform="rotate(157 352.6 175.6)" fill="#e4a434"/><ellipse cx="357.3" cy="176.3" rx="2.4" ry="1.2" transform="rotate(138 357.3 176.3)" fill="#ecb83c"/><ellipse cx="363.9" cy="177.1" rx="2.0" ry="1.8" transform="rotate(35 363.9 177.1)" fill="#d88a30"/><ellipse cx="367.8" cy="176.2" rx="1.6" ry="1.8" transform="rotate(51 367.8 176.2)" fill="#f2cc58"/><ellipse cx="371.5" cy="176.3" rx="1.8" ry="1.7" transform="rotate(151 371.5 176.3)" fill="#c86a2a"/><ellipse cx="375.9" cy="176.0" rx="2.0" ry="1.7" transform="rotate(129 375.9 176.0)" fill="#fae6a0"/><ellipse cx="380.7" cy="175.5" rx="2.4" ry="1.3" transform="rotate(26 380.7 175.5)" fill="#e4a434"/><ellipse cx="383.2" cy="177.2" rx="2.1" ry="1.4" transform="rotate(38 383.2 177.2)" fill="#e4a434"/><ellipse cx="388.6" cy="177.1" rx="2.0" ry="1.2" transform="rotate(28 388.6 177.1)" fill="#c86a2a"/><ellipse cx="394.6" cy="175.9" rx="1.7" ry="1.6" transform="rotate(54 394.6 175.9)" fill="#ecb83c"/><ellipse cx="397.1" cy="175.6" rx="2.4" ry="1.4" transform="rotate(20 397.1 175.6)" fill="#fae6a0"/><ellipse cx="402.8" cy="174.1" rx="1.7" ry="1.1" transform="rotate(7 402.8 174.1)" fill="#ecb83c"/><ellipse cx="301.9" cy="178.4" rx="1.9" ry="1.7" transform="rotate(124 301.9 178.4)" fill="#e4a434"/><ellipse cx="306.1" cy="179.3" rx="2.5" ry="1.2" transform="rotate(122 306.1 179.3)" fill="#f2cc58"/><ellipse cx="309.9" cy="180.0" rx="2.2" ry="1.6" transform="rotate(90 309.9 180.0)" fill="#fae6a0"/><ellipse cx="315.7" cy="181.5" rx="2.0" ry="1.3" transform="rotate(144 315.7 181.5)" fill="#f2cc58"/><ellipse cx="321.5" cy="181.7" rx="2.2" ry="1.4" transform="rotate(116 321.5 181.7)" fill="#d88a30"/><ellipse cx="323.6" cy="180.1" rx="2.1" ry="1.8" transform="rotate(76 323.6 180.1)" fill="#fae6a0"/><ellipse cx="328.5" cy="179.0" rx="1.7" ry="1.3" transform="rotate(167 328.5 179.0)" fill="#ecb83c"/><ellipse cx="332.7" cy="181.0" rx="1.8" ry="1.4" transform="rotate(48 332.7 181.0)" fill="#c86a2a"/><ellipse cx="339.5" cy="179.6" rx="1.8" ry="1.1" transform="rotate(57 339.5 179.6)" fill="#e4a434"/><ellipse cx="343.0" cy="179.8" rx="2.4" ry="1.2" transform="rotate(54 343.0 179.8)" fill="#d88a30"/><ellipse cx="345.5" cy="178.7" rx="1.5" ry="1.7" transform="rotate(0 345.5 178.7)" fill="#c86a2a"/><ellipse cx="350.7" cy="178.8" rx="2.4" ry="1.9" transform="rotate(164 350.7 178.8)" fill="#c86a2a"/><ellipse cx="354.9" cy="179.4" rx="2.5" ry="1.7" transform="rotate(175 354.9 179.4)" fill="#ecb83c"/><ellipse cx="361.5" cy="180.3" rx="2.0" ry="1.4" transform="rotate(7 361.5 180.3)" fill="#d88a30"/><ellipse cx="364.7" cy="179.8" rx="2.3" ry="1.1" transform="rotate(54 364.7 179.8)" fill="#f2cc58"/><ellipse cx="367.7" cy="179.9" rx="2.1" ry="1.1" transform="rotate(5 367.7 179.9)" fill="#d88a30"/><ellipse cx="372.3" cy="179.6" rx="2.3" ry="1.9" transform="rotate(152 372.3 179.6)" fill="#e4a434"/><ellipse cx="379.1" cy="179.6" rx="1.7" ry="1.7" transform="rotate(82 379.1 179.6)" fill="#d88a30"/><ellipse cx="383.5" cy="178.6" rx="2.1" ry="1.4" transform="rotate(50 383.5 178.6)" fill="#e4a434"/><ellipse cx="387.4" cy="179.7" rx="1.5" ry="1.5" transform="rotate(90 387.4 179.7)" fill="#e4a434"/><ellipse cx="391.5" cy="179.4" rx="1.8" ry="1.5" transform="rotate(73 391.5 179.4)" fill="#f2cc58"/><ellipse cx="396.0" cy="179.0" rx="2.1" ry="1.4" transform="rotate(33 396.0 179.0)" fill="#fae6a0"/><ellipse cx="400.3" cy="179.6" rx="2.1" ry="1.7" transform="rotate(25 400.3 179.6)" fill="#e4a434"/><ellipse cx="406.0" cy="177.9" rx="1.6" ry="1.2" transform="rotate(53 406.0 177.9)" fill="#c86a2a"/><ellipse cx="299.8" cy="184.0" rx="2.4" ry="1.8" transform="rotate(175 299.8 184.0)" fill="#fae6a0"/><ellipse cx="301.8" cy="183.5" rx="1.9" ry="1.2" transform="rotate(151 301.8 183.5)" fill="#f2cc58"/><ellipse cx="308.6" cy="182.5" rx="1.7" ry="1.8" transform="rotate(85 308.6 182.5)" fill="#c86a2a"/><ellipse cx="314.4" cy="183.7" rx="1.4" ry="1.8" transform="rotate(55 314.4 183.7)" fill="#fae6a0"/><ellipse cx="316.4" cy="182.4" rx="1.7" ry="1.9" transform="rotate(24 316.4 182.4)" fill="#ecb83c"/><ellipse cx="321.9" cy="183.1" rx="1.7" ry="1.7" transform="rotate(163 321.9 183.1)" fill="#fae6a0"/><ellipse cx="326.5" cy="184.8" rx="2.0" ry="1.2" transform="rotate(22 326.5 184.8)" fill="#ecb83c"/><ellipse cx="331.7" cy="183.7" rx="1.5" ry="1.8" transform="rotate(79 331.7 183.7)" fill="#f2cc58"/><ellipse cx="336.7" cy="185.4" rx="2.5" ry="1.8" transform="rotate(120 336.7 185.4)" fill="#fae6a0"/><ellipse cx="339.7" cy="184.6" rx="2.3" ry="1.8" transform="rotate(87 339.7 184.6)" fill="#c86a2a"/><ellipse cx="345.1" cy="182.8" rx="1.5" ry="1.9" transform="rotate(115 345.1 182.8)" fill="#fae6a0"/><ellipse cx="351.1" cy="184.1" rx="1.6" ry="1.9" transform="rotate(7 351.1 184.1)" fill="#fae6a0"/><ellipse cx="353.4" cy="184.6" rx="1.5" ry="1.8" transform="rotate(92 353.4 184.6)" fill="#f2cc58"/><ellipse cx="357.6" cy="183.4" rx="2.0" ry="1.7" transform="rotate(95 357.6 183.4)" fill="#e4a434"/><ellipse cx="362.7" cy="184.6" rx="1.5" ry="1.6" transform="rotate(25 362.7 184.6)" fill="#c86a2a"/><ellipse cx="367.3" cy="185.3" rx="1.6" ry="1.5" transform="rotate(125 367.3 185.3)" fill="#ecb83c"/><ellipse cx="370.6" cy="185.2" rx="2.5" ry="1.3" transform="rotate(31 370.6 185.2)" fill="#e4a434"/><ellipse cx="375.3" cy="184.8" rx="1.9" ry="1.7" transform="rotate(137 375.3 184.8)" fill="#ecb83c"/><ellipse cx="381.0" cy="182.1" rx="2.3" ry="1.2" transform="rotate(166 381.0 182.1)" fill="#c86a2a"/><ellipse cx="383.9" cy="182.1" rx="2.4" ry="1.5" transform="rotate(47 383.9 182.1)" fill="#ecb83c"/><ellipse cx="391.0" cy="184.1" rx="1.9" ry="1.4" transform="rotate(173 391.0 184.1)" fill="#f2cc58"/><ellipse cx="394.6" cy="184.6" rx="2.3" ry="1.7" transform="rotate(47 394.6 184.6)" fill="#fae6a0"/><ellipse cx="398.6" cy="183.5" rx="2.1" ry="1.3" transform="rotate(97 398.6 183.5)" fill="#d88a30"/><ellipse cx="402.6" cy="183.4" rx="2.2" ry="1.2" transform="rotate(26 402.6 183.4)" fill="#ecb83c"/><ellipse cx="302.0" cy="186.9" rx="1.9" ry="1.9" transform="rotate(115 302.0 186.9)" fill="#fae6a0"/><ellipse cx="306.8" cy="186.9" rx="1.7" ry="1.8" transform="rotate(89 306.8 186.9)" fill="#ecb83c"/><ellipse cx="308.6" cy="187.4" rx="1.9" ry="1.5" transform="rotate(41 308.6 187.4)" fill="#e4a434"/><ellipse cx="315.1" cy="187.0" rx="1.8" ry="1.9" transform="rotate(68 315.1 187.0)" fill="#d88a30"/><ellipse cx="319.0" cy="187.4" rx="2.2" ry="1.5" transform="rotate(16 319.0 187.4)" fill="#e4a434"/><ellipse cx="324.0" cy="186.9" rx="1.9" ry="1.6" transform="rotate(101 324.0 186.9)" fill="#d88a30"/><ellipse cx="329.0" cy="186.7" rx="1.9" ry="1.6" transform="rotate(112 329.0 186.7)" fill="#ecb83c"/><ellipse cx="334.2" cy="187.1" rx="2.0" ry="1.8" transform="rotate(46 334.2 187.1)" fill="#d88a30"/><ellipse cx="337.5" cy="186.5" rx="2.0" ry="1.6" transform="rotate(141 337.5 186.5)" fill="#fae6a0"/><ellipse cx="342.9" cy="188.7" rx="1.9" ry="1.7" transform="rotate(3 342.9 188.7)" fill="#d88a30"/><ellipse cx="347.4" cy="187.0" rx="2.4" ry="1.1" transform="rotate(146 347.4 187.0)" fill="#fae6a0"/><ellipse cx="352.4" cy="189.2" rx="2.4" ry="1.9" transform="rotate(19 352.4 189.2)" fill="#d88a30"/><ellipse cx="355.8" cy="187.1" rx="1.8" ry="1.2" transform="rotate(43 355.8 187.1)" fill="#fae6a0"/><ellipse cx="359.3" cy="188.8" rx="2.3" ry="1.3" transform="rotate(171 359.3 188.8)" fill="#e4a434"/><ellipse cx="364.2" cy="187.1" rx="1.5" ry="1.6" transform="rotate(95 364.2 187.1)" fill="#d88a30"/><ellipse cx="369.7" cy="188.7" rx="2.2" ry="1.6" transform="rotate(129 369.7 188.7)" fill="#e4a434"/><ellipse cx="372.0" cy="187.1" rx="1.9" ry="1.6" transform="rotate(78 372.0 187.1)" fill="#c86a2a"/><ellipse cx="378.3" cy="187.7" rx="1.6" ry="1.9" transform="rotate(29 378.3 187.7)" fill="#ecb83c"/><ellipse cx="381.8" cy="186.7" rx="2.5" ry="1.6" transform="rotate(28 381.8 186.7)" fill="#e4a434"/><ellipse cx="386.1" cy="186.8" rx="2.3" ry="1.2" transform="rotate(19 386.1 186.8)" fill="#fae6a0"/><ellipse cx="390.0" cy="185.9" rx="2.4" ry="1.5" transform="rotate(101 390.0 185.9)" fill="#ecb83c"/><ellipse cx="397.3" cy="188.3" rx="2.2" ry="1.8" transform="rotate(161 397.3 188.3)" fill="#c86a2a"/><ellipse cx="401.2" cy="189.4" rx="2.5" ry="1.5" transform="rotate(114 401.2 189.4)" fill="#d88a30"/><ellipse cx="406.1" cy="186.7" rx="1.9" ry="1.4" transform="rotate(70 406.1 186.7)" fill="#c86a2a"/><ellipse cx="299.8" cy="191.9" rx="1.6" ry="1.7" transform="rotate(11 299.8 191.9)" fill="#c86a2a"/><ellipse cx="304.0" cy="191.3" rx="2.0" ry="1.4" transform="rotate(79 304.0 191.3)" fill="#ecb83c"/><ellipse cx="308.0" cy="191.8" rx="2.4" ry="1.5" transform="rotate(14 308.0 191.8)" fill="#f2cc58"/><ellipse cx="314.1" cy="192.5" rx="1.5" ry="1.6" transform="rotate(135 314.1 192.5)" fill="#fae6a0"/><ellipse cx="316.6" cy="192.4" rx="2.2" ry="1.7" transform="rotate(18 316.6 192.4)" fill="#d88a30"/><ellipse cx="320.1" cy="190.9" rx="1.4" ry="1.9" transform="rotate(77 320.1 190.9)" fill="#e4a434"/><ellipse cx="326.9" cy="191.2" rx="2.3" ry="1.5" transform="rotate(155 326.9 191.2)" fill="#f2cc58"/><ellipse cx="330.1" cy="193.3" rx="1.6" ry="1.7" transform="rotate(25 330.1 193.3)" fill="#e4a434"/><ellipse cx="336.0" cy="192.2" rx="2.3" ry="1.3" transform="rotate(95 336.0 192.2)" fill="#d88a30"/><ellipse cx="340.9" cy="190.8" rx="2.0" ry="1.7" transform="rotate(23 340.9 190.8)" fill="#e4a434"/><ellipse cx="344.4" cy="191.3" rx="2.2" ry="1.6" transform="rotate(6 344.4 191.3)" fill="#d88a30"/><ellipse cx="347.8" cy="192.4" rx="2.4" ry="1.4" transform="rotate(110 347.8 192.4)" fill="#ecb83c"/><ellipse cx="354.0" cy="190.8" rx="2.1" ry="1.9" transform="rotate(171 354.0 190.8)" fill="#ecb83c"/><ellipse cx="356.7" cy="191.6" rx="1.7" ry="1.9" transform="rotate(93 356.7 191.6)" fill="#e4a434"/><ellipse cx="363.2" cy="192.0" rx="2.4" ry="1.4" transform="rotate(29 363.2 192.0)" fill="#d88a30"/><ellipse cx="367.9" cy="193.7" rx="1.8" ry="1.3" transform="rotate(7 367.9 193.7)" fill="#ecb83c"/><ellipse cx="370.6" cy="190.6" rx="2.3" ry="1.7" transform="rotate(109 370.6 190.6)" fill="#c86a2a"/><ellipse cx="375.9" cy="191.9" rx="1.7" ry="1.8" transform="rotate(153 375.9 191.9)" fill="#e4a434"/><ellipse cx="380.9" cy="191.7" rx="2.5" ry="1.1" transform="rotate(117 380.9 191.7)" fill="#ecb83c"/><ellipse cx="383.4" cy="192.8" rx="1.5" ry="1.2" transform="rotate(144 383.4 192.8)" fill="#d88a30"/><ellipse cx="389.0" cy="191.7" rx="2.3" ry="1.8" transform="rotate(173 389.0 191.7)" fill="#d88a30"/><ellipse cx="394.1" cy="190.9" rx="1.6" ry="1.1" transform="rotate(20 394.1 190.9)" fill="#ecb83c"/><ellipse cx="397.8" cy="190.9" rx="2.0" ry="1.6" transform="rotate(158 397.8 190.9)" fill="#c86a2a"/><ellipse cx="404.6" cy="190.9" rx="2.4" ry="1.3" transform="rotate(10 404.6 190.9)" fill="#d88a30"/><ellipse cx="302.3" cy="194.8" rx="2.4" ry="1.5" transform="rotate(67 302.3 194.8)" fill="#c86a2a"/><ellipse cx="307.0" cy="195.3" rx="2.0" ry="1.1" transform="rotate(74 307.0 195.3)" fill="#ecb83c"/><ellipse cx="309.9" cy="196.8" rx="1.6" ry="1.8" transform="rotate(4 309.9 196.8)" fill="#fae6a0"/><ellipse cx="314.4" cy="195.9" rx="1.7" ry="1.7" transform="rotate(22 314.4 195.9)" fill="#c86a2a"/><ellipse cx="321.7" cy="195.8" rx="1.5" ry="1.7" transform="rotate(144 321.7 195.8)" fill="#f2cc58"/><ellipse cx="323.7" cy="194.5" rx="1.5" ry="1.6" transform="rotate(147 323.7 194.5)" fill="#ecb83c"/><ellipse cx="329.5" cy="196.0" rx="1.5" ry="1.5" transform="rotate(121 329.5 196.0)" fill="#ecb83c"/><ellipse cx="332.8" cy="194.4" rx="2.3" ry="1.6" transform="rotate(28 332.8 194.4)" fill="#d88a30"/><ellipse cx="337.4" cy="195.6" rx="1.5" ry="1.8" transform="rotate(165 337.4 195.6)" fill="#ecb83c"/><ellipse cx="342.8" cy="195.7" rx="1.6" ry="1.5" transform="rotate(82 342.8 195.7)" fill="#f2cc58"/><ellipse cx="347.1" cy="196.9" rx="1.7" ry="1.7" transform="rotate(21 347.1 196.9)" fill="#f2cc58"/><ellipse cx="352.1" cy="194.2" rx="1.4" ry="1.3" transform="rotate(171 352.1 194.2)" fill="#fae6a0"/><ellipse cx="355.5" cy="196.3" rx="2.4" ry="1.9" transform="rotate(180 355.5 196.3)" fill="#ecb83c"/><ellipse cx="360.4" cy="196.0" rx="2.2" ry="1.4" transform="rotate(55 360.4 196.0)" fill="#e4a434"/><ellipse cx="362.4" cy="195.4" rx="2.3" ry="1.1" transform="rotate(143 362.4 195.4)" fill="#d88a30"/><ellipse cx="367.9" cy="195.4" rx="1.7" ry="1.7" transform="rotate(113 367.9 195.4)" fill="#f2cc58"/><ellipse cx="373.7" cy="197.0" rx="2.1" ry="1.7" transform="rotate(149 373.7 197.0)" fill="#fae6a0"/><ellipse cx="378.2" cy="195.1" rx="1.6" ry="1.2" transform="rotate(135 378.2 195.1)" fill="#f2cc58"/><ellipse cx="383.8" cy="197.5" rx="2.3" ry="1.5" transform="rotate(37 383.8 197.5)" fill="#d88a30"/><ellipse cx="386.4" cy="196.8" rx="1.4" ry="1.7" transform="rotate(78 386.4 196.8)" fill="#fae6a0"/><ellipse cx="392.0" cy="196.8" rx="1.5" ry="1.4" transform="rotate(118 392.0 196.8)" fill="#ecb83c"/><ellipse cx="394.9" cy="196.0" rx="2.2" ry="1.4" transform="rotate(15 394.9 196.0)" fill="#fae6a0"/><ellipse cx="402.5" cy="192.9" rx="2.2" ry="1.7" transform="rotate(56 402.5 192.9)" fill="#d88a30"/><ellipse cx="405.6" cy="194.4" rx="2.4" ry="1.4" transform="rotate(139 405.6 194.4)" fill="#ecb83c"/><ellipse cx="299.6" cy="201.3" rx="2.3" ry="1.3" transform="rotate(83 299.6 201.3)" fill="#ecb83c"/><ellipse cx="306.1" cy="199.1" rx="1.6" ry="1.6" transform="rotate(85 306.1 199.1)" fill="#d88a30"/><ellipse cx="307.5" cy="200.5" rx="1.6" ry="1.5" transform="rotate(29 307.5 200.5)" fill="#c86a2a"/><ellipse cx="315.4" cy="199.3" rx="1.6" ry="1.9" transform="rotate(66 315.4 199.3)" fill="#f2cc58"/><ellipse cx="316.9" cy="198.4" rx="2.4" ry="1.9" transform="rotate(21 316.9 198.4)" fill="#c86a2a"/><ellipse cx="322.4" cy="200.3" rx="2.4" ry="1.1" transform="rotate(107 322.4 200.3)" fill="#d88a30"/><ellipse cx="327.2" cy="199.7" rx="2.1" ry="1.6" transform="rotate(54 327.2 199.7)" fill="#fae6a0"/><ellipse cx="329.1" cy="201.4" rx="2.4" ry="1.2" transform="rotate(36 329.1 201.4)" fill="#fae6a0"/><ellipse cx="336.9" cy="200.1" rx="2.2" ry="1.2" transform="rotate(62 336.9 200.1)" fill="#fae6a0"/><ellipse cx="341.2" cy="198.8" rx="1.8" ry="1.7" transform="rotate(33 341.2 198.8)" fill="#ecb83c"/><ellipse cx="345.7" cy="200.1" rx="1.5" ry="1.5" transform="rotate(140 345.7 200.1)" fill="#f2cc58"/><ellipse cx="348.1" cy="199.3" rx="1.4" ry="1.4" transform="rotate(114 348.1 199.3)" fill="#f2cc58"/><ellipse cx="352.6" cy="201.4" rx="2.0" ry="1.4" transform="rotate(168 352.6 201.4)" fill="#e4a434"/><ellipse cx="356.8" cy="200.7" rx="2.4" ry="1.5" transform="rotate(113 356.8 200.7)" fill="#c86a2a"/><ellipse cx="363.8" cy="199.9" rx="2.0" ry="1.4" transform="rotate(78 363.8 199.9)" fill="#fae6a0"/><ellipse cx="366.9" cy="198.8" rx="2.5" ry="1.7" transform="rotate(175 366.9 198.8)" fill="#c86a2a"/><ellipse cx="372.8" cy="201.3" rx="2.4" ry="1.2" transform="rotate(48 372.8 201.3)" fill="#e4a434"/><ellipse cx="375.2" cy="200.3" rx="2.4" ry="1.4" transform="rotate(59 375.2 200.3)" fill="#e4a434"/><ellipse cx="379.2" cy="198.6" rx="1.5" ry="1.5" transform="rotate(94 379.2 198.6)" fill="#ecb83c"/><ellipse cx="384.3" cy="200.2" rx="2.3" ry="1.9" transform="rotate(63 384.3 200.2)" fill="#f2cc58"/><ellipse cx="390.9" cy="199.2" rx="2.5" ry="1.4" transform="rotate(43 390.9 199.2)" fill="#fae6a0"/><ellipse cx="393.2" cy="199.9" rx="1.5" ry="1.8" transform="rotate(51 393.2 199.9)" fill="#f2cc58"/><ellipse cx="397.3" cy="200.0" rx="2.3" ry="1.7" transform="rotate(39 397.3 200.0)" fill="#c86a2a"/><ellipse cx="403.1" cy="199.4" rx="2.0" ry="1.5" transform="rotate(126 403.1 199.4)" fill="#c86a2a"/><ellipse cx="301.4" cy="204.5" rx="1.9" ry="1.5" transform="rotate(111 301.4 204.5)" fill="#fae6a0"/><ellipse cx="306.0" cy="204.4" rx="2.3" ry="1.6" transform="rotate(134 306.0 204.4)" fill="#d88a30"/><ellipse cx="311.3" cy="204.0" rx="2.3" ry="1.5" transform="rotate(163 311.3 204.0)" fill="#f2cc58"/><ellipse cx="314.5" cy="203.9" rx="2.5" ry="1.3" transform="rotate(74 314.5 203.9)" fill="#ecb83c"/><ellipse cx="317.8" cy="204.7" rx="2.1" ry="1.4" transform="rotate(67 317.8 204.7)" fill="#c86a2a"/><ellipse cx="324.7" cy="205.0" rx="1.6" ry="1.2" transform="rotate(162 324.7 205.0)" fill="#ecb83c"/><ellipse cx="330.4" cy="203.9" rx="1.5" ry="1.3" transform="rotate(33 330.4 203.9)" fill="#ecb83c"/><ellipse cx="330.8" cy="204.8" rx="1.4" ry="1.2" transform="rotate(23 330.8 204.8)" fill="#ecb83c"/><ellipse cx="339.1" cy="202.6" rx="1.7" ry="1.7" transform="rotate(83 339.1 202.6)" fill="#d88a30"/><ellipse cx="342.7" cy="202.2" rx="1.4" ry="1.2" transform="rotate(148 342.7 202.2)" fill="#ecb83c"/><ellipse cx="348.1" cy="202.9" rx="1.5" ry="1.2" transform="rotate(61 348.1 202.9)" fill="#e4a434"/><ellipse cx="350.4" cy="204.3" rx="1.8" ry="1.5" transform="rotate(77 350.4 204.3)" fill="#d88a30"/><ellipse cx="354.8" cy="204.1" rx="2.4" ry="1.4" transform="rotate(54 354.8 204.1)" fill="#fae6a0"/><ellipse cx="359.4" cy="203.8" rx="1.6" ry="1.3" transform="rotate(56 359.4 203.8)" fill="#d88a30"/><ellipse cx="363.9" cy="204.5" rx="2.4" ry="1.3" transform="rotate(83 363.9 204.5)" fill="#ecb83c"/><ellipse cx="366.5" cy="204.0" rx="1.8" ry="1.8" transform="rotate(110 366.5 204.0)" fill="#ecb83c"/><ellipse cx="373.7" cy="203.5" rx="2.4" ry="1.5" transform="rotate(151 373.7 203.5)" fill="#ecb83c"/><ellipse cx="376.7" cy="204.7" rx="1.7" ry="1.3" transform="rotate(32 376.7 204.7)" fill="#ecb83c"/><ellipse cx="383.3" cy="202.6" rx="1.9" ry="1.7" transform="rotate(101 383.3 202.6)" fill="#e4a434"/><ellipse cx="387.5" cy="203.0" rx="2.0" ry="1.5" transform="rotate(81 387.5 203.0)" fill="#f2cc58"/><ellipse cx="391.0" cy="204.1" rx="2.5" ry="1.2" transform="rotate(178 391.0 204.1)" fill="#ecb83c"/><ellipse cx="397.6" cy="203.8" rx="2.1" ry="1.8" transform="rotate(44 397.6 203.8)" fill="#e4a434"/><ellipse cx="401.3" cy="203.4" rx="2.4" ry="1.4" transform="rotate(74 401.3 203.4)" fill="#e4a434"/><ellipse cx="406.1" cy="204.7" rx="1.6" ry="1.5" transform="rotate(0 406.1 204.7)" fill="#e4a434"/><ellipse cx="297.4" cy="209.2" rx="1.6" ry="1.1" transform="rotate(158 297.4 209.2)" fill="#d88a30"/><ellipse cx="303.3" cy="207.0" rx="1.5" ry="1.6" transform="rotate(83 303.3 207.0)" fill="#e4a434"/><ellipse cx="310.8" cy="208.1" rx="1.5" ry="1.4" transform="rotate(109 310.8 208.1)" fill="#c86a2a"/><ellipse cx="313.5" cy="207.0" rx="2.3" ry="1.4" transform="rotate(137 313.5 207.0)" fill="#fae6a0"/><ellipse cx="317.0" cy="208.5" rx="2.1" ry="1.6" transform="rotate(172 317.0 208.5)" fill="#e4a434"/><ellipse cx="320.3" cy="208.5" rx="2.1" ry="1.8" transform="rotate(87 320.3 208.5)" fill="#d88a30"/><ellipse cx="325.8" cy="206.3" rx="2.5" ry="1.7" transform="rotate(107 325.8 206.3)" fill="#fae6a0"/><ellipse cx="331.9" cy="208.3" rx="2.3" ry="1.5" transform="rotate(27 331.9 208.3)" fill="#fae6a0"/><ellipse cx="335.6" cy="208.1" rx="2.0" ry="1.7" transform="rotate(54 335.6 208.1)" fill="#c86a2a"/><ellipse cx="342.9" cy="209.1" rx="1.7" ry="1.4" transform="rotate(17 342.9 209.1)" fill="#c86a2a"/><ellipse cx="342.9" cy="208.9" rx="1.7" ry="1.3" transform="rotate(51 342.9 208.9)" fill="#e4a434"/><ellipse cx="346.0" cy="206.5" rx="2.2" ry="1.5" transform="rotate(51 346.0 206.5)" fill="#d88a30"/><ellipse cx="354.1" cy="208.1" rx="2.2" ry="1.8" transform="rotate(83 354.1 208.1)" fill="#ecb83c"/><ellipse cx="356.9" cy="208.7" rx="2.2" ry="1.8" transform="rotate(38 356.9 208.7)" fill="#c86a2a"/><ellipse cx="363.5" cy="208.5" rx="2.5" ry="1.7" transform="rotate(65 363.5 208.5)" fill="#c86a2a"/><ellipse cx="365.7" cy="208.0" rx="1.9" ry="1.2" transform="rotate(130 365.7 208.0)" fill="#fae6a0"/><ellipse cx="370.8" cy="208.0" rx="1.5" ry="1.6" transform="rotate(166 370.8 208.0)" fill="#f2cc58"/><ellipse cx="376.3" cy="207.6" rx="1.9" ry="1.5" transform="rotate(99 376.3 207.6)" fill="#d88a30"/><ellipse cx="380.6" cy="206.9" rx="2.1" ry="1.9" transform="rotate(162 380.6 206.9)" fill="#c86a2a"/><ellipse cx="384.3" cy="208.3" rx="2.2" ry="1.2" transform="rotate(167 384.3 208.3)" fill="#fae6a0"/><ellipse cx="390.4" cy="208.1" rx="1.7" ry="1.8" transform="rotate(137 390.4 208.1)" fill="#c86a2a"/><ellipse cx="394.3" cy="208.8" rx="1.5" ry="1.7" transform="rotate(40 394.3 208.8)" fill="#fae6a0"/><ellipse cx="399.8" cy="208.8" rx="1.7" ry="1.2" transform="rotate(54 399.8 208.8)" fill="#fae6a0"/><ellipse cx="401.9" cy="208.6" rx="2.0" ry="1.9" transform="rotate(49 401.9 208.6)" fill="#e4a434"/><ellipse cx="302.7" cy="213.7" rx="1.7" ry="1.2" transform="rotate(99 302.7 213.7)" fill="#d88a30"/><ellipse cx="305.3" cy="212.5" rx="2.5" ry="1.8" transform="rotate(175 305.3 212.5)" fill="#e4a434"/><ellipse cx="310.6" cy="210.7" rx="2.4" ry="1.7" transform="rotate(62 310.6 210.7)" fill="#fae6a0"/><ellipse cx="315.5" cy="211.4" rx="1.7" ry="1.4" transform="rotate(38 315.5 211.4)" fill="#d88a30"/><ellipse cx="320.0" cy="211.2" rx="2.4" ry="1.6" transform="rotate(49 320.0 211.2)" fill="#c86a2a"/><ellipse cx="322.5" cy="212.5" rx="2.4" ry="1.1" transform="rotate(4 322.5 212.5)" fill="#e4a434"/><ellipse cx="329.2" cy="211.2" rx="1.9" ry="1.9" transform="rotate(66 329.2 211.2)" fill="#c86a2a"/><ellipse cx="332.0" cy="212.5" rx="2.2" ry="1.4" transform="rotate(19 332.0 212.5)" fill="#f2cc58"/><ellipse cx="335.3" cy="211.6" rx="2.2" ry="1.3" transform="rotate(63 335.3 211.6)" fill="#fae6a0"/><ellipse cx="341.5" cy="212.7" rx="2.5" ry="1.9" transform="rotate(49 341.5 212.7)" fill="#d88a30"/><ellipse cx="346.3" cy="212.6" rx="2.1" ry="1.2" transform="rotate(45 346.3 212.6)" fill="#d88a30"/><ellipse cx="350.5" cy="211.3" rx="2.3" ry="1.3" transform="rotate(133 350.5 211.3)" fill="#c86a2a"/><ellipse cx="356.1" cy="210.8" rx="2.4" ry="1.6" transform="rotate(69 356.1 210.8)" fill="#ecb83c"/><ellipse cx="360.0" cy="211.6" rx="1.8" ry="1.5" transform="rotate(103 360.0 211.6)" fill="#e4a434"/><ellipse cx="365.8" cy="211.7" rx="1.4" ry="1.2" transform="rotate(137 365.8 211.7)" fill="#f2cc58"/><ellipse cx="369.1" cy="213.1" rx="2.1" ry="1.1" transform="rotate(36 369.1 213.1)" fill="#ecb83c"/><ellipse cx="373.9" cy="212.3" rx="2.0" ry="1.1" transform="rotate(33 373.9 212.3)" fill="#d88a30"/><ellipse cx="376.2" cy="212.5" rx="1.4" ry="1.3" transform="rotate(144 376.2 212.5)" fill="#ecb83c"/><ellipse cx="381.0" cy="211.7" rx="1.6" ry="1.6" transform="rotate(167 381.0 211.7)" fill="#e4a434"/><ellipse cx="387.5" cy="212.2" rx="1.7" ry="1.6" transform="rotate(58 387.5 212.2)" fill="#fae6a0"/><ellipse cx="391.0" cy="213.3" rx="1.5" ry="1.6" transform="rotate(83 391.0 213.3)" fill="#ecb83c"/><ellipse cx="395.2" cy="211.3" rx="1.4" ry="1.1" transform="rotate(66 395.2 211.3)" fill="#c86a2a"/><ellipse cx="401.7" cy="212.6" rx="2.4" ry="1.7" transform="rotate(161 401.7 212.6)" fill="#e4a434"/><ellipse cx="406.2" cy="211.4" rx="2.3" ry="1.7" transform="rotate(119 406.2 211.4)" fill="#d88a30"/><ellipse cx="300.0" cy="215.1" rx="1.8" ry="1.8" transform="rotate(31 300.0 215.1)" fill="#e4a434"/><ellipse cx="304.7" cy="216.7" rx="2.5" ry="1.3" transform="rotate(137 304.7 216.7)" fill="#fae6a0"/><ellipse cx="309.4" cy="217.3" rx="2.4" ry="1.2" transform="rotate(91 309.4 217.3)" fill="#c86a2a"/><ellipse cx="312.6" cy="214.3" rx="2.4" ry="1.8" transform="rotate(61 312.6 214.3)" fill="#c86a2a"/><ellipse cx="315.9" cy="217.1" rx="2.2" ry="1.4" transform="rotate(85 315.9 217.1)" fill="#ecb83c"/><ellipse cx="322.2" cy="215.0" rx="2.2" ry="1.6" transform="rotate(41 322.2 215.0)" fill="#d88a30"/><ellipse cx="326.0" cy="216.5" rx="1.9" ry="1.8" transform="rotate(48 326.0 216.5)" fill="#c86a2a"/><ellipse cx="331.0" cy="217.0" rx="2.3" ry="1.3" transform="rotate(104 331.0 217.0)" fill="#f2cc58"/><ellipse cx="334.8" cy="215.8" rx="2.0" ry="1.3" transform="rotate(82 334.8 215.8)" fill="#d88a30"/><ellipse cx="338.5" cy="215.8" rx="1.4" ry="1.7" transform="rotate(159 338.5 215.8)" fill="#e4a434"/><ellipse cx="346.1" cy="215.4" rx="1.9" ry="1.4" transform="rotate(72 346.1 215.4)" fill="#fae6a0"/><ellipse cx="347.3" cy="217.5" rx="2.2" ry="1.7" transform="rotate(120 347.3 217.5)" fill="#e4a434"/><ellipse cx="354.7" cy="216.3" rx="2.5" ry="1.7" transform="rotate(123 354.7 216.3)" fill="#e4a434"/><ellipse cx="359.7" cy="215.1" rx="2.2" ry="1.7" transform="rotate(52 359.7 215.1)" fill="#fae6a0"/><ellipse cx="362.8" cy="216.6" rx="2.4" ry="1.8" transform="rotate(41 362.8 216.6)" fill="#ecb83c"/><ellipse cx="367.3" cy="217.0" rx="1.9" ry="1.7" transform="rotate(94 367.3 217.0)" fill="#c86a2a"/><ellipse cx="369.4" cy="216.5" rx="2.4" ry="1.6" transform="rotate(91 369.4 216.5)" fill="#c86a2a"/><ellipse cx="377.0" cy="216.5" rx="1.5" ry="1.6" transform="rotate(142 377.0 216.5)" fill="#c86a2a"/><ellipse cx="378.5" cy="215.2" rx="2.1" ry="1.6" transform="rotate(150 378.5 215.2)" fill="#e4a434"/><ellipse cx="383.8" cy="215.6" rx="1.6" ry="1.6" transform="rotate(7 383.8 215.6)" fill="#c86a2a"/><ellipse cx="390.6" cy="216.6" rx="1.4" ry="1.6" transform="rotate(56 390.6 216.6)" fill="#f2cc58"/><ellipse cx="393.6" cy="216.0" rx="1.5" ry="1.4" transform="rotate(130 393.6 216.0)" fill="#f2cc58"/><ellipse cx="398.3" cy="217.5" rx="2.4" ry="1.8" transform="rotate(54 398.3 217.5)" fill="#f2cc58"/><ellipse cx="402.6" cy="215.6" rx="2.4" ry="1.1" transform="rotate(125 402.6 215.6)" fill="#e4a434"/></g><clipPath id="c4"><rect x="413.0" y="111.5" width="105.0" height="105.3"/></clipPath><g clip-path="url(#c4)"><rect x="413.0" y="111.5" width="105.0" height="105.3" fill="url(#g4h)"/><rect x="413.0" y="111.5" width="105.0" height="105.3" filter="url(#t4)" opacity="0.6"/><rect x="413.0" y="111.5" width="105.0" height="105.3" fill="url(#g4v)"/><g fill="#fff0e8" filter="url(#sb)"><circle cx="454.2" cy="195.1" r="1.04"/><circle cx="484.6" cy="197.7" r="1.10"/><circle cx="431.5" cy="162.3" r="1.15"/><circle cx="414.1" cy="189.2" r="1.25"/><circle cx="420.9" cy="191.3" r="0.90"/><circle cx="442.4" cy="131.0" r="1.04"/><circle cx="435.9" cy="181.7" r="1.20"/><circle cx="457.6" cy="188.4" r="0.94"/><circle cx="471.6" cy="117.0" r="1.11"/><circle cx="487.4" cy="200.0" r="0.95"/><circle cx="474.9" cy="169.0" r="0.88"/><circle cx="476.7" cy="113.2" r="1.07"/><circle cx="451.5" cy="191.1" r="0.85"/><circle cx="440.2" cy="161.2" r="1.13"/><circle cx="490.6" cy="178.0" r="1.02"/><circle cx="432.3" cy="152.7" r="1.24"/><circle cx="504.2" cy="117.6" r="1.21"/><circle cx="445.3" cy="113.3" r="0.87"/><circle cx="488.2" cy="215.1" r="1.19"/><circle cx="496.4" cy="147.2" r="1.08"/><circle cx="442.3" cy="139.0" r="1.25"/><circle cx="501.0" cy="117.9" r="1.00"/><circle cx="440.7" cy="197.2" r="1.28"/><circle cx="488.6" cy="152.2" r="1.30"/><circle cx="432.4" cy="186.6" r="1.02"/><circle cx="493.6" cy="194.6" r="1.29"/><circle cx="452.8" cy="154.0" r="0.86"/><circle cx="444.1" cy="180.0" r="0.92"/><circle cx="498.1" cy="154.0" r="0.91"/><circle cx="472.2" cy="134.0" r="0.95"/><circle cx="475.0" cy="183.2" r="1.20"/><circle cx="490.3" cy="122.6" r="1.07"/><circle cx="511.1" cy="182.6" r="1.11"/><circle cx="446.3" cy="155.5" r="1.15"/><circle cx="513.7" cy="173.5" r="0.96"/><circle cx="417.3" cy="210.3" r="1.28"/><circle cx="455.3" cy="120.2" r="1.02"/><circle cx="514.7" cy="171.1" r="0.91"/><circle cx="450.3" cy="115.7" r="1.20"/><circle cx="415.3" cy="153.6" r="1.14"/><circle cx="420.8" cy="154.5" r="1.12"/><circle cx="426.2" cy="135.0" r="0.92"/><circle cx="428.2" cy="189.4" r="1.08"/><circle cx="483.5" cy="172.2" r="1.29"/><circle cx="444.1" cy="159.4" r="0.86"/><circle cx="495.1" cy="155.5" r="1.13"/><circle cx="428.9" cy="201.8" r="1.23"/><circle cx="462.0" cy="154.8" r="1.16"/><circle cx="440.8" cy="148.5" r="1.11"/><circle cx="466.7" cy="213.9" r="1.12"/><circle cx="414.1" cy="171.2" r="1.00"/><circle cx="462.3" cy="112.7" r="1.02"/><circle cx="426.5" cy="186.3" r="1.08"/><circle cx="491.9" cy="154.4" r="1.24"/><circle cx="440.9" cy="174.8" r="1.08"/><circle cx="455.8" cy="156.5" r="1.27"/><circle cx="501.0" cy="128.0" r="0.91"/><circle cx="508.8" cy="150.3" r="1.00"/><circle cx="443.8" cy="132.4" r="1.01"/><circle cx="415.1" cy="158.4" r="1.07"/><circle cx="466.9" cy="186.7" r="1.00"/><circle cx="459.4" cy="126.0" r="1.19"/><circle cx="453.8" cy="129.0" r="0.89"/><circle cx="415.1" cy="142.5" r="1.13"/><circle cx="488.9" cy="189.6" r="1.20"/><circle cx="491.0" cy="132.7" r="1.02"/><circle cx="434.1" cy="162.0" r="0.85"/><circle cx="512.8" cy="215.4" r="0.94"/><circle cx="480.5" cy="213.0" r="1.19"/><circle cx="472.6" cy="120.4" r="1.10"/><circle cx="439.7" cy="151.8" r="0.97"/><circle cx="516.2" cy="201.7" r="1.14"/><circle cx="507.4" cy="120.9" r="0.93"/><circle cx="499.6" cy="174.7" r="1.14"/><circle cx="493.6" cy="175.9" r="1.04"/><circle cx="434.9" cy="209.0" r="1.11"/><circle cx="476.8" cy="186.9" r="1.29"/><circle cx="473.6" cy="178.7" r="1.00"/><circle cx="495.2" cy="215.4" r="0.95"/><circle cx="485.2" cy="139.4" r="1.24"/><circle cx="472.1" cy="212.5" r="1.14"/><circle cx="473.6" cy="195.6" r="1.02"/><circle cx="471.5" cy="187.4" r="1.30"/><circle cx="489.7" cy="205.0" r="1.26"/><circle cx="485.9" cy="204.6" r="1.15"/><circle cx="505.5" cy="157.0" r="1.19"/><circle cx="513.6" cy="132.3" r="1.00"/><circle cx="506.1" cy="189.0" r="1.17"/><circle cx="441.5" cy="143.8" r="0.87"/><circle cx="439.9" cy="127.0" r="0.88"/><circle cx="414.8" cy="196.6" r="0.88"/><circle cx="484.4" cy="145.4" r="0.98"/><circle cx="423.6" cy="175.6" r="1.23"/><circle cx="440.1" cy="169.1" r="1.29"/><circle cx="482.4" cy="160.4" r="0.89"/><circle cx="487.8" cy="131.1" r="1.10"/><circle cx="415.2" cy="214.1" r="1.27"/><circle cx="494.4" cy="169.2" r="1.08"/><circle cx="446.9" cy="206.6" r="1.17"/><circle cx="478.2" cy="136.0" r="1.05"/><circle cx="467.4" cy="148.9" r="0.89"/><circle cx="419.0" cy="186.0" r="0.95"/><circle cx="427.0" cy="187.0" r="1.05"/><circle cx="447.4" cy="113.3" r="0.96"/><circle cx="461.4" cy="136.6" r="0.95"/><circle cx="450.2" cy="162.9" r="1.09"/><circle cx="479.4" cy="168.2" r="1.03"/><circle cx="513.7" cy="165.1" r="1.21"/><circle cx="437.5" cy="136.7" r="0.91"/><circle cx="434.6" cy="136.4" r="0.97"/><circle cx="463.2" cy="210.9" r="1.06"/><circle cx="464.6" cy="172.3" r="1.08"/><circle cx="501.3" cy="167.4" r="1.10"/><circle cx="460.3" cy="167.9" r="1.13"/><circle cx="492.0" cy="136.8" r="1.08"/><circle cx="508.5" cy="172.3" r="1.23"/><circle cx="484.4" cy="148.0" r="1.30"/><circle cx="475.5" cy="119.5" r="0.95"/><circle cx="437.1" cy="154.4" r="0.91"/><circle cx="488.5" cy="129.6" r="0.96"/><circle cx="490.7" cy="133.5" r="1.24"/><circle cx="491.1" cy="138.0" r="1.04"/><circle cx="493.1" cy="198.5" r="1.12"/><circle cx="498.7" cy="153.1" r="1.18"/><circle cx="433.1" cy="152.5" r="1.07"/><circle cx="436.7" cy="183.4" r="1.28"/><circle cx="515.3" cy="128.6" r="1.03"/><circle cx="481.0" cy="204.8" r="0.95"/><circle cx="415.4" cy="160.9" r="1.24"/><circle cx="505.3" cy="159.7" r="1.14"/><circle cx="416.0" cy="148.0" r="1.13"/><circle cx="466.2" cy="164.1" r="1.09"/><circle cx="491.7" cy="184.4" r="0.92"/><circle cx="502.8" cy="116.9" r="1.27"/><circle cx="423.2" cy="174.7" r="1.28"/><circle cx="507.6" cy="117.9" r="1.18"/><circle cx="420.9" cy="145.8" r="1.27"/><circle cx="494.7" cy="201.2" r="1.09"/><circle cx="475.5" cy="199.2" r="0.91"/><circle cx="454.0" cy="137.4" r="1.04"/><circle cx="510.6" cy="151.2" r="0.99"/><circle cx="423.5" cy="133.8" r="0.90"/><circle cx="484.0" cy="156.1" r="1.16"/><circle cx="508.8" cy="163.3" r="0.87"/><circle cx="477.7" cy="141.3" r="1.22"/><circle cx="505.3" cy="158.8" r="0.96"/><circle cx="487.4" cy="207.6" r="0.90"/><circle cx="502.4" cy="143.0" r="0.94"/><circle cx="516.7" cy="149.0" r="1.12"/><circle cx="464.2" cy="169.4" r="0.93"/><circle cx="515.4" cy="193.6" r="0.85"/><circle cx="494.1" cy="135.4" r="1.19"/><circle cx="455.2" cy="131.3" r="1.16"/><circle cx="480.9" cy="190.3" r="1.09"/><circle cx="470.7" cy="135.4" r="1.14"/><circle cx="475.3" cy="117.4" r="1.23"/><circle cx="491.8" cy="142.8" r="0.85"/><circle cx="505.5" cy="144.5" r="1.12"/><circle cx="501.6" cy="175.0" r="1.19"/><circle cx="516.1" cy="185.8" r="0.91"/><circle cx="492.9" cy="174.7" r="1.07"/><circle cx="465.4" cy="190.9" r="1.21"/><circle cx="467.0" cy="215.0" r="0.91"/><circle cx="515.4" cy="126.9" r="1.08"/><circle cx="508.3" cy="163.4" r="0.93"/><circle cx="510.8" cy="164.3" r="1.19"/><circle cx="468.8" cy="137.7" r="1.28"/><circle cx="452.6" cy="144.3" r="1.25"/><circle cx="468.6" cy="196.4" r="1.22"/><circle cx="482.4" cy="131.4" r="0.93"/><circle cx="456.6" cy="121.0" r="1.03"/><circle cx="492.4" cy="184.8" r="1.20"/><circle cx="509.1" cy="190.9" r="1.19"/><circle cx="462.0" cy="132.8" r="1.25"/><circle cx="487.3" cy="147.7" r="1.27"/><circle cx="499.7" cy="178.8" r="1.15"/><circle cx="423.5" cy="138.8" r="1.17"/><circle cx="480.2" cy="120.6" r="1.01"/><circle cx="476.8" cy="145.7" r="1.15"/><circle cx="484.2" cy="139.8" r="1.26"/><circle cx="426.5" cy="206.7" r="1.16"/><circle cx="512.0" cy="187.3" r="1.12"/><circle cx="418.3" cy="162.3" r="1.03"/><circle cx="504.5" cy="147.1" r="1.19"/><circle cx="442.1" cy="126.5" r="1.09"/><circle cx="439.3" cy="129.5" r="0.92"/><circle cx="505.1" cy="174.3" r="1.18"/><circle cx="465.8" cy="185.2" r="1.07"/><circle cx="503.9" cy="172.7" r="1.27"/><circle cx="514.0" cy="124.8" r="0.91"/><circle cx="453.2" cy="197.7" r="1.26"/><circle cx="443.4" cy="205.0" r="0.96"/><circle cx="435.1" cy="159.2" r="1.16"/><circle cx="497.7" cy="167.1" r="0.86"/><circle cx="462.9" cy="114.4" r="1.18"/><circle cx="474.9" cy="172.9" r="0.98"/><circle cx="513.8" cy="163.9" r="1.28"/><circle cx="484.8" cy="119.2" r="0.96"/><circle cx="476.0" cy="185.5" r="1.08"/><circle cx="488.4" cy="141.0" r="1.04"/><circle cx="480.3" cy="214.2" r="1.15"/><circle cx="453.9" cy="133.4" r="1.23"/><circle cx="475.5" cy="168.4" r="1.08"/></g></g><text x="303.3" y="14.1" class="bl" textLength="16.2" lengthAdjust="spacingAndGlyphs">b1</text><text x="401.0" y="14.3" class="gl" text-anchor="end">YB2.5</text><text x="416.1" y="14.1" class="bl" textLength="16.2" lengthAdjust="spacingAndGlyphs">b2</text><text x="512.5" y="14.3" class="gl" text-anchor="end">YB4</text><text x="303.3" y="123.9" class="bl" textLength="16.2" lengthAdjust="spacingAndGlyphs">b3</text><text x="400.9" y="125.3" class="gl" text-anchor="end">YB20</text><text x="415.8" y="123.9" class="bl" textLength="16.2" lengthAdjust="spacingAndGlyphs">b4</text><text x="512.5" y="125.0" class="gl" text-anchor="end">YB30</text><text x="503" y="202.2" class="gl2" text-anchor="middle">1 μm</text><rect x="381" y="97.5" width="20" height="2.6" fill="#fff"/><rect x="493" y="97.5" width="19.5" height="2.6" fill="#fff"/><rect x="366" y="209.8" width="35" height="3" fill="#fff"/><rect x="492.5" y="207.6" width="21" height="3" fill="#fff"/>
<rect x="337.7" y="220.4" width="143.8" height="6.9" fill="url(#cb)" stroke="#888" stroke-width="0.5"/><line x1="352.5" y1="224" x2="352.5" y2="231" stroke="#111" stroke-width="1"/><text x="352.5" y="242.3" class="tk" text-anchor="middle">-4</text><line x1="381.0" y1="224" x2="381.0" y2="231" stroke="#111" stroke-width="1"/><text x="381.0" y="242.3" class="tk" text-anchor="middle">-2</text><line x1="409.5" y1="224" x2="409.5" y2="231" stroke="#111" stroke-width="1"/><text x="409.5" y="242.3" class="tk" text-anchor="middle">0</text><line x1="438.0" y1="224" x2="438.0" y2="231" stroke="#111" stroke-width="1"/><text x="438.0" y="242.3" class="tk" text-anchor="middle">2</text><line x1="466.5" y1="224" x2="466.5" y2="231" stroke="#111" stroke-width="1"/><text x="466.5" y="242.3" class="tk" text-anchor="middle">4</text><text x="492.3" y="241.9" class="tk nm">nm</text>
</svg>
</body></html>
